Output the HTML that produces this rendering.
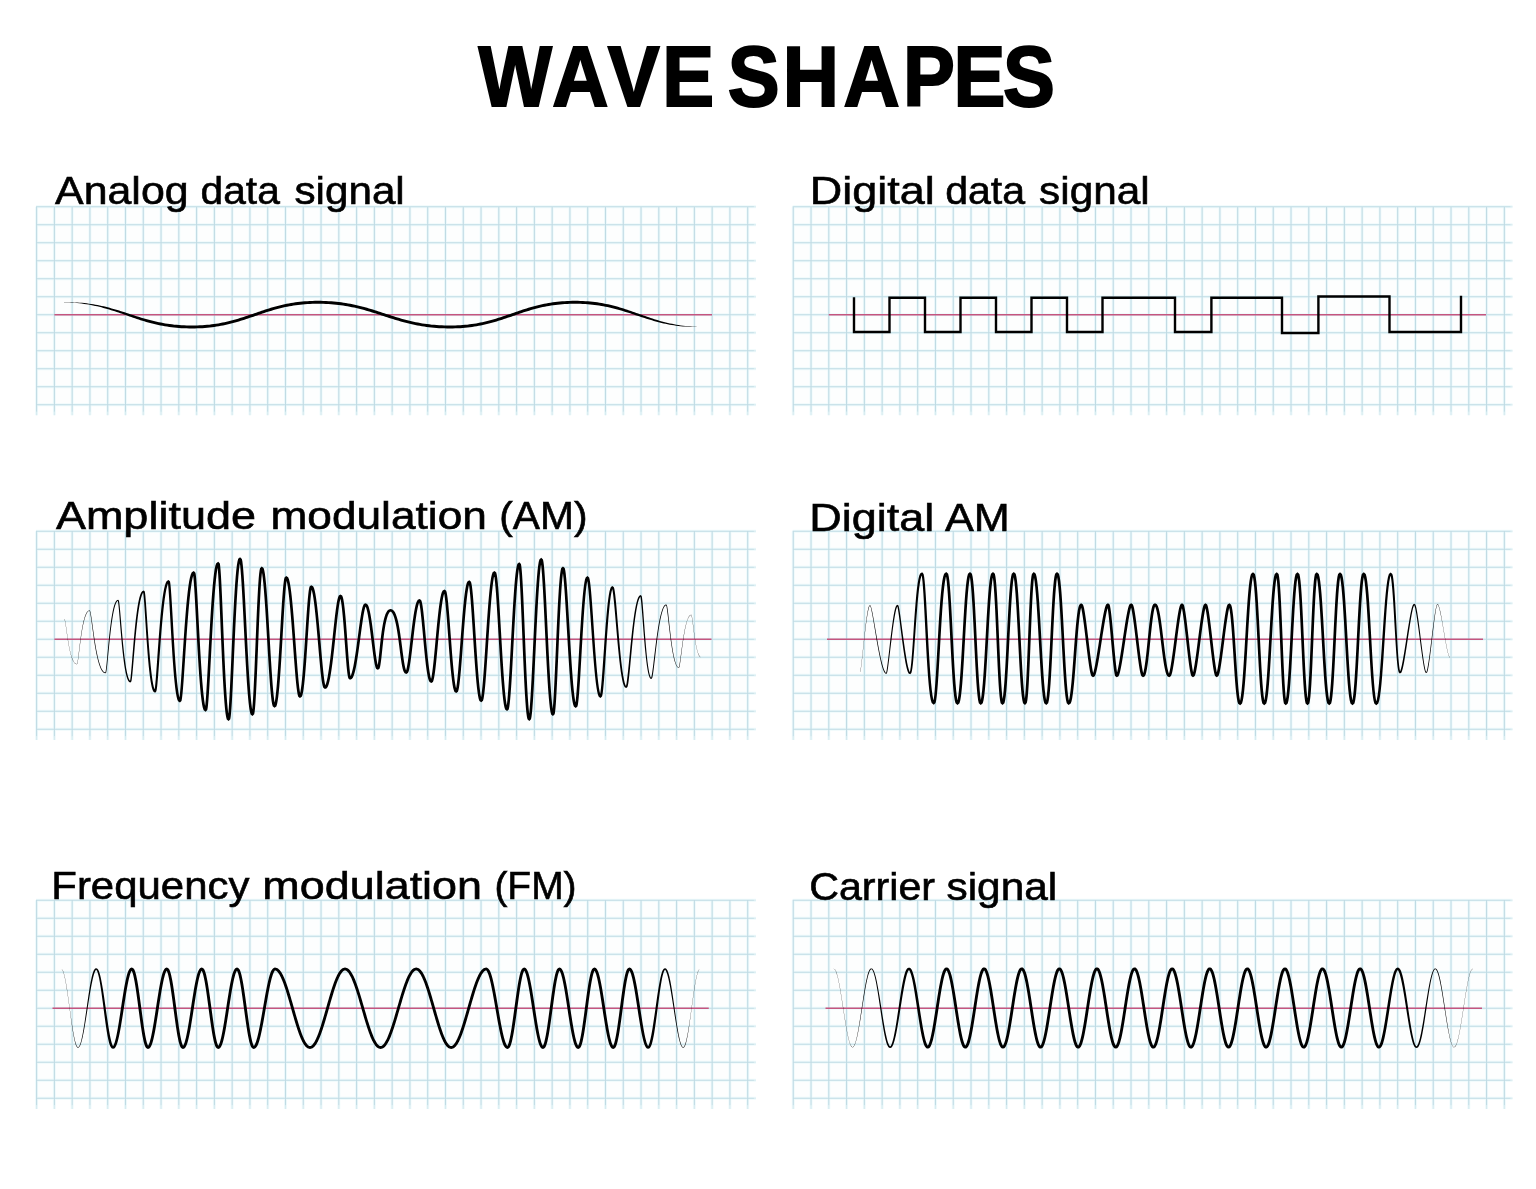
<!DOCTYPE html>
<html lang="en"><head><meta charset="utf-8"><title>Wave Shapes</title>
<style>html,body{margin:0;padding:0;background:#fff;overflow:hidden}svg{display:block}</style>
</head><body>
<svg width="1536" height="1189" viewBox="0 0 1536 1189" role="img" aria-label="Wave shapes">
<rect width="1536" height="1189" fill="#fff"/>
<text id="title" transform="scale(0.92,1)" x="520.0 600.3 660.5 719.8 755.4 790.9 850.8 916.9 981.6 1036.4 1090.2" y="106.5" font-family="'Liberation Sans', sans-serif" font-size="84.6" font-weight="bold" fill="#000" stroke="#000" stroke-width="2" stroke-linejoin="miter">WAVE SHAPES</text>
<g id="panel-analog">
<rect x="36.60" y="206.70" width="711.10" height="198.00" fill="#fdfefe"/>
<path d="M36.60,206.70V411.70M54.38,206.70V411.70M72.16,206.70V411.70M89.93,206.70V411.70M107.71,206.70V411.70M125.49,206.70V411.70M143.26,206.70V411.70M161.04,206.70V411.70M178.82,206.70V411.70M196.60,206.70V411.70M214.38,206.70V411.70M232.15,206.70V411.70M249.93,206.70V411.70M267.71,206.70V411.70M285.49,206.70V411.70M303.26,206.70V411.70M321.04,206.70V411.70M338.82,206.70V411.70M356.60,206.70V411.70M374.37,206.70V411.70M392.15,206.70V411.70M409.93,206.70V411.70M427.71,206.70V411.70M445.48,206.70V411.70M463.26,206.70V411.70M481.04,206.70V411.70M498.81,206.70V411.70M516.59,206.70V411.70M534.37,206.70V411.70M552.15,206.70V411.70M569.93,206.70V411.70M587.70,206.70V411.70M605.48,206.70V411.70M623.26,206.70V411.70M641.03,206.70V411.70M658.81,206.70V411.70M676.59,206.70V411.70M694.37,206.70V411.70M712.14,206.70V411.70M729.92,206.70V411.70M747.70,206.70V411.70M36.00,206.70H753.90M36.00,224.70H753.90M36.00,242.70H753.90M36.00,260.70H753.90M36.00,278.70H753.90M36.00,296.70H753.90M36.00,314.70H753.90M36.00,332.70H753.90M36.00,350.70H753.90M36.00,368.70H753.90M36.00,386.70H753.90M36.00,404.70H753.90M36.60,411.70v3.6M54.38,411.70v3.6M72.16,411.70v3.6M89.93,411.70v3.6M107.71,411.70v3.6M125.49,411.70v3.6M143.26,411.70v3.6M161.04,411.70v3.6M178.82,411.70v3.6M196.60,411.70v3.6M214.38,411.70v3.6M232.15,411.70v3.6M249.93,411.70v3.6M267.71,411.70v3.6M285.49,411.70v3.6M303.26,411.70v3.6M321.04,411.70v3.6M338.82,411.70v3.6M356.60,411.70v3.6M374.37,411.70v3.6M392.15,411.70v3.6M409.93,411.70v3.6M427.71,411.70v3.6M445.48,411.70v3.6M463.26,411.70v3.6M481.04,411.70v3.6M498.81,411.70v3.6M516.59,411.70v3.6M534.37,411.70v3.6M552.15,411.70v3.6M569.93,411.70v3.6M587.70,411.70v3.6M605.48,411.70v3.6M623.26,411.70v3.6M641.03,411.70v3.6M658.81,411.70v3.6M676.59,411.70v3.6M694.37,411.70v3.6M712.14,411.70v3.6M729.92,411.70v3.6M747.70,411.70v3.6M753.90,206.70h2M753.90,224.70h2M753.90,242.70h2M753.90,260.70h2M753.90,278.70h2M753.90,296.70h2M753.90,314.70h2M753.90,332.70h2M753.90,350.70h2M753.90,368.70h2M753.90,386.70h2M753.90,404.70h2" fill="none" stroke="#eefafc" stroke-width="3"/>
<path d="M36.60,206.70V411.70M54.38,206.70V411.70M72.16,206.70V411.70M89.93,206.70V411.70M107.71,206.70V411.70M125.49,206.70V411.70M143.26,206.70V411.70M161.04,206.70V411.70M178.82,206.70V411.70M196.60,206.70V411.70M214.38,206.70V411.70M232.15,206.70V411.70M249.93,206.70V411.70M267.71,206.70V411.70M285.49,206.70V411.70M303.26,206.70V411.70M321.04,206.70V411.70M338.82,206.70V411.70M356.60,206.70V411.70M374.37,206.70V411.70M392.15,206.70V411.70M409.93,206.70V411.70M427.71,206.70V411.70M445.48,206.70V411.70M463.26,206.70V411.70M481.04,206.70V411.70M498.81,206.70V411.70M516.59,206.70V411.70M534.37,206.70V411.70M552.15,206.70V411.70M569.93,206.70V411.70M587.70,206.70V411.70M605.48,206.70V411.70M623.26,206.70V411.70M641.03,206.70V411.70M658.81,206.70V411.70M676.59,206.70V411.70M694.37,206.70V411.70M712.14,206.70V411.70M729.92,206.70V411.70M747.70,206.70V411.70M36.00,206.70H753.90M36.00,224.70H753.90M36.00,242.70H753.90M36.00,260.70H753.90M36.00,278.70H753.90M36.00,296.70H753.90M36.00,314.70H753.90M36.00,332.70H753.90M36.00,350.70H753.90M36.00,368.70H753.90M36.00,386.70H753.90M36.00,404.70H753.90" fill="none" stroke="#c0dbe4" stroke-width="1.1"/>
<path d="M36.60,411.70v3.6M54.38,411.70v3.6M72.16,411.70v3.6M89.93,411.70v3.6M107.71,411.70v3.6M125.49,411.70v3.6M143.26,411.70v3.6M161.04,411.70v3.6M178.82,411.70v3.6M196.60,411.70v3.6M214.38,411.70v3.6M232.15,411.70v3.6M249.93,411.70v3.6M267.71,411.70v3.6M285.49,411.70v3.6M303.26,411.70v3.6M321.04,411.70v3.6M338.82,411.70v3.6M356.60,411.70v3.6M374.37,411.70v3.6M392.15,411.70v3.6M409.93,411.70v3.6M427.71,411.70v3.6M445.48,411.70v3.6M463.26,411.70v3.6M481.04,411.70v3.6M498.81,411.70v3.6M516.59,411.70v3.6M534.37,411.70v3.6M552.15,411.70v3.6M569.93,411.70v3.6M587.70,411.70v3.6M605.48,411.70v3.6M623.26,411.70v3.6M641.03,411.70v3.6M658.81,411.70v3.6M676.59,411.70v3.6M694.37,411.70v3.6M712.14,411.70v3.6M729.92,411.70v3.6M747.70,411.70v3.6M753.90,206.70h2M753.90,224.70h2M753.90,242.70h2M753.90,260.70h2M753.90,278.70h2M753.90,296.70h2M753.90,314.70h2M753.90,332.70h2M753.90,350.70h2M753.90,368.70h2M753.90,386.70h2M753.90,404.70h2" fill="none" stroke="#c0dbe4" stroke-width="1.1" opacity="0.5"/>
<path d="M54.4,314.7H712" stroke="#c5557f" stroke-width="1.6" fill="none"/>
<text y="204.2" font-family="'Liberation Sans', sans-serif" font-size="39" fill="#000" stroke="#000" stroke-width="0.6"><tspan x="55.1" textLength="133.48" lengthAdjust="spacingAndGlyphs">Analog</tspan> <tspan x="200.56" textLength="79.25" lengthAdjust="spacingAndGlyphs">data</tspan> <tspan x="294.42" textLength="110.35" lengthAdjust="spacingAndGlyphs">signal</tspan></text>
<path d="M64.00,302.40L66.72,302.42L69.38,302.49L71.98,302.64L74.52,302.83L77.01,303.05L79.44,303.31L81.83,303.59L84.16,303.91L86.45,304.25L88.69,304.62L90.90,305.02L93.06,305.44L95.18,305.89L97.27,306.36L99.33,306.85L101.35,307.35L103.34,307.88L105.31,308.42L107.25,308.98L109.18,309.55L111.08,310.13L112.96,310.73L114.82,311.34L116.68,311.95L118.52,312.57L120.35,313.20L122.18,313.83L123.99,314.47L125.81,315.11L127.63,315.75L129.45,316.39L131.27,317.03L133.09,317.66L134.93,318.29L136.77,318.92L138.63,319.53L140.50,320.14L142.38,320.74L144.29,321.33L146.21,321.90L148.16,322.46L150.13,323.00L152.13,323.53L154.15,324.03L156.21,324.52L158.30,324.99L160.42,325.43L162.58,325.85L164.77,326.24L167.01,326.60L169.29,326.94L171.61,327.24L173.98,327.51L176.39,327.75L178.86,327.96L181.38,328.13L183.95,328.27L186.57,328.37L189.26,328.43L192.00,328.45L194.69,328.43L197.33,328.37L199.91,328.27L202.44,328.13L204.91,327.96L207.33,327.75L209.70,327.51L212.03,327.24L214.31,326.94L216.55,326.60L218.75,326.24L220.91,325.86L223.03,325.45L225.11,325.01L227.17,324.55L229.19,324.08L231.18,323.58L233.15,323.07L235.09,322.53L237.00,321.99L238.90,321.43L240.78,320.86L242.63,320.28L244.48,319.68L246.31,319.09L248.12,318.48L249.93,317.87L251.73,317.26L253.53,316.64L255.32,316.02L257.11,315.40L258.90,314.79L260.70,314.18L262.50,313.57L264.30,312.97L266.12,312.37L267.94,311.79L269.78,311.21L271.63,310.65L273.50,310.10L275.39,309.56L277.30,309.04L279.24,308.53L281.20,308.04L283.18,307.57L285.20,307.12L287.24,306.70L289.33,306.29L291.44,305.92L293.60,305.56L295.79,305.24L298.03,304.94L300.31,304.67L302.64,304.44L305.02,304.23L307.44,304.06L309.92,303.93L312.46,303.83L315.05,303.77L317.70,303.75L320.49,303.77L323.22,303.83L325.89,303.93L328.50,304.06L331.06,304.23L333.56,304.44L336.02,304.67L338.42,304.94L340.78,305.24L343.09,305.56L345.36,305.92L347.59,306.30L349.78,306.70L351.94,307.13L354.06,307.58L356.16,308.05L358.22,308.53L360.26,309.04L362.27,309.56L364.26,310.10L366.23,310.65L368.18,311.22L370.11,311.79L372.03,312.38L373.95,312.97L375.85,313.58L377.74,314.18L379.63,314.80L381.51,315.41L383.40,316.03L385.29,316.65L387.18,317.26L389.07,317.88L390.97,318.49L392.89,319.09L394.81,319.69L396.75,320.28L398.71,320.86L400.68,321.44L402.67,321.99L404.69,322.54L406.73,323.07L408.80,323.58L410.89,324.08L413.02,324.56L415.18,325.01L417.37,325.45L419.60,325.86L421.87,326.24L424.18,326.60L426.54,326.94L428.94,327.24L431.38,327.51L433.88,327.75L436.43,327.96L439.03,328.13L441.68,328.27L444.39,328.37L447.17,328.43L450.00,328.45L452.68,328.43L455.30,328.37L457.87,328.27L460.38,328.13L462.84,327.96L465.25,327.75L467.61,327.51L469.92,327.24L472.19,326.94L474.41,326.60L476.60,326.24L478.75,325.86L480.86,325.45L482.93,325.01L484.97,324.55L486.99,324.08L488.97,323.58L490.92,323.06L492.85,322.53L494.76,321.99L496.64,321.43L498.51,320.86L500.36,320.28L502.19,319.68L504.01,319.08L505.82,318.48L507.62,317.87L509.41,317.25L511.19,316.64L512.97,316.02L514.76,315.40L516.54,314.79L518.32,314.18L520.11,313.57L521.91,312.97L523.71,312.37L525.52,311.79L527.35,311.21L529.19,310.65L531.05,310.10L532.93,309.56L534.83,309.04L536.75,308.53L538.70,308.04L540.68,307.57L542.68,307.12L544.72,306.70L546.79,306.29L548.89,305.92L551.04,305.56L553.22,305.24L555.44,304.94L557.71,304.67L560.03,304.44L562.39,304.23L564.80,304.06L567.27,303.93L569.79,303.83L572.36,303.77L575.00,303.75L577.65,303.77L580.23,303.83L582.76,303.93L585.24,304.06L587.66,304.23L590.04,304.44L592.36,304.67L594.64,304.94L596.87,305.23L599.06,305.56L601.22,305.90L603.33,306.28L605.41,306.67L607.46,307.09L609.47,307.53L611.46,307.99L613.42,308.47L615.35,308.96L617.26,309.47L619.15,309.99L621.03,310.53L622.88,311.08L624.72,311.64L626.55,312.21L628.37,312.78L630.18,313.37L631.99,313.95L633.78,314.54L635.58,315.14L637.38,315.73L639.17,316.33L640.97,316.92L642.78,317.51L644.59,318.10L646.41,318.67L648.25,319.25L650.09,319.81L651.96,320.36L653.83,320.90L655.73,321.43L657.65,321.94L659.59,322.44L661.55,322.92L663.54,323.38L665.56,323.81L667.61,324.23L669.69,324.63L671.80,325.00L673.95,325.34L676.14,325.66L678.36,325.94L680.63,326.20L682.94,326.42L685.30,326.62L687.70,326.77L690.16,326.90L692.66,326.98L695.22,327.03L697.83,327.08L700.50,327.10L700.50,326.90L697.83,326.88L695.23,326.81L692.68,326.66L690.18,326.47L687.75,326.25L685.36,326.00L683.02,325.72L680.73,325.40L678.49,325.06L676.29,324.69L674.13,324.29L672.01,323.87L669.93,323.42L667.88,322.95L665.87,322.47L663.88,321.96L661.93,321.43L660.00,320.89L658.09,320.34L656.21,319.76L654.35,319.18L652.50,318.59L650.67,317.98L648.86,317.37L647.05,316.74L645.26,316.12L643.47,315.48L641.69,314.85L639.90,314.21L638.12,313.57L636.34,312.93L634.56,312.29L632.77,311.65L630.97,311.02L629.16,310.40L627.34,309.78L625.51,309.17L623.66,308.58L621.79,307.99L619.90,307.41L617.99,306.85L616.06,306.31L614.10,305.78L612.12,305.28L610.10,304.79L608.05,304.32L605.97,303.88L603.86,303.46L601.70,303.07L599.51,302.70L597.28,302.37L595.00,302.06L592.67,301.79L590.31,301.55L587.89,301.34L585.42,301.17L582.90,301.03L580.32,300.93L577.69,300.87L575.00,300.85L572.32,300.87L569.70,300.93L567.13,301.03L564.62,301.17L562.16,301.34L559.75,301.55L557.39,301.79L555.08,302.06L552.81,302.36L550.59,302.70L548.40,303.06L546.25,303.44L544.14,303.85L542.07,304.29L540.03,304.75L538.01,305.22L536.03,305.72L534.08,306.24L532.15,306.77L530.24,307.31L528.36,307.87L526.49,308.44L524.64,309.02L522.81,309.62L520.99,310.22L519.18,310.82L517.38,311.43L515.59,312.05L513.81,312.66L512.03,313.28L510.24,313.90L508.46,314.51L506.68,315.12L504.89,315.73L503.09,316.33L501.29,316.93L499.48,317.51L497.65,318.09L495.81,318.65L493.95,319.20L492.07,319.74L490.17,320.26L488.25,320.77L486.30,321.26L484.32,321.73L482.32,322.18L480.28,322.60L478.21,323.01L476.11,323.38L473.96,323.74L471.78,324.06L469.56,324.36L467.29,324.63L464.97,324.86L462.61,325.07L460.20,325.24L457.73,325.37L455.21,325.47L452.64,325.53L450.00,325.55L447.21,325.53L444.48,325.47L441.81,325.37L439.20,325.24L436.64,325.07L434.14,324.86L431.68,324.63L429.28,324.36L426.92,324.06L424.61,323.74L422.34,323.38L420.11,323.00L417.92,322.60L415.76,322.17L413.64,321.72L411.54,321.25L409.48,320.77L407.44,320.26L405.43,319.74L403.44,319.20L401.47,318.65L399.52,318.08L397.59,317.51L395.67,316.92L393.75,316.33L391.85,315.72L389.96,315.12L388.07,314.50L386.19,313.89L384.30,313.27L382.41,312.65L380.52,312.04L378.63,311.42L376.73,310.81L374.81,310.21L372.89,309.61L370.95,309.02L368.99,308.44L367.02,307.86L365.03,307.31L363.01,306.76L360.97,306.23L358.90,305.72L356.81,305.22L354.68,304.74L352.52,304.29L350.33,303.85L348.10,303.44L345.83,303.06L343.52,302.70L341.16,302.36L338.76,302.06L336.32,301.79L333.82,301.55L331.27,301.34L328.67,301.17L326.02,301.03L323.31,300.93L320.53,300.87L317.70,300.85L315.01,300.87L312.37,300.93L309.79,301.03L307.26,301.17L304.79,301.34L302.37,301.55L300.00,301.79L297.67,302.06L295.39,302.36L293.15,302.70L290.95,303.06L288.79,303.44L286.67,303.85L284.59,304.29L282.53,304.75L280.51,305.22L278.52,305.72L276.55,306.23L274.61,306.77L272.70,307.31L270.80,307.87L268.92,308.44L267.07,309.02L265.22,309.62L263.39,310.21L261.58,310.82L259.77,311.43L257.97,312.04L256.17,312.66L254.38,313.28L252.59,313.90L250.80,314.51L249.00,315.12L247.20,315.73L245.40,316.33L243.58,316.93L241.76,317.51L239.92,318.09L238.07,318.65L236.20,319.20L234.31,319.74L232.40,320.26L230.46,320.77L228.50,321.26L226.52,321.73L224.50,322.18L222.46,322.60L220.37,323.01L218.26,323.38L216.10,323.74L213.91,324.06L211.67,324.36L209.39,324.63L207.06,324.86L204.68,325.07L202.26,325.24L199.78,325.37L197.24,325.47L194.65,325.53L192.00,325.55L189.30,325.53L186.66,325.47L184.08,325.37L181.55,325.24L179.08,325.07L176.66,324.86L174.29,324.63L171.96,324.36L169.69,324.06L167.45,323.74L165.25,323.39L163.10,323.02L160.97,322.62L158.89,322.20L156.83,321.76L154.80,321.30L152.81,320.82L150.83,320.33L148.88,319.82L146.95,319.29L145.04,318.76L143.15,318.21L141.27,317.65L139.41,317.08L137.55,316.50L135.71,315.92L133.87,315.33L132.04,314.74L130.20,314.14L128.37,313.55L126.54,312.96L124.70,312.36L122.86,311.77L121.01,311.19L119.16,310.61L117.29,310.04L115.40,309.48L113.51,308.92L111.59,308.38L109.66,307.86L107.70,307.35L105.72,306.85L103.72,306.37L101.69,305.91L99.63,305.47L97.55,305.06L95.42,304.66L93.27,304.29L91.08,303.95L88.85,303.63L86.58,303.35L84.26,303.09L81.90,302.87L79.50,302.68L77.05,302.52L74.55,302.40L71.99,302.32L69.39,302.27L66.72,302.22L64.00,302.20Z" fill="#000"/>
</g>
<g id="panel-digital">
<rect x="793.25" y="206.70" width="711.10" height="198.00" fill="#fdfefe"/>
<path d="M793.25,206.70V411.70M811.03,206.70V411.70M828.80,206.70V411.70M846.58,206.70V411.70M864.36,206.70V411.70M882.14,206.70V411.70M899.91,206.70V411.70M917.69,206.70V411.70M935.47,206.70V411.70M953.25,206.70V411.70M971.02,206.70V411.70M988.80,206.70V411.70M1006.58,206.70V411.70M1024.36,206.70V411.70M1042.13,206.70V411.70M1059.91,206.70V411.70M1077.69,206.70V411.70M1095.47,206.70V411.70M1113.24,206.70V411.70M1131.02,206.70V411.70M1148.80,206.70V411.70M1166.58,206.70V411.70M1184.36,206.70V411.70M1202.13,206.70V411.70M1219.91,206.70V411.70M1237.69,206.70V411.70M1255.46,206.70V411.70M1273.24,206.70V411.70M1291.02,206.70V411.70M1308.80,206.70V411.70M1326.58,206.70V411.70M1344.35,206.70V411.70M1362.13,206.70V411.70M1379.91,206.70V411.70M1397.68,206.70V411.70M1415.46,206.70V411.70M1433.24,206.70V411.70M1451.02,206.70V411.70M1468.80,206.70V411.70M1486.57,206.70V411.70M1504.35,206.70V411.70M792.65,206.70H1510.55M792.65,224.70H1510.55M792.65,242.70H1510.55M792.65,260.70H1510.55M792.65,278.70H1510.55M792.65,296.70H1510.55M792.65,314.70H1510.55M792.65,332.70H1510.55M792.65,350.70H1510.55M792.65,368.70H1510.55M792.65,386.70H1510.55M792.65,404.70H1510.55M793.25,411.70v3.6M811.03,411.70v3.6M828.80,411.70v3.6M846.58,411.70v3.6M864.36,411.70v3.6M882.14,411.70v3.6M899.91,411.70v3.6M917.69,411.70v3.6M935.47,411.70v3.6M953.25,411.70v3.6M971.02,411.70v3.6M988.80,411.70v3.6M1006.58,411.70v3.6M1024.36,411.70v3.6M1042.13,411.70v3.6M1059.91,411.70v3.6M1077.69,411.70v3.6M1095.47,411.70v3.6M1113.24,411.70v3.6M1131.02,411.70v3.6M1148.80,411.70v3.6M1166.58,411.70v3.6M1184.36,411.70v3.6M1202.13,411.70v3.6M1219.91,411.70v3.6M1237.69,411.70v3.6M1255.46,411.70v3.6M1273.24,411.70v3.6M1291.02,411.70v3.6M1308.80,411.70v3.6M1326.58,411.70v3.6M1344.35,411.70v3.6M1362.13,411.70v3.6M1379.91,411.70v3.6M1397.68,411.70v3.6M1415.46,411.70v3.6M1433.24,411.70v3.6M1451.02,411.70v3.6M1468.80,411.70v3.6M1486.57,411.70v3.6M1504.35,411.70v3.6M1510.55,206.70h2M1510.55,224.70h2M1510.55,242.70h2M1510.55,260.70h2M1510.55,278.70h2M1510.55,296.70h2M1510.55,314.70h2M1510.55,332.70h2M1510.55,350.70h2M1510.55,368.70h2M1510.55,386.70h2M1510.55,404.70h2" fill="none" stroke="#eefafc" stroke-width="3"/>
<path d="M793.25,206.70V411.70M811.03,206.70V411.70M828.80,206.70V411.70M846.58,206.70V411.70M864.36,206.70V411.70M882.14,206.70V411.70M899.91,206.70V411.70M917.69,206.70V411.70M935.47,206.70V411.70M953.25,206.70V411.70M971.02,206.70V411.70M988.80,206.70V411.70M1006.58,206.70V411.70M1024.36,206.70V411.70M1042.13,206.70V411.70M1059.91,206.70V411.70M1077.69,206.70V411.70M1095.47,206.70V411.70M1113.24,206.70V411.70M1131.02,206.70V411.70M1148.80,206.70V411.70M1166.58,206.70V411.70M1184.36,206.70V411.70M1202.13,206.70V411.70M1219.91,206.70V411.70M1237.69,206.70V411.70M1255.46,206.70V411.70M1273.24,206.70V411.70M1291.02,206.70V411.70M1308.80,206.70V411.70M1326.58,206.70V411.70M1344.35,206.70V411.70M1362.13,206.70V411.70M1379.91,206.70V411.70M1397.68,206.70V411.70M1415.46,206.70V411.70M1433.24,206.70V411.70M1451.02,206.70V411.70M1468.80,206.70V411.70M1486.57,206.70V411.70M1504.35,206.70V411.70M792.65,206.70H1510.55M792.65,224.70H1510.55M792.65,242.70H1510.55M792.65,260.70H1510.55M792.65,278.70H1510.55M792.65,296.70H1510.55M792.65,314.70H1510.55M792.65,332.70H1510.55M792.65,350.70H1510.55M792.65,368.70H1510.55M792.65,386.70H1510.55M792.65,404.70H1510.55" fill="none" stroke="#c0dbe4" stroke-width="1.1"/>
<path d="M793.25,411.70v3.6M811.03,411.70v3.6M828.80,411.70v3.6M846.58,411.70v3.6M864.36,411.70v3.6M882.14,411.70v3.6M899.91,411.70v3.6M917.69,411.70v3.6M935.47,411.70v3.6M953.25,411.70v3.6M971.02,411.70v3.6M988.80,411.70v3.6M1006.58,411.70v3.6M1024.36,411.70v3.6M1042.13,411.70v3.6M1059.91,411.70v3.6M1077.69,411.70v3.6M1095.47,411.70v3.6M1113.24,411.70v3.6M1131.02,411.70v3.6M1148.80,411.70v3.6M1166.58,411.70v3.6M1184.36,411.70v3.6M1202.13,411.70v3.6M1219.91,411.70v3.6M1237.69,411.70v3.6M1255.46,411.70v3.6M1273.24,411.70v3.6M1291.02,411.70v3.6M1308.80,411.70v3.6M1326.58,411.70v3.6M1344.35,411.70v3.6M1362.13,411.70v3.6M1379.91,411.70v3.6M1397.68,411.70v3.6M1415.46,411.70v3.6M1433.24,411.70v3.6M1451.02,411.70v3.6M1468.80,411.70v3.6M1486.57,411.70v3.6M1504.35,411.70v3.6M1510.55,206.70h2M1510.55,224.70h2M1510.55,242.70h2M1510.55,260.70h2M1510.55,278.70h2M1510.55,296.70h2M1510.55,314.70h2M1510.55,332.70h2M1510.55,350.70h2M1510.55,368.70h2M1510.55,386.70h2M1510.55,404.70h2" fill="none" stroke="#c0dbe4" stroke-width="1.1" opacity="0.5"/>
<path d="M828.75,314.7H1486" stroke="#c5557f" stroke-width="1.6" fill="none"/>
<text y="204.2" font-family="'Liberation Sans', sans-serif" font-size="39" fill="#000" stroke="#000" stroke-width="0.6"><tspan x="809.74" textLength="125.0" lengthAdjust="spacingAndGlyphs">Digital</tspan> <tspan x="945.15" textLength="79.95" lengthAdjust="spacingAndGlyphs">data</tspan> <tspan x="1039.12" textLength="110.55" lengthAdjust="spacingAndGlyphs">signal</tspan></text>
<path d="M854,297.2V332H889.5V297.75H925V332H960.5V297.75H996V332H1031.5V297.75H1067V332H1102.5V297.75H1175V332H1211.4V297.75H1282V333H1318.4V296.5H1389.5V332H1461V295.8" fill="none" stroke="#000" stroke-width="2.4" stroke-linejoin="miter"/>
</g>
<g id="panel-am">
<rect x="36.60" y="531.30" width="711.10" height="198.00" fill="#fdfefe"/>
<path d="M36.60,531.30V736.30M54.38,531.30V736.30M72.16,531.30V736.30M89.93,531.30V736.30M107.71,531.30V736.30M125.49,531.30V736.30M143.26,531.30V736.30M161.04,531.30V736.30M178.82,531.30V736.30M196.60,531.30V736.30M214.38,531.30V736.30M232.15,531.30V736.30M249.93,531.30V736.30M267.71,531.30V736.30M285.49,531.30V736.30M303.26,531.30V736.30M321.04,531.30V736.30M338.82,531.30V736.30M356.60,531.30V736.30M374.37,531.30V736.30M392.15,531.30V736.30M409.93,531.30V736.30M427.71,531.30V736.30M445.48,531.30V736.30M463.26,531.30V736.30M481.04,531.30V736.30M498.81,531.30V736.30M516.59,531.30V736.30M534.37,531.30V736.30M552.15,531.30V736.30M569.93,531.30V736.30M587.70,531.30V736.30M605.48,531.30V736.30M623.26,531.30V736.30M641.03,531.30V736.30M658.81,531.30V736.30M676.59,531.30V736.30M694.37,531.30V736.30M712.14,531.30V736.30M729.92,531.30V736.30M747.70,531.30V736.30M36.00,531.30H753.90M36.00,549.30H753.90M36.00,567.30H753.90M36.00,585.30H753.90M36.00,603.30H753.90M36.00,621.30H753.90M36.00,639.30H753.90M36.00,657.30H753.90M36.00,675.30H753.90M36.00,693.30H753.90M36.00,711.30H753.90M36.00,729.30H753.90M36.60,736.30v3.6M54.38,736.30v3.6M72.16,736.30v3.6M89.93,736.30v3.6M107.71,736.30v3.6M125.49,736.30v3.6M143.26,736.30v3.6M161.04,736.30v3.6M178.82,736.30v3.6M196.60,736.30v3.6M214.38,736.30v3.6M232.15,736.30v3.6M249.93,736.30v3.6M267.71,736.30v3.6M285.49,736.30v3.6M303.26,736.30v3.6M321.04,736.30v3.6M338.82,736.30v3.6M356.60,736.30v3.6M374.37,736.30v3.6M392.15,736.30v3.6M409.93,736.30v3.6M427.71,736.30v3.6M445.48,736.30v3.6M463.26,736.30v3.6M481.04,736.30v3.6M498.81,736.30v3.6M516.59,736.30v3.6M534.37,736.30v3.6M552.15,736.30v3.6M569.93,736.30v3.6M587.70,736.30v3.6M605.48,736.30v3.6M623.26,736.30v3.6M641.03,736.30v3.6M658.81,736.30v3.6M676.59,736.30v3.6M694.37,736.30v3.6M712.14,736.30v3.6M729.92,736.30v3.6M747.70,736.30v3.6M753.90,531.30h2M753.90,549.30h2M753.90,567.30h2M753.90,585.30h2M753.90,603.30h2M753.90,621.30h2M753.90,639.30h2M753.90,657.30h2M753.90,675.30h2M753.90,693.30h2M753.90,711.30h2M753.90,729.30h2" fill="none" stroke="#eefafc" stroke-width="3"/>
<path d="M36.60,531.30V736.30M54.38,531.30V736.30M72.16,531.30V736.30M89.93,531.30V736.30M107.71,531.30V736.30M125.49,531.30V736.30M143.26,531.30V736.30M161.04,531.30V736.30M178.82,531.30V736.30M196.60,531.30V736.30M214.38,531.30V736.30M232.15,531.30V736.30M249.93,531.30V736.30M267.71,531.30V736.30M285.49,531.30V736.30M303.26,531.30V736.30M321.04,531.30V736.30M338.82,531.30V736.30M356.60,531.30V736.30M374.37,531.30V736.30M392.15,531.30V736.30M409.93,531.30V736.30M427.71,531.30V736.30M445.48,531.30V736.30M463.26,531.30V736.30M481.04,531.30V736.30M498.81,531.30V736.30M516.59,531.30V736.30M534.37,531.30V736.30M552.15,531.30V736.30M569.93,531.30V736.30M587.70,531.30V736.30M605.48,531.30V736.30M623.26,531.30V736.30M641.03,531.30V736.30M658.81,531.30V736.30M676.59,531.30V736.30M694.37,531.30V736.30M712.14,531.30V736.30M729.92,531.30V736.30M747.70,531.30V736.30M36.00,531.30H753.90M36.00,549.30H753.90M36.00,567.30H753.90M36.00,585.30H753.90M36.00,603.30H753.90M36.00,621.30H753.90M36.00,639.30H753.90M36.00,657.30H753.90M36.00,675.30H753.90M36.00,693.30H753.90M36.00,711.30H753.90M36.00,729.30H753.90" fill="none" stroke="#c0dbe4" stroke-width="1.1"/>
<path d="M36.60,736.30v3.6M54.38,736.30v3.6M72.16,736.30v3.6M89.93,736.30v3.6M107.71,736.30v3.6M125.49,736.30v3.6M143.26,736.30v3.6M161.04,736.30v3.6M178.82,736.30v3.6M196.60,736.30v3.6M214.38,736.30v3.6M232.15,736.30v3.6M249.93,736.30v3.6M267.71,736.30v3.6M285.49,736.30v3.6M303.26,736.30v3.6M321.04,736.30v3.6M338.82,736.30v3.6M356.60,736.30v3.6M374.37,736.30v3.6M392.15,736.30v3.6M409.93,736.30v3.6M427.71,736.30v3.6M445.48,736.30v3.6M463.26,736.30v3.6M481.04,736.30v3.6M498.81,736.30v3.6M516.59,736.30v3.6M534.37,736.30v3.6M552.15,736.30v3.6M569.93,736.30v3.6M587.70,736.30v3.6M605.48,736.30v3.6M623.26,736.30v3.6M641.03,736.30v3.6M658.81,736.30v3.6M676.59,736.30v3.6M694.37,736.30v3.6M712.14,736.30v3.6M729.92,736.30v3.6M747.70,736.30v3.6M753.90,531.30h2M753.90,549.30h2M753.90,567.30h2M753.90,585.30h2M753.90,603.30h2M753.90,621.30h2M753.90,639.30h2M753.90,657.30h2M753.90,675.30h2M753.90,693.30h2M753.90,711.30h2M753.90,729.30h2" fill="none" stroke="#c0dbe4" stroke-width="1.1" opacity="0.5"/>
<path d="M54.4,639.2H711.5" stroke="#c5557f" stroke-width="1.6" fill="none"/>
<text y="529.2" font-family="'Liberation Sans', sans-serif" font-size="39" fill="#000" stroke="#000" stroke-width="0.6"><tspan x="55.9" textLength="200.06" lengthAdjust="spacingAndGlyphs">Amplitude</tspan> <tspan x="270.53" textLength="216.3" lengthAdjust="spacingAndGlyphs">modulation</tspan> <tspan x="499.21" textLength="88.29" lengthAdjust="spacingAndGlyphs">(AM)</tspan></text>
<path d="M64.23,619.07L64.45,619.28L64.69,619.92L64.94,620.96L65.21,622.37L65.49,624.08L65.79,626.08L66.11,628.31L66.45,630.73L66.81,633.32L67.20,636.02L67.62,638.80L68.07,641.62L68.56,644.44L69.08,647.22L69.64,649.92L70.24,652.51L70.88,654.94L71.57,657.17L72.31,659.17L73.11,660.90L73.95,662.32L74.86,663.39L75.84,664.07L76.90,664.31L77.24,663.97L77.50,663.17L77.76,661.92L78.04,660.25L78.33,658.21L78.65,655.84L78.98,653.20L79.33,650.32L79.71,647.26L80.12,644.06L80.55,640.76L81.01,637.42L81.51,634.08L82.04,630.79L82.61,627.59L83.22,624.54L83.87,621.67L84.56,619.03L85.29,616.68L86.07,614.66L86.89,613.02L87.74,611.81L88.62,611.08L89.49,610.84L89.60,611.02L89.90,611.89L90.22,613.33L90.57,615.26L90.94,617.62L91.34,620.37L91.75,623.44L92.20,626.79L92.68,630.35L93.19,634.08L93.73,637.91L94.31,641.80L94.93,645.69L95.60,649.52L96.31,653.25L97.07,656.82L97.88,660.18L98.74,663.27L99.66,666.04L100.64,668.44L101.70,670.42L102.84,671.93L104.10,672.92L105.51,673.28L106.10,672.66L106.38,671.54L106.65,669.83L106.94,667.57L107.25,664.80L107.58,661.60L107.93,658.01L108.31,654.12L108.71,649.97L109.13,645.63L109.59,641.17L110.07,636.65L110.58,632.13L111.12,627.67L111.70,623.34L112.31,619.20L112.95,615.31L113.64,611.75L114.36,608.57L115.12,605.83L115.91,603.62L116.72,602.01L117.49,601.09L118.08,600.84L117.82,600.87L118.05,601.99L118.31,603.87L118.59,606.39L118.89,609.49L119.20,613.08L119.53,617.10L119.89,621.48L120.27,626.14L120.67,631.01L121.10,636.02L121.56,641.11L122.04,646.20L122.56,651.21L123.11,656.09L123.69,660.76L124.31,665.15L124.96,669.18L125.65,672.81L126.39,675.94L127.17,678.53L128.03,680.53L129.03,681.91L130.43,682.51L131.34,681.54L131.63,680.14L131.94,678.00L132.26,675.17L132.60,671.72L132.96,667.72L133.35,663.26L133.76,658.40L134.20,653.23L134.67,647.82L135.16,642.26L135.68,636.62L136.23,630.99L136.81,625.43L137.43,620.03L138.07,614.87L138.75,610.03L139.47,605.58L140.22,601.62L141.00,598.22L141.81,595.47L142.62,593.48L143.36,592.39L143.66,592.18L143.08,592.02L143.32,593.39L143.57,595.70L143.85,598.80L144.14,602.61L144.45,607.03L144.77,611.98L145.12,617.36L145.48,623.10L145.87,629.09L146.27,635.26L146.70,641.52L147.16,647.78L147.64,653.95L148.15,659.95L148.68,665.70L149.25,671.09L149.84,676.06L150.47,680.51L151.13,684.37L151.83,687.55L152.59,690.00L153.49,691.73L155.15,692.64L156.40,691.33L156.75,689.59L157.10,686.97L157.46,683.52L157.83,679.31L158.23,674.43L158.64,668.98L159.08,663.06L159.54,656.75L160.02,650.15L160.53,643.37L161.06,636.49L161.61,629.61L162.20,622.83L162.81,616.24L163.45,609.94L164.13,604.03L164.83,598.61L165.56,593.77L166.32,589.61L167.11,586.25L167.90,583.82L168.60,582.51L168.55,582.38L167.73,582.08L167.99,583.71L168.28,586.47L168.58,590.18L168.90,594.73L169.23,600.02L169.57,605.94L169.93,612.38L170.31,619.24L170.70,626.41L171.11,633.79L171.54,641.27L172.00,648.76L172.47,656.15L172.97,663.32L173.49,670.19L174.03,676.65L174.61,682.58L175.21,687.90L175.83,692.51L176.50,696.30L177.21,699.22L178.06,701.27L179.95,702.49L181.50,700.91L181.92,698.86L182.31,695.81L182.72,691.77L183.13,686.85L183.56,681.15L184.01,674.79L184.48,667.87L184.96,660.50L185.46,652.80L185.98,644.88L186.53,636.84L187.09,628.81L187.68,620.89L188.30,613.20L188.94,605.84L189.61,598.94L190.30,592.60L191.02,586.94L191.77,582.08L192.54,578.14L193.33,575.27L194.02,573.72L193.75,573.64L192.83,573.32L193.14,575.19L193.48,578.36L193.83,582.63L194.19,587.87L194.57,593.96L194.95,600.77L195.35,608.18L195.76,616.07L196.19,624.32L196.63,632.81L197.09,641.42L197.57,650.04L198.07,658.53L198.58,666.79L199.12,674.69L199.68,682.12L200.26,688.94L200.86,695.06L201.49,700.35L202.15,704.70L202.86,708.03L203.67,710.33L205.66,711.75L207.28,710.00L207.70,707.68L208.09,704.20L208.49,699.59L208.89,693.96L209.31,687.45L209.73,680.17L210.17,672.26L210.61,663.83L211.08,655.03L211.55,645.96L212.04,636.77L212.55,627.59L213.08,618.53L213.62,609.73L214.19,601.31L214.77,593.41L215.38,586.15L216.01,579.67L216.66,574.09L217.33,569.56L218.01,566.24L218.64,564.36L218.14,564.35L217.21,564.08L217.52,566.23L217.85,569.84L218.19,574.69L218.53,580.64L218.88,587.55L219.24,595.28L219.60,603.68L219.98,612.64L220.36,622.00L220.76,631.63L221.17,641.41L221.59,651.18L222.02,660.82L222.46,670.19L222.93,679.15L223.40,687.57L223.90,695.31L224.41,702.24L224.94,708.23L225.49,713.14L226.07,716.87L226.73,719.40L228.63,721.05L230.29,719.20L230.70,716.70L231.09,712.89L231.48,707.85L231.88,701.71L232.28,694.58L232.68,686.63L233.09,677.97L233.52,668.76L233.94,659.12L234.38,649.21L234.83,639.16L235.30,629.11L235.77,619.20L236.26,609.58L236.77,600.37L237.29,591.73L237.82,583.79L238.37,576.69L238.94,570.58L239.53,565.61L240.13,561.94L240.69,559.83L240.13,559.85L239.26,559.68L239.68,561.78L240.13,565.36L240.58,570.18L241.03,576.11L241.49,582.99L241.95,590.69L242.41,599.07L242.88,607.99L243.35,617.32L243.83,626.93L244.32,636.67L244.81,646.41L245.32,656.02L245.84,665.35L246.37,674.29L246.91,682.68L247.47,690.40L248.04,697.31L248.63,703.28L249.24,708.18L249.88,711.91L250.60,714.44L252.44,716.05L254.19,714.31L254.61,711.99L255.00,708.51L255.37,703.92L255.75,698.31L256.11,691.82L256.48,684.56L256.84,676.68L257.21,668.28L257.57,659.50L257.94,650.46L258.30,641.30L258.67,632.14L259.04,623.11L259.42,614.34L259.80,605.95L260.18,598.07L260.57,590.83L260.97,584.36L261.38,578.79L261.79,574.25L262.20,570.90L262.60,568.94L261.80,569.15L261.12,569.04L261.63,570.82L262.19,573.96L262.75,578.23L263.30,583.48L263.84,589.58L264.38,596.40L264.91,603.84L265.43,611.76L265.94,620.04L266.45,628.56L266.96,637.20L267.47,645.85L267.97,654.38L268.47,662.66L268.98,670.59L269.48,678.04L269.99,684.89L270.50,691.03L271.02,696.33L271.55,700.68L272.09,703.99L272.70,706.25L274.44,707.80L276.34,706.38L277.04,704.23L277.65,701.12L278.23,697.05L278.79,692.11L279.33,686.39L279.85,680.00L280.37,673.06L280.87,665.67L281.36,657.95L281.84,650.01L282.31,641.95L282.77,633.90L283.23,625.96L283.68,618.24L284.12,610.87L284.56,603.94L284.99,597.58L285.43,591.89L285.86,587.00L286.29,583.01L286.71,580.08L287.09,578.39L286.31,578.65L285.83,578.61L286.40,580.05L287.06,582.71L287.71,586.36L288.36,590.86L288.98,596.11L289.60,601.98L290.20,608.38L290.78,615.19L291.35,622.32L291.92,629.66L292.47,637.10L293.01,644.54L293.54,651.89L294.07,659.02L294.59,665.85L295.10,672.27L295.61,678.17L296.12,683.45L296.63,688.02L297.14,691.78L297.66,694.65L298.25,696.63L299.94,698.05L301.78,696.79L302.48,694.89L303.07,692.21L303.62,688.73L304.16,684.50L304.68,679.62L305.18,674.17L305.67,668.25L306.16,661.95L306.62,655.36L307.08,648.58L307.53,641.71L307.98,634.84L308.41,628.07L308.84,621.49L309.27,615.20L309.69,609.29L310.10,603.87L310.52,599.02L310.93,594.86L311.34,591.47L311.74,588.98L312.09,587.59L311.30,587.90L310.89,587.85L311.42,589.00L312.07,591.22L312.72,594.29L313.36,598.10L313.99,602.53L314.60,607.50L315.20,612.92L315.78,618.69L316.36,624.72L316.92,630.94L317.47,637.24L318.01,643.55L318.54,649.77L319.07,655.81L319.59,661.60L320.10,667.04L320.61,672.04L321.12,676.52L321.63,680.40L322.15,683.60L322.68,686.06L323.29,687.80L324.95,689.05L326.83,688.14L327.85,686.45L328.69,684.15L329.46,681.20L330.21,677.65L330.93,673.56L331.62,669.00L332.30,664.05L332.97,658.79L333.61,653.29L334.25,647.63L334.87,641.89L335.48,636.16L336.08,630.51L336.67,625.02L337.25,619.78L337.83,614.86L338.41,610.34L338.98,606.31L339.54,602.85L340.10,600.05L340.63,598.03L341.06,596.99L340.56,597.15L339.85,596.92L340.20,597.82L340.65,599.63L341.10,602.13L341.54,605.24L341.97,608.86L342.40,612.92L342.81,617.35L343.22,622.06L343.61,626.99L344.00,632.07L344.38,637.22L344.75,642.38L345.12,647.46L345.48,652.40L345.84,657.13L346.20,661.57L346.55,665.66L346.90,669.32L347.26,672.49L347.61,675.11L347.98,677.12L348.41,678.57L349.95,679.80L351.72,679.08L352.80,677.66L353.66,675.75L354.45,673.35L355.20,670.48L355.92,667.17L356.62,663.50L357.30,659.51L357.96,655.27L358.61,650.84L359.24,646.29L359.86,641.68L360.47,637.07L361.07,632.53L361.67,628.11L362.25,623.90L362.83,619.95L363.40,616.32L363.97,613.09L364.53,610.32L365.08,608.09L365.60,606.51L365.98,605.76L365.56,605.90L365.21,605.84L365.59,606.43L366.13,607.74L366.70,609.63L367.26,612.00L367.82,614.78L368.36,617.91L368.90,621.32L369.42,624.95L369.93,628.76L370.43,632.68L370.93,636.66L371.41,640.65L371.89,644.58L372.36,648.40L372.82,652.06L373.28,655.50L373.74,658.67L374.20,661.52L374.66,663.99L375.13,666.04L375.62,667.67L376.25,668.92L377.75,669.80L379.31,668.89L379.82,667.71L380.20,666.23L380.54,664.36L380.87,662.11L381.20,659.52L381.53,656.64L381.86,653.52L382.21,650.19L382.57,646.72L382.96,643.15L383.36,639.53L383.80,635.92L384.28,632.36L384.79,628.91L385.34,625.62L385.94,622.53L386.58,619.72L387.28,617.22L388.02,615.11L388.80,613.46L389.55,612.33L390.18,611.78L390.59,611.65L391.08,611.79L391.77,612.41L392.59,613.64L393.42,615.43L394.22,617.70L394.98,620.39L395.69,623.41L396.36,626.73L396.98,630.27L397.57,633.97L398.12,637.80L398.65,641.68L399.16,645.56L399.65,649.40L400.13,653.13L400.61,656.71L401.09,660.07L401.58,663.17L402.08,665.96L402.61,668.40L403.17,670.43L403.80,672.07L404.66,673.34L406.31,674.05L407.85,673.10L408.51,671.73L409.04,669.91L409.54,667.60L410.03,664.80L410.53,661.58L411.02,657.99L411.52,654.10L412.02,649.95L412.53,645.62L413.04,641.17L413.57,636.66L414.10,632.15L414.64,627.70L415.19,623.38L415.75,619.26L416.32,615.39L416.91,611.85L417.51,608.69L418.12,605.99L418.74,603.84L419.33,602.32L419.77,601.61L419.45,601.65L418.76,601.36L419.08,602.27L419.49,604.06L419.91,606.54L420.34,609.60L420.78,613.17L421.21,617.18L421.65,621.54L422.10,626.18L422.55,631.04L423.00,636.05L423.46,641.12L423.94,646.20L424.41,651.21L424.90,656.08L425.41,660.75L425.92,665.13L426.45,669.17L426.99,672.79L427.55,675.93L428.14,678.54L428.77,680.58L429.56,682.11L431.31,683.05L432.93,681.89L433.54,680.28L434.06,678.06L434.56,675.18L435.06,671.68L435.55,667.65L436.05,663.15L436.55,658.27L437.05,653.07L437.56,647.63L438.07,642.04L438.59,636.37L439.12,630.71L439.66,625.13L440.21,619.70L440.77,614.52L441.35,609.65L441.94,605.19L442.54,601.21L443.15,597.80L443.77,595.05L444.38,593.08L444.87,592.08L444.44,592.15L443.71,591.86L444.07,593.09L444.49,595.35L444.92,598.44L445.35,602.25L445.79,606.69L446.23,611.66L446.67,617.07L447.11,622.83L447.56,628.85L448.02,635.06L448.48,641.35L448.95,647.64L449.43,653.85L449.92,659.89L450.42,665.66L450.93,671.09L451.46,676.08L452.00,680.56L452.55,684.44L453.13,687.64L453.74,690.11L454.48,691.89L456.31,693.05L457.97,691.70L458.55,689.84L459.05,687.18L459.54,683.71L460.03,679.49L460.52,674.62L461.00,669.17L461.49,663.25L461.99,656.95L462.49,650.37L462.99,643.59L463.50,636.73L464.02,629.86L464.55,623.09L465.09,616.52L465.64,610.23L466.21,604.33L466.78,598.91L467.37,594.08L467.97,589.92L468.59,586.56L469.20,584.12L469.72,582.82L469.19,582.90L468.45,582.64L468.84,584.16L469.27,586.87L469.72,590.54L470.16,595.06L470.61,600.31L471.06,606.20L471.51,612.60L471.97,619.42L472.43,626.55L472.89,633.89L473.37,641.34L473.85,648.78L474.34,656.13L474.83,663.27L475.34,670.10L475.86,676.52L476.40,682.42L476.95,687.71L477.51,692.29L478.09,696.06L478.71,698.95L479.43,700.97L481.31,702.30L483.01,700.80L483.58,698.69L484.09,695.61L484.59,691.57L485.09,686.65L485.59,680.96L486.09,674.60L486.59,667.69L487.10,660.34L487.61,652.65L488.12,644.73L488.64,636.71L489.17,628.69L489.71,620.79L490.26,613.11L490.82,605.76L491.39,598.87L491.98,592.53L492.58,586.88L493.19,582.02L493.81,578.07L494.44,575.18L495.00,573.59L494.45,573.65L493.71,573.44L494.13,575.24L494.59,578.37L495.05,582.61L495.52,587.82L495.99,593.87L496.46,600.64L496.93,608.01L497.41,615.85L497.89,624.06L498.37,632.51L498.87,641.08L499.37,649.65L499.88,658.10L500.39,666.31L500.92,674.17L501.46,681.56L502.02,688.35L502.59,694.43L503.17,699.69L503.77,704.01L504.41,707.31L505.13,709.58L507.05,711.05L508.75,709.38L509.27,707.05L509.74,703.58L510.21,699.00L510.67,693.42L511.13,686.96L511.60,679.74L512.06,671.89L512.53,663.53L513.00,654.80L513.48,645.81L513.96,636.70L514.45,627.59L514.95,618.60L515.45,609.87L515.97,601.53L516.50,593.69L517.04,586.49L517.59,580.06L518.16,574.53L518.73,570.03L519.32,566.72L519.85,564.83L519.18,564.90L518.33,564.67L518.68,566.79L519.05,570.38L519.43,575.21L519.81,581.14L520.18,588.02L520.56,595.72L520.94,604.09L521.32,613.01L521.71,622.34L522.10,631.94L522.49,641.68L522.89,651.42L523.30,661.02L523.71,670.35L524.13,679.28L524.56,687.67L525.01,695.38L525.46,702.29L525.92,708.25L526.40,713.14L526.90,716.85L527.45,719.33L529.28,721.05L531.01,719.27L531.51,716.74L531.97,712.94L532.43,707.91L532.89,701.78L533.34,694.68L533.80,686.75L534.25,678.12L534.71,668.94L535.17,659.33L535.64,649.46L536.11,639.44L536.59,629.42L537.08,619.55L537.58,609.95L538.08,600.78L538.60,592.16L539.13,584.25L539.67,577.17L540.22,571.09L540.78,566.13L541.35,562.47L541.89,560.35L541.28,560.40L540.40,560.22L540.81,562.31L541.24,565.88L541.68,570.69L542.12,576.59L542.56,583.45L543.00,591.12L543.45,599.47L543.89,608.37L544.34,617.66L544.80,627.23L545.26,636.94L545.73,646.65L546.21,656.22L546.70,665.52L547.20,674.42L547.71,682.79L548.23,690.48L548.76,697.36L549.31,703.31L549.88,708.19L550.47,711.90L551.13,714.41L552.94,716.05L554.68,714.29L555.08,711.99L555.46,708.51L555.83,703.92L556.20,698.31L556.57,691.82L556.94,684.57L557.32,676.68L557.69,668.28L558.08,659.50L558.47,650.47L558.86,641.31L559.26,632.15L559.67,623.12L560.08,614.35L560.51,605.96L560.94,598.08L561.39,590.84L561.85,584.37L562.32,578.81L562.80,574.28L563.28,570.93L563.74,569.00L563.05,569.15L562.19,568.94L562.60,570.77L563.05,573.93L563.51,578.22L563.97,583.48L564.43,589.60L564.90,596.44L565.37,603.89L565.85,611.83L566.34,620.13L566.83,628.67L567.33,637.33L567.84,645.99L568.36,654.54L568.90,662.84L569.44,670.79L570.01,678.25L570.58,685.12L571.18,691.27L571.79,696.58L572.42,700.96L573.09,704.29L573.86,706.59L575.69,708.04L577.44,706.46L577.91,704.38L578.33,701.30L578.75,697.24L579.17,692.30L579.59,686.58L580.02,680.18L580.45,673.23L580.88,665.83L581.33,658.10L581.77,650.14L582.23,642.08L582.70,634.01L583.18,626.06L583.67,618.33L584.17,610.94L584.69,604.01L585.22,597.64L585.76,591.94L586.32,587.05L586.90,583.08L587.48,580.16L588.01,578.53L587.56,578.59L586.75,578.36L587.13,579.90L587.57,582.61L588.02,586.28L588.48,590.81L588.94,596.06L589.41,601.94L589.89,608.35L590.38,615.17L590.87,622.30L591.38,629.64L591.89,637.09L592.42,644.53L592.96,651.88L593.52,659.02L594.09,665.85L594.68,672.27L595.29,678.17L595.91,683.46L596.56,688.04L597.23,691.81L597.94,694.70L598.77,696.71L600.45,697.88L602.00,696.55L602.44,694.76L602.84,692.14L603.24,688.70L603.64,684.51L604.04,679.66L604.46,674.24L604.88,668.35L605.31,662.08L605.74,655.53L606.19,648.79L606.65,641.95L607.13,635.12L607.62,628.38L608.12,621.83L608.64,615.57L609.18,609.70L609.73,604.30L610.31,599.48L610.90,595.34L611.51,591.98L612.13,589.52L612.68,588.16L612.55,588.09L611.95,587.95L612.30,589.24L612.71,591.51L613.14,594.60L613.58,598.39L614.03,602.80L614.50,607.73L614.98,613.10L615.47,618.82L615.98,624.80L616.51,630.96L617.06,637.21L617.62,643.46L618.21,649.62L618.82,655.61L619.44,661.34L620.10,666.73L620.77,671.68L621.48,676.12L622.21,679.97L622.98,683.13L623.79,685.57L624.74,687.25L626.22,688.07L627.43,687.08L627.86,685.59L628.27,683.41L628.68,680.54L629.10,677.05L629.54,673.01L629.99,668.49L630.46,663.58L630.95,658.36L631.46,652.90L631.99,647.28L632.54,641.58L633.12,635.88L633.72,630.27L634.35,624.81L635.01,619.60L635.69,614.70L636.41,610.21L637.16,606.19L637.93,602.75L638.74,599.96L639.55,597.92L640.31,596.77L640.78,596.50L640.33,596.43L640.56,597.54L640.83,599.44L641.11,601.99L641.41,605.13L641.72,608.77L642.05,612.84L642.40,617.28L642.76,622.00L643.14,626.94L643.54,632.02L643.95,637.18L644.39,642.33L644.85,647.42L645.33,652.36L645.83,657.09L646.36,661.53L646.90,665.62L647.48,669.28L648.08,672.44L648.71,675.05L649.38,677.03L650.14,678.38L651.23,678.98L652.06,678.30L652.42,677.13L652.78,675.38L653.16,673.07L653.55,670.26L653.96,667.01L654.40,663.37L654.86,659.41L655.35,655.20L655.86,650.80L656.40,646.27L656.97,641.68L657.57,637.09L658.20,632.57L658.87,628.17L659.57,623.97L660.31,620.02L661.08,616.40L661.89,613.16L662.74,610.38L663.63,608.12L664.54,606.46L665.43,605.48L666.27,605.17L666.15,605.26L666.39,606.12L666.67,607.56L666.97,609.51L667.28,611.90L667.63,614.67L667.99,617.77L668.38,621.14L668.79,624.74L669.22,628.50L669.69,632.36L670.18,636.29L670.70,640.21L671.25,644.08L671.82,647.84L672.43,651.44L673.07,654.82L673.75,657.93L674.46,660.71L675.20,663.12L675.99,665.10L676.82,666.59L677.73,667.57L678.74,667.93L679.19,667.53L679.46,666.72L679.74,665.47L680.02,663.82L680.33,661.80L680.65,659.46L680.99,656.85L681.36,654.01L681.74,650.99L682.16,647.83L682.60,644.57L683.06,641.27L683.56,637.98L684.09,634.72L684.64,631.56L685.24,628.54L685.86,625.71L686.52,623.10L687.22,620.77L687.96,618.76L688.74,617.13L689.55,615.91L690.39,615.16L691.25,614.90L691.35,615.06L691.55,615.67L691.76,616.65L691.99,617.98L692.23,619.60L692.48,621.49L692.76,623.59L693.05,625.88L693.36,628.32L693.69,630.87L694.04,633.50L694.41,636.16L694.81,638.83L695.24,641.45L695.69,644.01L696.17,646.45L696.68,648.74L697.21,650.85L697.79,652.74L698.39,654.38L699.03,655.71L699.72,656.72L700.45,657.37L701.22,657.60L701.28,657.40L700.55,657.20L699.87,656.59L699.21,655.62L698.58,654.30L697.98,652.68L697.41,650.80L696.87,648.70L696.36,646.41L695.88,643.97L695.43,641.42L695.01,638.80L694.61,636.14L694.24,633.47L693.89,630.85L693.56,628.30L693.25,625.86L692.95,623.57L692.68,621.46L692.43,619.57L692.18,617.95L691.96,616.62L691.74,615.62L691.53,614.97L691.25,614.70L690.29,614.98L689.39,615.77L688.55,617.02L687.75,618.67L687.00,620.69L686.29,623.03L685.61,625.65L684.97,628.49L684.36,631.51L683.79,634.67L683.25,637.93L682.73,641.23L682.25,644.52L681.80,647.78L681.37,650.94L680.97,653.96L680.59,656.80L680.24,659.41L679.90,661.74L679.59,663.75L679.30,665.38L679.03,666.60L678.79,667.33L678.76,667.47L677.99,667.20L677.20,666.33L676.42,664.90L675.66,662.96L674.93,660.58L674.24,657.81L673.58,654.72L672.96,651.35L672.37,647.75L671.81,644.00L671.28,640.13L670.77,636.21L670.30,632.29L669.86,628.42L669.44,624.67L669.04,621.07L668.67,617.69L668.32,614.59L667.99,611.81L667.68,609.41L667.39,607.44L667.11,605.96L666.83,604.98L666.23,604.43L665.00,604.87L663.92,606.04L662.94,607.81L662.01,610.13L661.14,612.95L660.30,616.22L659.51,619.86L658.75,623.82L658.03,628.04L657.34,632.44L656.69,636.97L656.07,641.57L655.48,646.16L654.92,650.69L654.39,655.09L653.88,659.30L653.41,663.25L652.96,666.88L652.53,670.12L652.13,672.92L651.75,675.19L651.39,676.87L651.09,677.86L651.27,677.92L650.96,677.69L650.37,676.62L649.75,674.75L649.15,672.21L648.57,669.09L648.02,665.46L647.49,661.39L646.98,656.96L646.50,652.24L646.04,647.31L645.61,642.23L645.19,637.07L644.79,631.92L644.42,626.84L644.06,621.90L643.71,617.18L643.39,612.74L643.07,608.66L642.77,605.01L642.49,601.85L642.21,599.27L641.94,597.31L641.67,596.01L640.72,595.10L639.32,595.76L638.29,597.28L637.39,599.50L636.54,602.39L635.74,605.90L634.97,609.96L634.23,614.48L633.52,619.40L632.84,624.63L632.19,630.09L631.57,635.72L630.97,641.42L630.39,647.12L629.84,652.74L629.31,658.20L628.81,663.42L628.32,668.33L627.85,672.83L627.40,676.85L626.97,680.32L626.56,683.13L626.16,685.21L625.82,686.40L626.28,686.33L626.08,686.13L625.42,684.89L624.68,682.66L623.95,679.60L623.24,675.82L622.56,671.42L621.91,666.50L621.27,661.13L620.67,655.42L620.08,649.44L619.51,643.28L618.97,637.04L618.44,630.80L617.93,624.64L617.44,618.65L616.96,612.93L616.50,607.55L616.05,602.60L615.61,598.17L615.17,594.34L614.75,591.20L614.32,588.80L613.86,587.16L612.45,586.01L610.93,587.05L610.14,588.89L609.47,591.54L608.83,595.00L608.21,599.21L607.62,604.06L607.05,609.49L606.49,615.38L605.95,621.66L605.43,628.21L604.92,634.96L604.43,641.80L603.95,648.64L603.49,655.38L603.03,661.93L602.59,668.19L602.16,674.07L601.73,679.47L601.32,684.30L600.91,688.45L600.51,691.83L600.12,694.32L599.78,695.74L600.55,695.52L600.78,695.48L600.20,694.01L599.55,691.33L598.91,687.67L598.28,683.16L597.67,677.91L597.08,672.04L596.51,665.64L595.95,658.82L595.41,651.70L594.88,644.36L594.37,636.91L593.86,629.47L593.37,622.13L592.89,614.99L592.41,608.16L591.94,601.75L591.48,595.85L591.02,590.57L590.57,586.00L590.12,582.25L589.66,579.40L589.15,577.45L587.44,576.01L585.70,577.38L584.98,579.53L584.35,582.64L583.76,586.72L583.18,591.67L582.63,597.40L582.09,603.80L581.56,610.75L581.05,618.16L580.55,625.89L580.06,633.85L579.59,641.92L579.12,649.99L578.67,657.95L578.22,665.68L577.78,673.07L577.35,680.01L576.92,686.39L576.50,692.09L576.08,696.99L575.66,700.98L575.26,703.93L574.89,705.63L575.81,705.36L576.27,705.40L575.70,703.64L575.08,700.51L574.46,696.24L573.86,690.99L573.27,684.88L572.70,678.04L572.14,670.59L571.59,662.66L571.06,654.37L570.54,645.83L570.03,637.17L569.52,628.51L569.03,619.97L568.55,611.67L568.07,603.73L567.59,596.27L567.12,589.41L566.66,583.26L566.19,577.96L565.73,573.60L565.26,570.30L564.74,568.07L562.95,566.45L561.20,568.09L560.63,570.45L560.12,573.95L559.63,578.56L559.16,584.17L558.70,590.66L558.25,597.92L557.81,605.81L557.39,614.21L556.97,623.00L556.56,632.03L556.16,641.19L555.77,650.35L555.38,659.38L555.00,668.16L554.62,676.55L554.25,684.43L553.87,691.67L553.50,698.15L553.14,703.72L552.77,708.26L552.41,711.63L552.07,713.62L553.06,713.35L553.64,713.42L553.12,711.37L552.55,707.83L552.00,703.03L551.45,697.13L550.92,690.28L550.40,682.61L549.89,674.27L549.40,665.38L548.91,656.08L548.43,646.51L547.96,636.81L547.50,627.11L547.04,617.53L546.59,608.23L546.14,599.33L545.70,590.97L545.26,583.29L544.81,576.41L544.37,570.47L543.93,565.60L543.48,561.91L542.99,559.46L541.22,557.70L539.37,559.38L538.70,561.95L538.11,565.78L537.53,570.81L536.98,576.95L536.43,584.06L535.90,591.99L535.39,600.62L534.88,609.81L534.38,619.41L533.90,629.29L533.42,639.31L532.94,649.33L532.48,659.21L532.01,668.80L531.56,677.98L531.10,686.60L530.65,694.52L530.19,701.59L529.74,707.69L529.29,712.66L528.84,716.34L528.42,718.51L529.22,718.35L530.01,718.48L529.56,716.40L529.08,712.84L528.61,708.02L528.15,702.10L527.70,695.22L527.26,687.52L526.83,679.15L526.41,670.23L525.99,660.90L525.59,651.31L525.19,641.57L524.79,631.83L524.40,622.23L524.02,612.90L523.64,603.97L523.26,595.59L522.88,587.88L522.50,580.98L522.12,575.02L521.74,570.14L521.36,566.45L520.95,564.01L519.32,562.20L517.38,563.75L516.68,566.14L516.06,569.63L515.47,574.22L514.90,579.81L514.35,586.28L513.81,593.50L513.28,601.35L512.76,609.71L512.25,618.45L511.75,627.44L511.26,636.55L510.78,645.67L510.30,654.65L509.83,663.38L509.37,671.73L508.90,679.57L508.44,686.77L507.98,693.21L507.52,698.75L507.06,703.26L506.61,706.60L506.19,708.54L506.95,708.35L507.57,708.43L507.03,706.68L506.44,703.58L505.85,699.36L505.27,694.16L504.71,688.11L504.16,681.35L503.62,673.98L503.09,666.14L502.57,657.93L502.06,649.49L501.56,640.92L501.07,632.35L500.58,623.91L500.10,615.69L499.63,607.84L499.15,600.46L498.68,593.67L498.21,587.59L497.74,582.34L497.27,578.04L496.78,574.76L496.25,572.55L494.55,570.95L492.62,572.31L491.84,574.48L491.16,577.58L490.52,581.64L489.90,586.57L489.29,592.27L488.70,598.63L488.13,605.55L487.57,612.91L487.02,620.60L486.48,628.51L485.95,636.54L485.43,644.56L484.91,652.47L484.40,660.15L483.90,667.50L483.40,674.40L482.90,680.74L482.41,686.40L481.91,691.27L481.42,695.23L480.93,698.15L480.50,699.80L481.19,699.60L481.82,699.72L481.32,698.25L480.75,695.58L480.18,691.92L479.63,687.41L479.09,682.16L478.55,676.29L478.04,669.89L477.53,663.07L477.03,655.95L476.54,648.61L476.06,641.16L475.59,633.72L475.12,626.38L474.66,619.24L474.21,612.41L473.75,606.00L473.30,600.10L472.85,594.81L472.40,590.25L471.95,586.50L471.48,583.64L470.97,581.67L469.31,580.20L467.42,581.40L466.62,583.31L465.94,586.00L465.31,589.49L464.69,593.72L464.10,598.61L463.52,604.06L462.95,609.98L462.40,616.29L461.86,622.88L461.33,629.65L460.81,636.52L460.30,643.39L459.80,650.17L459.30,656.74L458.80,663.03L458.31,668.94L457.83,674.36L457.34,679.21L456.86,683.37L456.38,686.75L455.92,689.23L455.51,690.59L456.19,690.35L456.78,690.48L456.32,689.32L455.77,687.09L455.22,684.01L454.67,680.21L454.14,675.78L453.62,670.82L453.11,665.42L452.61,659.66L452.12,653.64L451.65,647.44L451.18,641.15L450.71,634.86L450.26,628.65L449.81,622.62L449.36,616.85L448.92,611.43L448.48,606.44L448.04,601.97L447.60,598.11L447.15,594.92L446.70,592.48L446.18,590.76L444.56,589.45L442.73,590.44L441.87,592.10L441.16,594.36L440.50,597.27L439.87,600.77L439.26,604.81L438.67,609.32L438.09,614.21L437.53,619.42L436.98,624.86L436.43,630.45L435.90,636.13L435.38,641.79L434.87,647.38L434.36,652.81L433.86,658.00L433.36,662.87L432.87,667.34L432.38,671.33L431.89,674.76L431.41,677.53L430.95,679.54L430.57,680.58L431.19,680.35L431.70,680.47L431.29,679.61L430.75,677.86L430.20,675.41L429.65,672.36L429.12,668.79L428.60,664.80L428.09,660.45L427.59,655.80L427.10,650.95L426.62,645.95L426.15,640.88L425.69,635.80L425.23,630.80L424.78,625.93L424.34,621.27L423.90,616.89L423.46,612.86L423.02,609.25L422.58,606.12L422.14,603.54L421.68,601.53L421.12,600.06L419.55,598.95L417.83,599.73L416.90,601.13L416.17,602.99L415.51,605.33L414.87,608.14L414.25,611.38L413.66,614.98L413.08,618.88L412.51,623.03L411.96,627.37L411.41,631.83L410.88,636.34L410.36,640.86L409.85,645.31L409.34,649.63L408.84,653.76L408.35,657.64L407.86,661.19L407.37,664.36L406.89,667.08L406.41,669.26L405.96,670.82L405.63,671.57L406.19,671.35L406.57,671.43L406.23,670.88L405.74,669.60L405.23,667.76L404.73,665.44L404.24,662.73L403.76,659.67L403.29,656.34L402.81,652.78L402.33,649.06L401.84,645.22L401.33,641.32L400.80,637.42L400.24,633.57L399.64,629.82L399.01,626.23L398.33,622.84L397.60,619.71L396.80,616.89L395.92,614.42L394.95,612.33L393.82,610.65L392.40,609.44L390.61,608.95L388.87,609.41L387.51,610.56L386.44,612.14L385.52,614.10L384.70,616.42L383.97,619.05L383.30,621.98L382.68,625.14L382.12,628.49L381.60,631.99L381.12,635.58L380.68,639.22L380.27,642.85L379.89,646.43L379.52,649.91L379.18,653.23L378.85,656.35L378.52,659.20L378.20,661.75L377.88,663.92L377.56,665.67L377.25,666.90L377.04,667.43L377.85,667.10L378.44,667.33L378.15,666.72L377.74,665.36L377.31,663.45L376.86,661.06L376.41,658.26L375.96,655.13L375.50,651.71L375.04,648.06L374.57,644.25L374.09,640.32L373.60,636.34L373.11,632.35L372.61,628.41L372.09,624.58L371.57,620.92L371.03,617.47L370.47,614.29L369.90,611.43L369.30,608.94L368.68,606.85L367.99,605.19L367.10,603.91L365.44,603.20L363.86,604.09L363.10,605.49L362.48,607.36L361.89,609.73L361.31,612.59L360.74,615.88L360.16,619.54L359.58,623.52L358.99,627.75L358.40,632.17L357.80,636.71L357.19,641.32L356.57,645.92L355.94,650.46L355.29,654.87L354.63,659.07L353.96,663.02L353.27,666.63L352.57,669.85L351.85,672.60L351.14,674.79L350.45,676.33L349.92,677.07L350.05,677.10L350.89,677.50L350.61,676.53L350.28,674.69L349.94,672.16L349.59,669.04L349.24,665.41L348.89,661.35L348.53,656.92L348.18,652.20L347.81,647.26L347.45,642.18L347.07,637.03L346.69,631.87L346.30,626.78L345.91,621.84L345.50,617.11L345.08,612.66L344.66,608.56L344.22,604.89L343.76,601.71L343.29,599.08L342.78,597.03L342.16,595.51L340.44,594.45L338.78,595.54L338.07,597.19L337.46,599.45L336.88,602.37L336.31,605.90L335.73,609.98L335.15,614.53L334.57,619.47L333.99,624.73L333.39,630.23L332.79,635.88L332.18,641.61L331.56,647.33L330.93,652.98L330.29,658.46L329.63,663.70L328.95,668.61L328.26,673.12L327.56,677.14L326.84,680.59L326.11,683.36L325.39,685.34L324.82,686.33L325.05,686.35L325.69,686.57L325.29,685.36L324.80,683.11L324.31,680.01L323.80,676.20L323.30,671.75L322.79,666.77L322.28,661.35L321.76,655.58L321.23,649.54L320.70,643.32L320.16,637.01L319.61,630.70L319.04,624.47L318.47,618.42L317.88,612.63L317.28,607.19L316.66,602.18L316.03,597.69L315.37,593.79L314.69,590.57L313.96,588.08L313.07,586.27L311.20,585.20L309.57,586.62L309.09,588.45L308.66,591.10L308.25,594.56L307.83,598.78L307.41,603.65L307.00,609.10L306.57,615.01L306.15,621.31L305.72,627.90L305.28,634.67L304.84,641.54L304.39,648.40L303.93,655.17L303.46,661.75L302.98,668.04L302.49,673.94L301.99,679.36L301.48,684.19L300.95,688.35L300.41,691.72L299.88,694.18L299.41,695.50L300.06,695.35L300.73,695.56L300.30,694.06L299.81,691.36L299.31,687.69L298.81,683.17L298.30,677.92L297.79,672.04L297.28,665.64L296.76,658.82L296.23,651.69L295.70,644.35L295.16,636.90L294.61,629.45L294.05,622.11L293.47,614.97L292.89,608.14L292.28,601.71L291.67,595.81L291.03,590.51L290.38,585.93L289.70,582.15L288.98,579.25L288.13,577.20L286.19,575.95L284.54,577.52L284.05,579.61L283.61,582.68L283.17,586.74L282.74,591.67L282.30,597.38L281.87,603.76L281.43,610.70L280.98,618.08L280.53,625.80L280.08,633.74L279.61,641.80L279.14,649.85L278.66,657.79L278.18,665.50L277.67,672.87L277.16,679.79L276.64,686.15L276.10,691.83L275.55,696.71L274.99,700.68L274.42,703.59L273.91,705.21L274.56,705.10L275.21,705.25L274.74,703.45L274.22,700.31L273.71,696.03L273.19,690.78L272.68,684.68L272.18,677.85L271.67,670.42L271.17,662.50L270.66,654.22L270.16,645.69L269.66,637.05L269.15,628.40L268.64,619.87L268.12,611.58L267.60,603.65L267.07,596.20L266.53,589.35L265.99,583.22L265.43,577.91L264.86,573.56L264.26,570.24L263.59,567.96L261.70,566.45L260.01,568.15L259.54,570.48L259.10,573.97L258.69,578.57L258.28,584.18L257.88,590.68L257.49,597.93L257.10,605.82L256.72,614.22L256.34,623.00L255.97,632.04L255.60,641.20L255.24,650.36L254.87,659.39L254.51,668.16L254.15,676.55L253.78,684.43L253.42,691.67L253.05,698.15L252.68,703.72L252.31,708.26L251.94,711.63L251.59,713.61L252.56,713.35L253.08,713.38L252.52,711.35L251.91,707.80L251.31,702.98L250.73,697.06L250.16,690.19L249.61,682.50L249.06,674.12L248.53,665.20L248.02,655.87L247.51,646.27L247.01,636.53L246.53,626.79L246.05,617.19L245.57,607.85L245.11,598.92L244.64,590.54L244.18,582.82L243.73,575.92L243.27,569.96L242.81,565.07L242.35,561.37L241.85,558.91L240.07,557.15L238.19,558.81L237.49,561.40L236.86,565.24L236.26,570.30L235.68,576.46L235.13,583.59L234.59,591.55L234.07,600.22L233.57,609.43L233.08,619.07L232.60,628.98L232.14,639.04L231.69,649.09L231.25,659.00L230.82,668.63L230.40,677.84L229.99,686.49L229.58,694.44L229.18,701.55L228.79,707.66L228.40,712.65L228.02,716.36L227.67,718.57L228.57,718.35L229.25,718.42L228.73,716.36L228.17,712.79L227.63,707.96L227.10,702.02L226.59,695.12L226.10,687.40L225.62,679.00L225.16,670.05L224.71,660.69L224.28,651.06L223.86,641.29L223.46,631.52L223.06,621.89L222.68,612.52L222.30,603.57L221.94,595.15L221.58,587.42L221.23,580.50L220.88,574.52L220.54,569.63L220.20,565.93L219.85,563.51L218.26,561.65L216.24,563.13L215.40,565.56L214.67,569.10L213.98,573.74L213.32,579.38L212.69,585.91L212.08,593.20L211.49,601.12L210.93,609.55L210.38,618.36L209.86,627.43L209.35,636.63L208.86,645.82L208.38,654.88L207.92,663.69L207.47,672.11L207.04,680.02L206.61,687.29L206.20,693.78L205.80,699.38L205.40,703.94L205.02,707.32L204.67,709.31L205.54,709.05L206.06,709.07L205.47,707.34L204.81,704.23L204.17,699.99L203.55,694.77L202.95,688.70L202.37,681.90L201.81,674.50L201.28,666.62L200.76,658.37L200.27,649.88L199.79,641.28L199.33,632.67L198.89,624.18L198.46,615.93L198.05,608.03L197.65,600.62L197.26,593.80L196.88,587.70L196.51,582.43L196.16,578.11L195.80,574.84L195.44,572.68L193.85,570.96L191.80,572.19L190.78,574.40L189.92,577.54L189.12,581.62L188.36,586.57L187.64,592.28L186.94,598.66L186.28,605.60L185.64,612.97L185.03,620.68L184.44,628.62L183.88,636.66L183.35,644.70L182.83,652.63L182.34,660.33L181.86,667.70L181.41,674.61L180.97,680.97L180.54,686.64L180.13,691.53L179.74,695.52L179.36,698.46L179.03,700.19L179.85,699.91L180.25,699.92L179.67,698.46L179.02,695.79L178.37,692.12L177.75,687.59L177.14,682.32L176.57,676.41L176.01,669.99L175.48,663.14L174.97,655.98L174.49,648.60L174.02,641.13L173.58,633.65L173.15,626.27L172.75,619.10L172.36,612.24L171.98,605.80L171.63,599.88L171.28,594.58L170.96,590.00L170.64,586.25L170.34,583.41L170.03,581.53L168.65,580.02L166.77,581.01L165.72,582.93L164.84,585.63L164.03,589.14L163.26,593.39L162.53,598.29L161.83,603.76L161.17,609.70L160.54,616.02L159.94,622.63L159.38,629.42L158.83,636.31L158.32,643.20L157.83,649.99L157.37,656.59L156.93,662.90L156.51,668.82L156.11,674.27L155.73,679.13L155.36,683.32L155.02,686.74L154.69,689.27L154.41,690.75L155.05,690.56L155.12,690.45L154.52,689.25L153.82,687.03L153.14,683.97L152.48,680.20L151.85,675.80L151.25,670.87L150.67,665.50L150.12,659.78L149.59,653.79L149.10,647.63L148.62,641.38L148.17,635.13L147.74,628.97L147.34,622.97L146.96,617.24L146.59,611.86L146.25,606.91L145.93,602.48L145.62,598.66L145.33,595.52L145.06,593.15L144.79,591.60L143.74,590.42L142.15,591.13L141.07,592.68L140.16,594.91L139.32,597.79L138.54,601.27L137.79,605.30L137.09,609.78L136.42,614.65L135.79,619.84L135.19,625.26L134.63,630.83L134.10,636.48L133.60,642.12L133.12,647.69L132.68,653.10L132.26,658.27L131.87,663.13L131.50,667.60L131.15,671.59L130.82,675.02L130.52,677.82L130.23,679.90L129.98,681.14L130.37,681.09L129.98,680.87L129.27,679.86L128.49,678.06L127.73,675.58L127.00,672.52L126.30,668.95L125.64,664.94L125.01,660.58L124.41,655.93L123.84,651.07L123.31,646.07L122.80,640.99L122.33,635.91L121.88,630.90L121.45,626.04L121.06,621.38L120.68,617.01L120.33,612.99L120.00,609.39L119.69,606.28L119.40,603.73L119.13,601.81L118.86,600.55L118.12,599.76L116.83,600.24L115.81,601.44L114.93,603.21L114.11,605.52L113.35,608.31L112.63,611.54L111.96,615.14L111.32,619.05L110.73,623.20L110.17,627.55L109.64,632.02L109.15,636.55L108.69,641.08L108.26,645.55L107.85,649.89L107.47,654.04L107.11,657.94L106.77,661.52L106.46,664.72L106.16,667.48L105.88,669.73L105.62,671.40L105.38,672.41L105.49,672.52L104.44,672.25L103.38,671.41L102.33,670.03L101.31,668.13L100.34,665.79L99.42,663.06L98.55,660.00L97.73,656.67L96.96,653.12L96.23,649.41L95.55,645.58L94.92,641.70L94.32,637.82L93.76,633.99L93.23,630.27L92.74,626.72L92.28,623.37L91.85,620.30L91.44,617.55L91.06,615.17L90.70,613.23L90.36,611.76L90.02,610.81L89.51,610.36L88.40,610.67L87.40,611.50L86.49,612.79L85.66,614.48L84.88,616.54L84.15,618.92L83.46,621.57L82.83,624.46L82.23,627.52L81.68,630.73L81.16,634.03L80.68,637.38L80.23,640.72L79.81,644.02L79.42,647.22L79.05,650.29L78.71,653.16L78.39,655.81L78.09,658.17L77.80,660.21L77.54,661.88L77.28,663.12L77.04,663.88L76.90,664.09L75.93,663.87L75.00,663.23L74.12,662.20L73.28,660.81L72.50,659.09L71.76,657.11L71.08,654.88L70.43,652.46L69.83,649.88L69.28,647.18L68.76,644.40L68.27,641.58L67.82,638.77L67.40,635.99L67.01,633.29L66.65,630.70L66.31,628.28L65.99,626.05L65.69,624.05L65.41,622.33L65.14,620.92L64.88,619.86L64.63,619.18L64.37,618.93Z" fill="#000"/>
</g>
<g id="panel-digital-am">
<rect x="793.25" y="531.30" width="711.10" height="198.00" fill="#fdfefe"/>
<path d="M793.25,531.30V736.30M811.03,531.30V736.30M828.80,531.30V736.30M846.58,531.30V736.30M864.36,531.30V736.30M882.14,531.30V736.30M899.91,531.30V736.30M917.69,531.30V736.30M935.47,531.30V736.30M953.25,531.30V736.30M971.02,531.30V736.30M988.80,531.30V736.30M1006.58,531.30V736.30M1024.36,531.30V736.30M1042.13,531.30V736.30M1059.91,531.30V736.30M1077.69,531.30V736.30M1095.47,531.30V736.30M1113.24,531.30V736.30M1131.02,531.30V736.30M1148.80,531.30V736.30M1166.58,531.30V736.30M1184.36,531.30V736.30M1202.13,531.30V736.30M1219.91,531.30V736.30M1237.69,531.30V736.30M1255.46,531.30V736.30M1273.24,531.30V736.30M1291.02,531.30V736.30M1308.80,531.30V736.30M1326.58,531.30V736.30M1344.35,531.30V736.30M1362.13,531.30V736.30M1379.91,531.30V736.30M1397.68,531.30V736.30M1415.46,531.30V736.30M1433.24,531.30V736.30M1451.02,531.30V736.30M1468.80,531.30V736.30M1486.57,531.30V736.30M1504.35,531.30V736.30M792.65,531.30H1510.55M792.65,549.30H1510.55M792.65,567.30H1510.55M792.65,585.30H1510.55M792.65,603.30H1510.55M792.65,621.30H1510.55M792.65,639.30H1510.55M792.65,657.30H1510.55M792.65,675.30H1510.55M792.65,693.30H1510.55M792.65,711.30H1510.55M792.65,729.30H1510.55M793.25,736.30v3.6M811.03,736.30v3.6M828.80,736.30v3.6M846.58,736.30v3.6M864.36,736.30v3.6M882.14,736.30v3.6M899.91,736.30v3.6M917.69,736.30v3.6M935.47,736.30v3.6M953.25,736.30v3.6M971.02,736.30v3.6M988.80,736.30v3.6M1006.58,736.30v3.6M1024.36,736.30v3.6M1042.13,736.30v3.6M1059.91,736.30v3.6M1077.69,736.30v3.6M1095.47,736.30v3.6M1113.24,736.30v3.6M1131.02,736.30v3.6M1148.80,736.30v3.6M1166.58,736.30v3.6M1184.36,736.30v3.6M1202.13,736.30v3.6M1219.91,736.30v3.6M1237.69,736.30v3.6M1255.46,736.30v3.6M1273.24,736.30v3.6M1291.02,736.30v3.6M1308.80,736.30v3.6M1326.58,736.30v3.6M1344.35,736.30v3.6M1362.13,736.30v3.6M1379.91,736.30v3.6M1397.68,736.30v3.6M1415.46,736.30v3.6M1433.24,736.30v3.6M1451.02,736.30v3.6M1468.80,736.30v3.6M1486.57,736.30v3.6M1504.35,736.30v3.6M1510.55,531.30h2M1510.55,549.30h2M1510.55,567.30h2M1510.55,585.30h2M1510.55,603.30h2M1510.55,621.30h2M1510.55,639.30h2M1510.55,657.30h2M1510.55,675.30h2M1510.55,693.30h2M1510.55,711.30h2M1510.55,729.30h2" fill="none" stroke="#eefafc" stroke-width="3"/>
<path d="M793.25,531.30V736.30M811.03,531.30V736.30M828.80,531.30V736.30M846.58,531.30V736.30M864.36,531.30V736.30M882.14,531.30V736.30M899.91,531.30V736.30M917.69,531.30V736.30M935.47,531.30V736.30M953.25,531.30V736.30M971.02,531.30V736.30M988.80,531.30V736.30M1006.58,531.30V736.30M1024.36,531.30V736.30M1042.13,531.30V736.30M1059.91,531.30V736.30M1077.69,531.30V736.30M1095.47,531.30V736.30M1113.24,531.30V736.30M1131.02,531.30V736.30M1148.80,531.30V736.30M1166.58,531.30V736.30M1184.36,531.30V736.30M1202.13,531.30V736.30M1219.91,531.30V736.30M1237.69,531.30V736.30M1255.46,531.30V736.30M1273.24,531.30V736.30M1291.02,531.30V736.30M1308.80,531.30V736.30M1326.58,531.30V736.30M1344.35,531.30V736.30M1362.13,531.30V736.30M1379.91,531.30V736.30M1397.68,531.30V736.30M1415.46,531.30V736.30M1433.24,531.30V736.30M1451.02,531.30V736.30M1468.80,531.30V736.30M1486.57,531.30V736.30M1504.35,531.30V736.30M792.65,531.30H1510.55M792.65,549.30H1510.55M792.65,567.30H1510.55M792.65,585.30H1510.55M792.65,603.30H1510.55M792.65,621.30H1510.55M792.65,639.30H1510.55M792.65,657.30H1510.55M792.65,675.30H1510.55M792.65,693.30H1510.55M792.65,711.30H1510.55M792.65,729.30H1510.55" fill="none" stroke="#c0dbe4" stroke-width="1.1"/>
<path d="M793.25,736.30v3.6M811.03,736.30v3.6M828.80,736.30v3.6M846.58,736.30v3.6M864.36,736.30v3.6M882.14,736.30v3.6M899.91,736.30v3.6M917.69,736.30v3.6M935.47,736.30v3.6M953.25,736.30v3.6M971.02,736.30v3.6M988.80,736.30v3.6M1006.58,736.30v3.6M1024.36,736.30v3.6M1042.13,736.30v3.6M1059.91,736.30v3.6M1077.69,736.30v3.6M1095.47,736.30v3.6M1113.24,736.30v3.6M1131.02,736.30v3.6M1148.80,736.30v3.6M1166.58,736.30v3.6M1184.36,736.30v3.6M1202.13,736.30v3.6M1219.91,736.30v3.6M1237.69,736.30v3.6M1255.46,736.30v3.6M1273.24,736.30v3.6M1291.02,736.30v3.6M1308.80,736.30v3.6M1326.58,736.30v3.6M1344.35,736.30v3.6M1362.13,736.30v3.6M1379.91,736.30v3.6M1397.68,736.30v3.6M1415.46,736.30v3.6M1433.24,736.30v3.6M1451.02,736.30v3.6M1468.80,736.30v3.6M1486.57,736.30v3.6M1504.35,736.30v3.6M1510.55,531.30h2M1510.55,549.30h2M1510.55,567.30h2M1510.55,585.30h2M1510.55,603.30h2M1510.55,621.30h2M1510.55,639.30h2M1510.55,657.30h2M1510.55,675.30h2M1510.55,693.30h2M1510.55,711.30h2M1510.55,729.30h2" fill="none" stroke="#c0dbe4" stroke-width="1.1" opacity="0.5"/>
<path d="M827,639.2H1483" stroke="#c5557f" stroke-width="1.6" fill="none"/>
<text y="530.5" font-family="'Liberation Sans', sans-serif" font-size="39" fill="#000" stroke="#000" stroke-width="0.6"><tspan x="809.34" textLength="125.0" lengthAdjust="spacingAndGlyphs">Digital</tspan> <tspan x="944.9" textLength="64.77" lengthAdjust="spacingAndGlyphs">AM</tspan></text>
<path d="M860.09,672.05L860.36,671.55L860.67,670.15L861.02,667.96L861.40,665.08L861.82,661.59L862.27,657.60L862.74,653.22L863.24,648.53L863.76,643.65L864.31,638.66L864.88,633.68L865.47,628.80L866.06,624.11L866.66,619.73L867.27,615.75L867.87,612.27L868.47,609.40L869.06,607.24L869.62,605.90L870.00,605.53L870.23,605.90L870.71,607.27L871.26,609.49L871.87,612.44L872.54,616.00L873.25,620.07L874.00,624.55L874.80,629.34L875.63,634.34L876.49,639.43L877.37,644.53L878.28,649.53L879.21,654.33L880.15,658.82L881.09,662.90L882.05,666.48L883.01,669.46L883.98,671.75L885.00,673.27L886.25,673.91L886.99,673.10L887.35,671.63L887.75,669.38L888.20,666.43L888.68,662.86L889.19,658.79L889.74,654.31L890.31,649.52L890.91,644.53L891.54,639.44L892.18,634.35L892.83,629.37L893.49,624.59L894.17,620.12L894.84,616.06L895.51,612.52L896.18,609.60L896.83,607.43L897.41,606.17L897.50,605.97L897.20,606.03L897.56,607.36L897.98,609.56L898.45,612.49L898.96,616.05L899.50,620.12L900.08,624.60L900.69,629.38L901.33,634.38L901.99,639.48L902.67,644.58L903.37,649.58L904.08,654.37L904.80,658.87L905.53,662.96L906.27,666.55L907.01,669.54L907.77,671.86L908.60,673.47L910.16,674.30L911.36,673.03L911.93,670.81L912.46,667.48L912.97,663.13L913.47,657.88L913.97,651.89L914.47,645.30L914.98,638.26L915.49,630.93L916.03,623.44L916.57,615.96L917.15,608.63L917.75,601.61L918.38,595.04L919.04,589.08L919.75,583.88L920.49,579.60L921.27,576.43L922.01,574.61L921.84,574.38L921.48,574.55L921.96,577.10L922.45,581.32L922.92,586.92L923.39,593.71L923.84,601.48L924.30,610.03L924.77,619.17L925.24,628.71L925.73,638.44L926.23,648.17L926.77,657.71L927.33,666.86L927.92,675.43L928.56,683.23L929.24,690.06L929.97,695.74L930.76,700.10L931.69,703.06L933.75,704.74L935.59,702.91L936.22,700.02L936.80,695.69L937.35,690.03L937.89,683.21L938.41,675.42L938.94,666.86L939.46,657.71L940.00,648.18L940.54,638.45L941.09,628.72L941.67,619.20L942.27,610.06L942.90,601.52L943.56,593.76L944.27,586.99L945.01,581.42L945.79,577.26L946.55,574.83L946.25,574.65L945.60,574.68L946.15,577.17L946.71,581.37L947.25,586.98L947.77,593.77L948.28,601.55L948.77,610.12L949.26,619.27L949.75,628.82L950.23,638.57L950.73,648.32L951.23,657.87L951.75,667.04L952.29,675.62L952.85,683.43L953.44,690.27L954.06,695.95L954.73,700.31L955.50,703.25L957.50,705.05L959.51,703.26L960.31,700.31L961.00,695.96L961.66,690.27L962.28,683.44L962.87,675.63L963.44,667.05L964.00,657.88L964.55,648.32L965.10,638.58L965.64,628.83L966.19,619.28L966.75,610.13L967.32,601.56L967.92,593.79L968.53,587.00L969.17,581.40L969.84,577.22L970.49,574.75L970.00,574.65L969.38,574.69L969.95,577.18L970.52,581.38L971.07,586.98L971.60,593.77L972.11,601.55L972.61,610.11L973.09,619.27L973.56,628.82L974.03,638.56L974.49,648.31L974.97,657.87L975.45,667.03L975.94,675.62L976.45,683.42L976.99,690.26L977.55,695.93L978.14,700.28L978.82,703.20L980.75,705.05L982.75,703.25L983.53,700.31L984.21,695.95L984.85,690.27L985.46,683.43L986.04,675.63L986.60,667.04L987.15,657.88L987.69,648.32L988.22,638.57L988.76,628.83L989.29,619.28L989.84,610.12L990.40,601.56L990.98,593.78L991.59,587.00L992.22,581.40L992.87,577.21L993.51,574.74L993.00,574.65L992.29,574.64L992.79,577.15L993.30,581.36L993.79,586.97L994.26,593.76L994.71,601.54L995.15,610.11L995.57,619.26L995.99,628.81L996.40,638.56L996.82,648.31L997.23,657.86L997.66,667.03L998.09,675.61L998.55,683.41L999.02,690.24L999.51,695.91L1000.04,700.25L1000.63,703.15L1002.50,705.05L1004.46,703.22L1005.16,700.29L1005.79,695.94L1006.38,690.26L1006.93,683.43L1007.47,675.62L1007.98,667.04L1008.49,657.87L1008.98,648.32L1009.47,638.57L1009.96,628.82L1010.46,619.27L1010.96,610.12L1011.48,601.55L1012.01,593.78L1012.56,586.98L1013.14,581.38L1013.74,577.19L1014.33,574.71L1013.75,574.65L1013.17,574.71L1013.76,577.19L1014.36,581.38L1014.94,586.98L1015.49,593.78L1016.02,601.55L1016.54,610.12L1017.04,619.27L1017.54,628.82L1018.03,638.57L1018.52,648.32L1019.01,657.87L1019.52,667.04L1020.03,675.62L1020.57,683.43L1021.12,690.26L1021.71,695.94L1022.34,700.29L1023.04,703.22L1025.00,705.05L1026.83,703.12L1027.38,700.24L1027.86,695.90L1028.32,690.23L1028.75,683.40L1029.16,675.60L1029.57,667.02L1029.96,657.86L1030.34,648.30L1030.72,638.55L1031.11,628.81L1031.49,619.26L1031.88,610.10L1032.28,601.53L1032.70,593.75L1033.13,586.96L1033.58,581.35L1034.05,577.14L1034.51,574.61L1033.75,574.65L1033.26,574.75L1033.91,577.22L1034.58,581.40L1035.22,587.00L1035.83,593.79L1036.43,601.56L1037.00,610.13L1037.56,619.28L1038.11,628.83L1038.65,638.58L1039.20,648.32L1039.75,657.88L1040.31,667.05L1040.88,675.63L1041.47,683.44L1042.09,690.27L1042.75,695.96L1043.44,700.31L1044.24,703.26L1046.25,705.05L1048.18,703.20L1048.86,700.28L1049.45,695.93L1050.01,690.26L1050.55,683.42L1051.06,675.62L1051.55,667.03L1052.03,657.87L1052.51,648.31L1052.97,638.56L1053.44,628.82L1053.91,619.27L1054.39,610.11L1054.89,601.55L1055.40,593.77L1055.93,586.98L1056.48,581.38L1057.05,577.18L1057.62,574.69L1057.00,574.65L1056.46,574.73L1057.07,577.20L1057.70,581.39L1058.30,586.99L1058.88,593.78L1059.43,601.56L1059.97,610.12L1060.50,619.28L1061.02,628.82L1061.53,638.57L1062.04,648.32L1062.56,657.87L1063.08,667.04L1063.62,675.62L1064.18,683.43L1064.76,690.27L1065.38,695.95L1066.03,700.30L1066.77,703.24L1068.55,705.03L1070.70,703.62L1071.54,701.27L1072.24,697.91L1072.90,693.57L1073.52,688.35L1074.12,682.41L1074.69,675.88L1075.25,668.90L1075.80,661.64L1076.35,654.22L1076.89,646.81L1077.44,639.56L1078.00,632.60L1078.57,626.09L1079.16,620.19L1079.78,615.04L1080.41,610.81L1081.07,607.67L1081.68,605.91L1081.46,605.88L1080.54,605.68L1080.96,606.91L1081.49,609.16L1082.05,612.20L1082.64,615.91L1083.25,620.16L1083.87,624.84L1084.50,629.85L1085.14,635.08L1085.78,640.41L1086.43,645.75L1087.07,650.98L1087.70,656.01L1088.33,660.71L1088.94,664.99L1089.53,668.75L1090.11,671.89L1090.69,674.32L1091.30,676.04L1093.00,677.30L1094.76,676.17L1095.57,674.41L1096.30,671.96L1097.05,668.81L1097.81,665.05L1098.59,660.76L1099.39,656.05L1100.20,651.03L1101.01,645.79L1101.83,640.46L1102.65,635.12L1103.47,629.89L1104.28,624.89L1105.07,620.21L1105.84,615.96L1106.59,612.26L1107.31,609.23L1107.98,607.00L1108.50,605.80L1108.00,605.90L1107.10,605.54L1107.43,606.83L1107.83,609.09L1108.25,612.15L1108.69,615.86L1109.14,620.11L1109.61,624.80L1110.08,629.81L1110.55,635.03L1111.03,640.37L1111.51,645.71L1111.99,650.94L1112.46,655.96L1112.92,660.67L1113.38,664.94L1113.82,668.69L1114.25,671.82L1114.67,674.23L1115.12,675.91L1116.75,677.30L1118.50,676.15L1119.28,674.39L1119.99,671.95L1120.71,668.80L1121.44,665.04L1122.20,660.75L1122.97,656.05L1123.75,651.02L1124.54,645.79L1125.34,640.45L1126.13,635.11L1126.92,629.89L1127.70,624.88L1128.46,620.20L1129.21,615.95L1129.94,612.25L1130.63,609.22L1131.27,606.99L1131.79,605.78L1131.25,605.90L1130.54,605.68L1130.96,606.91L1131.49,609.16L1132.05,612.20L1132.64,615.91L1133.25,620.16L1133.87,624.84L1134.50,629.85L1135.14,635.08L1135.78,640.41L1136.43,645.75L1137.07,650.98L1137.70,656.01L1138.33,660.71L1138.94,664.99L1139.53,668.75L1140.11,671.89L1140.69,674.32L1141.30,676.04L1143.00,677.30L1144.82,676.20L1145.65,674.39L1146.33,671.92L1146.96,668.76L1147.56,664.99L1148.14,660.70L1148.71,655.99L1149.26,650.96L1149.80,645.73L1150.34,640.39L1150.88,635.05L1151.43,629.83L1151.98,624.82L1152.54,620.14L1153.11,615.90L1153.70,612.21L1154.30,609.19L1154.90,606.99L1155.41,605.83L1155.00,605.90L1154.79,605.92L1155.38,607.06L1156.09,609.25L1156.80,612.25L1157.50,615.94L1158.18,620.17L1158.84,624.85L1159.50,629.85L1160.14,635.08L1160.78,640.41L1161.43,645.75L1162.07,650.99L1162.73,656.02L1163.40,660.73L1164.09,665.03L1164.81,668.80L1165.56,671.97L1166.37,674.46L1167.37,676.29L1169.25,677.30L1170.97,676.08L1171.64,674.34L1172.26,671.91L1172.89,668.77L1173.54,665.01L1174.21,660.73L1174.88,656.02L1175.57,651.00L1176.27,645.76L1176.96,640.42L1177.66,635.09L1178.35,629.86L1179.04,624.85L1179.71,620.17L1180.37,615.92L1181.01,612.22L1181.62,609.18L1182.19,606.94L1182.65,605.72L1182.00,605.90L1181.24,605.65L1181.64,606.89L1182.14,609.14L1182.67,612.19L1183.22,615.89L1183.79,620.14L1184.37,624.83L1184.96,629.84L1185.56,635.07L1186.16,640.40L1186.76,645.74L1187.36,650.97L1187.95,656.00L1188.54,660.70L1189.11,664.98L1189.67,668.74L1190.21,671.87L1190.74,674.29L1191.32,676.01L1193.00,677.30L1194.71,676.07L1195.37,674.34L1195.98,671.90L1196.60,668.77L1197.24,665.01L1197.89,660.72L1198.55,656.02L1199.22,650.99L1199.91,645.76L1200.59,640.42L1201.27,635.09L1201.95,629.86L1202.62,624.85L1203.29,620.17L1203.93,615.92L1204.56,612.22L1205.16,609.18L1205.71,606.94L1206.16,605.71L1205.50,605.90L1204.76,605.66L1205.17,606.90L1205.67,609.15L1206.21,612.19L1206.78,615.90L1207.36,620.15L1207.95,624.83L1208.56,629.84L1209.17,635.07L1209.78,640.40L1210.40,645.74L1211.01,650.98L1211.62,656.00L1212.22,660.70L1212.80,664.99L1213.37,668.74L1213.93,671.87L1214.48,674.30L1215.06,676.02L1216.75,677.30L1218.46,676.07L1219.12,674.34L1219.73,671.90L1220.35,668.77L1220.99,665.01L1221.64,660.72L1222.30,656.02L1222.97,650.99L1223.66,645.76L1224.34,640.42L1225.02,635.09L1225.70,629.86L1226.37,624.85L1227.04,620.17L1227.68,615.92L1228.31,612.22L1228.91,609.18L1229.46,606.94L1229.91,605.71L1229.02,605.88L1228.68,605.83L1229.21,607.63L1229.78,610.79L1230.33,615.04L1230.86,620.21L1231.36,626.13L1231.86,632.65L1232.34,639.63L1232.81,646.91L1233.28,654.33L1233.75,661.77L1234.22,669.05L1234.70,676.04L1235.19,682.59L1235.71,688.54L1236.24,693.77L1236.80,698.11L1237.41,701.47L1238.12,703.79L1240.21,705.28L1242.04,703.53L1242.86,700.57L1243.59,696.21L1244.27,690.53L1244.91,683.69L1245.53,675.88L1246.13,667.30L1246.71,658.13L1247.28,648.58L1247.85,638.83L1248.41,629.08L1248.99,619.53L1249.57,610.38L1250.16,601.82L1250.78,594.04L1251.42,587.25L1252.09,581.66L1252.78,577.48L1253.45,575.02L1253.00,574.90L1252.42,574.96L1253.01,577.44L1253.61,581.63L1254.19,587.23L1254.74,594.03L1255.27,601.80L1255.79,610.37L1256.29,619.52L1256.79,629.07L1257.28,638.82L1257.77,648.57L1258.26,658.12L1258.77,667.29L1259.28,675.87L1259.82,683.68L1260.37,690.51L1260.96,696.19L1261.59,700.54L1262.29,703.47L1264.25,705.30L1266.26,703.51L1267.06,700.56L1267.75,696.21L1268.41,690.52L1269.03,683.69L1269.62,675.88L1270.19,667.30L1270.75,658.13L1271.30,648.57L1271.85,638.83L1272.39,629.08L1272.94,619.53L1273.50,610.38L1274.07,601.81L1274.67,594.04L1275.28,587.25L1275.92,581.65L1276.59,577.47L1277.24,575.00L1276.75,574.90L1276.00,574.87L1276.48,577.39L1276.97,581.60L1277.43,587.21L1277.87,594.01L1278.30,601.79L1278.71,610.35L1279.11,619.51L1279.51,629.06L1279.90,638.80L1280.29,648.55L1280.69,658.11L1281.09,667.27L1281.51,675.85L1281.93,683.66L1282.38,690.49L1282.85,696.16L1283.35,700.49L1283.90,703.38L1285.75,705.30L1287.73,703.49L1288.47,700.55L1289.12,696.20L1289.74,690.52L1290.32,683.68L1290.88,675.87L1291.42,667.29L1291.94,658.12L1292.46,648.57L1292.97,638.82L1293.48,629.07L1294.00,619.53L1294.53,610.37L1295.07,601.81L1295.62,594.03L1296.20,587.24L1296.80,581.64L1297.43,577.45L1298.04,574.98L1297.50,574.90L1296.83,574.91L1297.35,577.42L1297.89,581.62L1298.40,587.22L1298.90,594.01L1299.37,601.79L1299.83,610.36L1300.28,619.51L1300.72,629.06L1301.15,638.81L1301.59,648.56L1302.03,658.11L1302.47,667.28L1302.93,675.86L1303.41,683.66L1303.90,690.50L1304.43,696.17L1304.98,700.51L1305.61,703.42L1307.50,705.30L1309.36,703.39L1309.93,700.50L1310.45,696.16L1310.93,690.49L1311.39,683.66L1311.83,675.85L1312.25,667.27L1312.66,658.11L1313.07,648.55L1313.47,638.81L1313.88,629.06L1314.28,619.51L1314.70,610.35L1315.12,601.79L1315.56,594.01L1316.02,587.21L1316.49,581.61L1316.99,577.40L1317.48,574.88L1316.75,574.90L1316.26,575.00L1316.91,577.47L1317.58,581.65L1318.22,587.25L1318.83,594.04L1319.43,601.81L1320.00,610.38L1320.56,619.53L1321.11,629.08L1321.65,638.83L1322.20,648.57L1322.75,658.13L1323.31,667.30L1323.88,675.88L1324.47,683.69L1325.09,690.52L1325.75,696.21L1326.44,700.56L1327.24,703.51L1329.25,705.30L1331.18,703.45L1331.86,700.53L1332.45,696.18L1333.01,690.51L1333.55,683.67L1334.06,675.87L1334.55,667.28L1335.03,658.12L1335.51,648.56L1335.97,638.81L1336.44,629.07L1336.91,619.52L1337.39,610.36L1337.89,601.80L1338.40,594.02L1338.93,587.23L1339.48,581.63L1340.05,577.43L1340.62,574.94L1340.00,574.90L1339.51,575.00L1340.16,577.47L1340.83,581.65L1341.47,587.25L1342.08,594.04L1342.68,601.81L1343.25,610.38L1343.81,619.53L1344.36,629.08L1344.90,638.83L1345.45,648.57L1346.00,658.13L1346.56,667.30L1347.13,675.88L1347.72,683.69L1348.34,690.52L1349.00,696.21L1349.69,700.56L1350.49,703.51L1352.50,705.30L1354.46,703.47L1355.16,700.54L1355.79,696.19L1356.38,690.51L1356.93,683.68L1357.47,675.87L1357.98,667.29L1358.49,658.12L1358.98,648.57L1359.47,638.82L1359.96,629.07L1360.46,619.52L1360.96,610.37L1361.48,601.80L1362.01,594.03L1362.56,587.23L1363.14,581.63L1363.74,577.44L1364.33,574.96L1363.75,574.90L1363.26,575.00L1363.91,577.47L1364.58,581.65L1365.22,587.25L1365.84,594.04L1366.43,601.81L1367.01,610.38L1367.57,619.53L1368.12,629.08L1368.67,638.82L1369.22,648.57L1369.78,658.13L1370.34,667.29L1370.92,675.88L1371.53,683.68L1372.15,690.52L1372.81,696.20L1373.51,700.55L1374.30,703.49L1376.25,705.23L1378.29,703.55L1379.21,700.59L1380.01,696.22L1380.76,690.54L1381.48,683.69L1382.16,675.89L1382.81,667.30L1383.45,658.13L1384.07,648.58L1384.69,638.83L1385.30,629.08L1385.92,619.53L1386.55,610.37L1387.20,601.81L1387.88,594.03L1388.58,587.24L1389.31,581.64L1390.08,577.45L1390.83,574.95L1390.91,574.60L1390.32,574.66L1390.81,576.53L1391.31,579.71L1391.79,583.96L1392.26,589.13L1392.71,595.04L1393.15,601.55L1393.58,608.51L1394.00,615.77L1394.42,623.18L1394.84,630.59L1395.27,637.85L1395.70,644.82L1396.14,651.35L1396.59,657.28L1397.07,662.47L1397.56,666.79L1398.08,670.08L1398.66,672.29L1399.84,673.52L1401.29,672.65L1402.01,671.06L1402.69,668.75L1403.38,665.76L1404.09,662.16L1404.82,658.06L1405.57,653.55L1406.32,648.74L1407.08,643.73L1407.85,638.61L1408.61,633.50L1409.38,628.49L1410.13,623.68L1410.87,619.19L1411.59,615.11L1412.30,611.55L1412.98,608.62L1413.62,606.43L1414.19,605.14L1414.25,604.93L1414.20,605.10L1414.69,606.39L1415.24,608.59L1415.83,611.52L1416.45,615.08L1417.08,619.16L1417.73,623.65L1418.39,628.45L1419.06,633.46L1419.73,638.57L1420.40,643.68L1421.07,648.69L1421.73,653.49L1422.38,657.99L1423.02,662.08L1423.64,665.66L1424.23,668.64L1424.81,670.91L1425.38,672.40L1426.25,673.11L1427.09,672.39L1427.61,670.89L1428.14,668.63L1428.68,665.65L1429.24,662.07L1429.81,657.98L1430.39,653.47L1430.98,648.66L1431.58,643.65L1432.17,638.54L1432.77,633.42L1433.37,628.41L1433.96,623.60L1434.54,619.11L1435.11,615.02L1435.66,611.45L1436.20,608.50L1436.71,606.27L1437.20,604.88L1437.52,604.48L1437.88,604.79L1438.41,605.86L1439.00,607.58L1439.61,609.87L1440.25,612.65L1440.91,615.82L1441.58,619.31L1442.27,623.05L1442.96,626.94L1443.65,630.92L1444.34,634.89L1445.02,638.79L1445.69,642.53L1446.35,646.03L1447.00,649.21L1447.63,651.99L1448.24,654.30L1448.83,656.05L1449.40,657.17L1449.94,657.58L1450.06,657.42L1449.56,657.06L1449.01,655.97L1448.43,654.24L1447.83,651.94L1447.20,649.17L1446.55,645.99L1445.89,642.49L1445.21,638.76L1444.53,634.86L1443.85,630.88L1443.17,626.91L1442.50,623.01L1441.84,619.27L1441.19,615.76L1440.55,612.58L1439.93,609.79L1439.33,607.48L1438.75,605.72L1438.17,604.58L1437.48,604.12L1436.86,604.71L1436.34,606.16L1435.81,608.41L1435.25,611.38L1434.67,614.95L1434.07,619.04L1433.46,623.54L1432.84,628.34L1432.21,633.35L1431.58,638.46L1430.94,643.57L1430.32,648.58L1429.69,653.38L1429.08,657.88L1428.49,661.96L1427.91,665.52L1427.36,668.46L1426.83,670.67L1426.35,672.02L1426.25,672.29L1426.11,672.01L1425.62,670.66L1425.07,668.45L1424.50,665.51L1423.91,661.94L1423.30,657.86L1422.68,653.36L1422.05,648.56L1421.41,643.55L1420.77,638.43L1420.13,633.32L1419.49,628.30L1418.86,623.49L1418.24,618.99L1417.63,614.89L1417.03,611.30L1416.45,608.32L1415.88,606.04L1415.31,604.50L1414.25,603.67L1413.12,604.45L1412.42,606.00L1411.73,608.29L1411.02,611.28L1410.29,614.86L1409.54,618.96L1408.77,623.46L1407.98,628.27L1407.19,633.28L1406.40,638.39L1405.61,643.50L1404.82,648.50L1404.04,653.30L1403.27,657.79L1402.52,661.86L1401.80,665.42L1401.10,668.34L1400.45,670.51L1399.90,671.76L1400.16,671.88L1400.21,671.67L1399.72,669.76L1399.24,666.57L1398.77,662.30L1398.33,657.14L1397.91,651.22L1397.50,644.71L1397.10,637.75L1396.72,630.48L1396.33,623.07L1395.94,615.66L1395.55,608.39L1395.16,601.42L1394.75,594.90L1394.32,588.96L1393.87,583.76L1393.40,579.44L1392.89,576.12L1392.31,573.88L1390.59,572.50L1388.90,574.04L1387.98,576.96L1387.17,581.31L1386.40,586.98L1385.67,593.82L1384.96,601.62L1384.28,610.21L1383.62,619.37L1382.96,628.93L1382.31,638.67L1381.67,648.42L1381.02,657.97L1380.35,667.12L1379.68,675.68L1378.98,683.46L1378.26,690.24L1377.51,695.83L1376.73,700.01L1375.98,702.46L1376.25,702.67L1376.67,702.52L1376.02,700.05L1375.36,695.86L1374.72,690.26L1374.11,683.47L1373.53,675.69L1372.96,667.13L1372.41,657.97L1371.87,648.42L1371.33,638.68L1370.79,628.93L1370.24,619.37L1369.69,610.20L1369.12,601.62L1368.52,593.81L1367.90,586.98L1367.25,581.29L1366.56,576.94L1365.76,573.99L1363.75,572.20L1361.79,574.03L1361.09,576.96L1360.46,581.31L1359.87,586.99L1359.32,593.82L1358.78,601.63L1358.27,610.21L1357.76,619.38L1357.27,628.93L1356.78,638.68L1356.29,648.43L1355.79,657.98L1355.29,667.13L1354.77,675.70L1354.24,683.47L1353.69,690.27L1353.11,695.87L1352.51,700.06L1351.92,702.54L1352.50,702.60L1352.99,702.50L1352.34,700.03L1351.67,695.85L1351.03,690.25L1350.42,683.46L1349.82,675.69L1349.25,667.12L1348.69,657.97L1348.14,648.42L1347.60,638.67L1347.05,628.93L1346.50,619.37L1345.94,610.20L1345.37,601.62L1344.78,593.81L1344.16,586.98L1343.50,581.29L1342.81,576.94L1342.01,573.99L1340.00,572.20L1338.07,574.05L1337.39,576.97L1336.80,581.32L1336.24,586.99L1335.70,593.83L1335.19,601.63L1334.70,610.22L1334.22,619.38L1333.74,628.94L1333.28,638.69L1332.81,648.43L1332.34,657.98L1331.86,667.14L1331.36,675.70L1330.85,683.48L1330.32,690.27L1329.77,695.87L1329.20,700.07L1328.63,702.56L1329.25,702.60L1329.74,702.50L1329.09,700.03L1328.42,695.85L1327.78,690.25L1327.17,683.46L1326.57,675.69L1326.00,667.12L1325.44,657.97L1324.89,648.42L1324.35,638.67L1323.80,628.93L1323.25,619.37L1322.69,610.20L1322.12,601.62L1321.53,593.81L1320.91,586.98L1320.25,581.29L1319.56,576.94L1318.76,573.99L1316.75,572.20L1314.89,574.11L1314.32,577.00L1313.80,581.34L1313.32,587.01L1312.86,593.84L1312.42,601.65L1312.00,610.23L1311.59,619.39L1311.18,628.95L1310.78,638.69L1310.37,648.44L1309.97,657.99L1309.55,667.15L1309.13,675.71L1308.69,683.49L1308.23,690.29L1307.76,695.89L1307.26,700.10L1306.77,702.62L1307.50,702.60L1308.17,702.59L1307.65,700.08L1307.11,695.88L1306.60,690.28L1306.10,683.49L1305.63,675.71L1305.17,667.14L1304.72,657.99L1304.28,648.44L1303.85,638.69L1303.41,628.94L1302.97,619.39L1302.53,610.22L1302.07,601.64L1301.59,593.84L1301.10,587.00L1300.57,581.33L1300.02,576.99L1299.39,574.08L1297.50,572.20L1295.52,574.01L1294.78,576.95L1294.13,581.30L1293.51,586.98L1292.93,593.82L1292.37,601.63L1291.83,610.21L1291.31,619.38L1290.79,628.93L1290.28,638.68L1289.77,648.43L1289.25,657.97L1288.72,667.13L1288.18,675.69L1287.63,683.47L1287.05,690.26L1286.45,695.86L1285.82,700.05L1285.21,702.52L1285.75,702.60L1286.50,702.63L1286.02,700.11L1285.53,695.90L1285.07,690.29L1284.63,683.49L1284.20,675.71L1283.79,667.15L1283.39,657.99L1282.99,648.44L1282.60,638.70L1282.21,628.95L1281.81,619.39L1281.41,610.23L1280.99,601.65L1280.57,593.84L1280.12,587.01L1279.65,581.34L1279.15,577.01L1278.60,574.12L1276.75,572.20L1274.74,573.99L1273.94,576.94L1273.25,581.29L1272.59,586.98L1271.97,593.81L1271.38,601.62L1270.81,610.20L1270.25,619.37L1269.70,628.93L1269.15,638.67L1268.61,648.42L1268.06,657.97L1267.50,667.12L1266.93,675.69L1266.33,683.46L1265.72,690.25L1265.08,695.85L1264.41,700.03L1263.76,702.50L1264.25,702.60L1264.83,702.54L1264.24,700.06L1263.64,695.87L1263.06,690.27L1262.51,683.47L1261.98,675.70L1261.46,667.13L1260.96,657.98L1260.46,648.43L1259.97,638.68L1259.48,628.93L1258.99,619.38L1258.48,610.21L1257.97,601.63L1257.43,593.82L1256.88,586.99L1256.29,581.31L1255.66,576.96L1254.96,574.03L1253.00,572.20L1250.96,573.97L1250.14,576.93L1249.41,581.29L1248.73,586.97L1248.09,593.81L1247.47,601.62L1246.87,610.20L1246.29,619.37L1245.72,628.92L1245.15,638.67L1244.59,648.42L1244.01,657.97L1243.43,667.12L1242.84,675.68L1242.22,683.46L1241.58,690.25L1240.91,695.84L1240.22,700.02L1239.55,702.48L1239.79,702.62L1240.57,702.67L1240.04,700.87L1239.47,697.71L1238.92,693.46L1238.39,688.29L1237.89,682.37L1237.39,675.85L1236.91,668.87L1236.44,661.59L1235.97,654.17L1235.50,646.73L1235.03,639.45L1234.55,632.46L1234.06,625.91L1233.54,619.96L1233.01,614.73L1232.45,610.39L1231.84,607.03L1231.13,604.71L1229.48,603.22L1227.54,604.43L1226.88,606.16L1226.27,608.60L1225.65,611.73L1225.01,615.49L1224.36,619.78L1223.70,624.48L1223.03,629.51L1222.34,634.74L1221.66,640.08L1220.98,645.41L1220.30,650.64L1219.63,655.65L1218.96,660.33L1218.32,664.58L1217.69,668.28L1217.09,671.32L1216.54,673.56L1216.09,674.79L1216.75,674.60L1217.49,674.84L1217.08,673.60L1216.58,671.35L1216.04,668.31L1215.47,664.60L1214.89,660.35L1214.30,655.67L1213.69,650.66L1213.08,645.43L1212.47,640.10L1211.85,634.76L1211.24,629.52L1210.63,624.50L1210.03,619.80L1209.45,615.51L1208.88,611.76L1208.32,608.63L1207.77,606.20L1207.19,604.48L1205.50,603.20L1203.79,604.43L1203.13,606.16L1202.52,608.60L1201.90,611.73L1201.26,615.49L1200.61,619.78L1199.95,624.48L1199.28,629.51L1198.59,634.74L1197.91,640.08L1197.23,645.41L1196.55,650.64L1195.88,655.65L1195.21,660.33L1194.57,664.58L1193.94,668.28L1193.34,671.32L1192.79,673.56L1192.34,674.79L1193.00,674.60L1193.76,674.85L1193.36,673.61L1192.86,671.36L1192.33,668.31L1191.78,664.61L1191.21,660.36L1190.63,655.67L1190.04,650.66L1189.44,645.43L1188.84,640.10L1188.24,634.76L1187.64,629.53L1187.05,624.50L1186.46,619.80L1185.89,615.52L1185.33,611.76L1184.79,608.63L1184.26,606.21L1183.68,604.49L1182.00,603.20L1180.28,604.42L1179.61,606.16L1178.99,608.59L1178.36,611.73L1177.71,615.49L1177.04,619.77L1176.37,624.48L1175.68,629.50L1174.98,634.74L1174.29,640.08L1173.59,645.41L1172.90,650.64L1172.21,655.65L1171.54,660.33L1170.88,664.58L1170.24,668.28L1169.63,671.32L1169.06,673.56L1168.60,674.78L1169.25,674.60L1169.46,674.58L1168.87,673.44L1168.16,671.25L1167.45,668.25L1166.75,664.56L1166.07,660.33L1165.41,655.65L1164.75,650.65L1164.11,645.42L1163.47,640.09L1162.82,634.75L1162.18,629.51L1161.52,624.48L1160.85,619.77L1160.16,615.47L1159.44,611.70L1158.69,608.53L1157.88,606.04L1156.88,604.21L1155.00,603.20L1153.18,604.30L1152.35,606.11L1151.67,608.58L1151.04,611.74L1150.44,615.51L1149.86,619.80L1149.29,624.51L1148.74,629.54L1148.20,634.77L1147.66,640.11L1147.12,645.45L1146.57,650.67L1146.02,655.68L1145.46,660.36L1144.89,664.60L1144.30,668.29L1143.70,671.31L1143.10,673.51L1142.59,674.67L1143.00,674.60L1143.71,674.82L1143.29,673.59L1142.76,671.34L1142.20,668.30L1141.61,664.59L1141.00,660.34L1140.38,655.66L1139.75,650.65L1139.11,645.42L1138.47,640.09L1137.82,634.75L1137.18,629.52L1136.55,624.49L1135.92,619.79L1135.31,615.51L1134.72,611.75L1134.14,608.61L1133.56,606.18L1132.95,604.46L1131.25,603.20L1129.50,604.35L1128.72,606.11L1128.01,608.55L1127.29,611.70L1126.56,615.46L1125.80,619.75L1125.03,624.45L1124.25,629.48L1123.46,634.71L1122.66,640.05L1121.87,645.39L1121.08,650.61L1120.30,655.62L1119.54,660.30L1118.79,664.55L1118.06,668.25L1117.37,671.28L1116.73,673.51L1116.21,674.72L1116.75,674.60L1117.65,674.96L1117.32,673.67L1116.92,671.41L1116.50,668.35L1116.06,664.64L1115.61,660.39L1115.14,655.70L1114.67,650.69L1114.20,645.47L1113.72,640.13L1113.24,634.79L1112.76,629.56L1112.29,624.54L1111.83,619.83L1111.37,615.56L1110.93,611.81L1110.50,608.68L1110.08,606.27L1109.63,604.59L1108.00,603.20L1106.24,604.33L1105.43,606.09L1104.70,608.54L1103.95,611.69L1103.19,615.45L1102.41,619.74L1101.61,624.45L1100.80,629.47L1099.99,634.71L1099.17,640.04L1098.35,645.38L1097.53,650.61L1096.72,655.61L1095.93,660.29L1095.16,664.54L1094.41,668.24L1093.69,671.27L1093.02,673.50L1092.50,674.70L1093.00,674.60L1093.71,674.82L1093.29,673.59L1092.76,671.34L1092.20,668.30L1091.61,664.59L1091.00,660.34L1090.38,655.66L1089.75,650.65L1089.11,645.42L1088.47,640.09L1087.82,634.75L1087.18,629.52L1086.55,624.49L1085.92,619.79L1085.31,615.51L1084.72,611.75L1084.14,608.61L1083.56,606.18L1082.95,604.46L1081.04,603.22L1079.30,604.63L1078.46,606.98L1077.76,610.34L1077.10,614.68L1076.48,619.90L1075.88,625.84L1075.31,632.37L1074.75,639.35L1074.20,646.61L1073.65,654.03L1073.11,661.44L1072.56,668.69L1072.00,675.65L1071.43,682.16L1070.84,688.06L1070.22,693.21L1069.59,697.44L1068.93,700.58L1068.32,702.34L1068.95,702.37L1069.29,702.27L1068.68,699.80L1068.05,695.61L1067.45,690.01L1066.87,683.22L1066.32,675.44L1065.78,666.88L1065.25,657.72L1064.73,648.18L1064.22,638.43L1063.71,628.68L1063.19,619.13L1062.67,609.96L1062.13,601.38L1061.57,593.57L1060.99,586.73L1060.37,581.05L1059.72,576.70L1058.98,573.76L1057.00,571.95L1055.07,573.80L1054.39,576.72L1053.80,581.07L1053.24,586.74L1052.70,593.58L1052.19,601.38L1051.70,609.97L1051.22,619.13L1050.74,628.69L1050.28,638.44L1049.81,648.18L1049.34,657.73L1048.86,666.89L1048.36,675.45L1047.85,683.23L1047.32,690.02L1046.77,695.62L1046.20,699.82L1045.63,702.31L1046.25,702.35L1046.74,702.25L1046.09,699.78L1045.42,695.60L1044.78,690.00L1044.17,683.21L1043.57,675.44L1043.00,666.87L1042.44,657.72L1041.89,648.17L1041.35,638.42L1040.80,628.68L1040.25,619.12L1039.69,609.95L1039.12,601.37L1038.53,593.56L1037.91,586.73L1037.25,581.04L1036.56,576.69L1035.76,573.74L1033.75,571.95L1031.92,573.88L1031.37,576.76L1030.89,581.10L1030.43,586.77L1030.00,593.60L1029.59,601.40L1029.18,609.98L1028.79,619.14L1028.41,628.70L1028.03,638.45L1027.64,648.19L1027.26,657.74L1026.87,666.90L1026.47,675.47L1026.05,683.25L1025.62,690.04L1025.17,695.65L1024.70,699.86L1024.24,702.39L1025.00,702.35L1025.58,702.29L1024.99,699.81L1024.39,695.62L1023.81,690.02L1023.26,683.22L1022.73,675.45L1022.21,666.88L1021.71,657.73L1021.21,648.18L1020.72,638.43L1020.23,628.68L1019.74,619.13L1019.23,609.96L1018.72,601.38L1018.18,593.57L1017.63,586.74L1017.04,581.06L1016.41,576.71L1015.71,573.78L1013.75,571.95L1011.79,573.78L1011.09,576.71L1010.46,581.06L1009.87,586.74L1009.32,593.57L1008.78,601.38L1008.27,609.96L1007.76,619.13L1007.27,628.68L1006.78,638.43L1006.29,648.18L1005.79,657.73L1005.29,666.88L1004.77,675.45L1004.24,683.22L1003.69,690.02L1003.11,695.62L1002.51,699.81L1001.92,702.29L1002.50,702.35L1003.21,702.36L1002.71,699.85L1002.20,695.64L1001.71,690.03L1001.24,683.24L1000.79,675.46L1000.35,666.89L999.93,657.74L999.51,648.19L999.10,638.44L998.68,628.69L998.27,619.14L997.84,609.97L997.41,601.39L996.95,593.59L996.48,586.76L995.99,581.09L995.46,576.75L994.87,573.85L993.00,571.95L991.00,573.75L990.22,576.69L989.54,581.05L988.90,586.73L988.29,593.57L987.71,601.37L987.15,609.96L986.60,619.12L986.06,628.68L985.53,638.43L984.99,648.17L984.46,657.72L983.91,666.88L983.35,675.44L982.77,683.22L982.16,690.00L981.53,695.60L980.88,699.79L980.24,702.26L980.75,702.35L981.37,702.31L980.80,699.82L980.23,695.62L979.68,690.02L979.15,683.23L978.64,675.45L978.14,666.89L977.66,657.73L977.19,648.18L976.72,638.44L976.26,628.69L975.78,619.13L975.30,609.97L974.81,601.38L974.30,593.58L973.76,586.74L973.20,581.07L972.61,576.72L971.93,573.80L970.00,571.95L967.99,573.74L967.19,576.69L966.50,581.04L965.84,586.73L965.22,593.56L964.63,601.37L964.06,609.95L963.50,619.12L962.95,628.68L962.40,638.42L961.86,648.17L961.31,657.72L960.75,666.87L960.18,675.44L959.58,683.21L958.97,690.00L958.33,695.60L957.66,699.78L957.01,702.25L957.50,702.35L958.01,702.26L957.38,699.79L956.74,695.61L956.13,690.01L955.54,683.22L954.98,675.44L954.44,666.88L953.93,657.73L953.42,648.18L952.93,638.43L952.44,628.68L951.96,619.13L951.47,609.97L950.97,601.38L950.46,593.58L949.94,586.75L949.39,581.07L948.81,576.73L948.16,573.81L946.25,571.95L944.12,573.65L943.16,576.63L942.34,581.00L941.59,586.68L940.88,593.51L940.21,601.31L939.58,609.88L938.98,619.03L938.41,628.57L937.86,638.30L937.33,648.03L936.81,657.56L936.30,666.70L935.79,675.25L935.27,683.02L934.75,689.80L934.22,695.40L933.67,699.60L933.13,702.10L933.75,702.16L934.02,701.95L933.27,699.51L932.50,695.35L931.77,689.77L931.09,683.00L930.44,675.24L929.82,666.70L929.24,657.56L928.68,648.04L928.14,638.31L927.63,628.58L927.12,619.05L926.63,609.91L926.14,601.35L925.65,593.56L925.16,586.75L924.66,581.10L924.15,576.78L923.59,573.94L922.16,572.22L920.16,573.44L919.19,575.78L918.37,579.17L917.62,583.56L916.93,588.82L916.29,594.83L915.68,601.43L915.11,608.47L914.57,615.82L914.05,623.31L913.56,630.80L913.08,638.13L912.61,645.17L912.14,651.75L911.67,657.72L911.20,662.94L910.72,667.25L910.22,670.48L909.74,672.41L909.84,672.60L909.97,672.44L909.36,671.22L908.65,669.08L907.91,666.18L907.17,662.64L906.42,658.59L905.68,654.12L904.94,649.35L904.22,644.36L903.51,639.27L902.82,634.18L902.16,629.19L901.52,624.41L900.92,619.93L900.35,615.85L899.82,612.28L899.33,609.32L898.88,607.06L898.46,605.56L897.50,604.63L896.30,605.42L895.58,606.98L894.91,609.28L894.24,612.26L893.59,615.84L892.93,619.92L892.28,624.42L891.65,629.21L891.02,634.21L890.41,639.31L889.82,644.40L889.25,649.40L888.71,654.19L888.19,658.67L887.70,662.74L887.24,666.30L886.82,669.24L886.44,671.45L886.11,672.81L886.25,672.99L885.65,672.64L884.78,671.33L883.84,669.16L882.88,666.24L881.91,662.70L880.94,658.64L879.97,654.17L879.02,649.39L878.08,644.41L877.16,639.32L876.27,634.23L875.41,629.24L874.58,624.45L873.80,619.97L873.06,615.90L872.37,612.34L871.74,609.39L871.16,607.14L870.64,605.69L870.00,605.07L869.24,605.67L868.64,607.10L868.05,609.30L867.47,612.20L866.89,615.69L866.31,619.68L865.74,624.07L865.18,628.76L864.63,633.65L864.09,638.64L863.56,643.63L863.04,648.51L862.54,653.20L862.07,657.58L861.62,661.57L861.21,665.05L860.82,667.93L860.48,670.11L860.17,671.49L859.91,671.95Z" fill="#000"/>
</g>
<g id="panel-fm">
<rect x="36.60" y="900.30" width="711.10" height="198.00" fill="#fdfefe"/>
<path d="M36.60,900.30V1105.30M54.38,900.30V1105.30M72.16,900.30V1105.30M89.93,900.30V1105.30M107.71,900.30V1105.30M125.49,900.30V1105.30M143.26,900.30V1105.30M161.04,900.30V1105.30M178.82,900.30V1105.30M196.60,900.30V1105.30M214.38,900.30V1105.30M232.15,900.30V1105.30M249.93,900.30V1105.30M267.71,900.30V1105.30M285.49,900.30V1105.30M303.26,900.30V1105.30M321.04,900.30V1105.30M338.82,900.30V1105.30M356.60,900.30V1105.30M374.37,900.30V1105.30M392.15,900.30V1105.30M409.93,900.30V1105.30M427.71,900.30V1105.30M445.48,900.30V1105.30M463.26,900.30V1105.30M481.04,900.30V1105.30M498.81,900.30V1105.30M516.59,900.30V1105.30M534.37,900.30V1105.30M552.15,900.30V1105.30M569.93,900.30V1105.30M587.70,900.30V1105.30M605.48,900.30V1105.30M623.26,900.30V1105.30M641.03,900.30V1105.30M658.81,900.30V1105.30M676.59,900.30V1105.30M694.37,900.30V1105.30M712.14,900.30V1105.30M729.92,900.30V1105.30M747.70,900.30V1105.30M36.00,900.30H753.90M36.00,918.30H753.90M36.00,936.30H753.90M36.00,954.30H753.90M36.00,972.30H753.90M36.00,990.30H753.90M36.00,1008.30H753.90M36.00,1026.30H753.90M36.00,1044.30H753.90M36.00,1062.30H753.90M36.00,1080.30H753.90M36.00,1098.30H753.90M36.60,1105.30v3.6M54.38,1105.30v3.6M72.16,1105.30v3.6M89.93,1105.30v3.6M107.71,1105.30v3.6M125.49,1105.30v3.6M143.26,1105.30v3.6M161.04,1105.30v3.6M178.82,1105.30v3.6M196.60,1105.30v3.6M214.38,1105.30v3.6M232.15,1105.30v3.6M249.93,1105.30v3.6M267.71,1105.30v3.6M285.49,1105.30v3.6M303.26,1105.30v3.6M321.04,1105.30v3.6M338.82,1105.30v3.6M356.60,1105.30v3.6M374.37,1105.30v3.6M392.15,1105.30v3.6M409.93,1105.30v3.6M427.71,1105.30v3.6M445.48,1105.30v3.6M463.26,1105.30v3.6M481.04,1105.30v3.6M498.81,1105.30v3.6M516.59,1105.30v3.6M534.37,1105.30v3.6M552.15,1105.30v3.6M569.93,1105.30v3.6M587.70,1105.30v3.6M605.48,1105.30v3.6M623.26,1105.30v3.6M641.03,1105.30v3.6M658.81,1105.30v3.6M676.59,1105.30v3.6M694.37,1105.30v3.6M712.14,1105.30v3.6M729.92,1105.30v3.6M747.70,1105.30v3.6M753.90,900.30h2M753.90,918.30h2M753.90,936.30h2M753.90,954.30h2M753.90,972.30h2M753.90,990.30h2M753.90,1008.30h2M753.90,1026.30h2M753.90,1044.30h2M753.90,1062.30h2M753.90,1080.30h2M753.90,1098.30h2" fill="none" stroke="#eefafc" stroke-width="3"/>
<path d="M36.60,900.30V1105.30M54.38,900.30V1105.30M72.16,900.30V1105.30M89.93,900.30V1105.30M107.71,900.30V1105.30M125.49,900.30V1105.30M143.26,900.30V1105.30M161.04,900.30V1105.30M178.82,900.30V1105.30M196.60,900.30V1105.30M214.38,900.30V1105.30M232.15,900.30V1105.30M249.93,900.30V1105.30M267.71,900.30V1105.30M285.49,900.30V1105.30M303.26,900.30V1105.30M321.04,900.30V1105.30M338.82,900.30V1105.30M356.60,900.30V1105.30M374.37,900.30V1105.30M392.15,900.30V1105.30M409.93,900.30V1105.30M427.71,900.30V1105.30M445.48,900.30V1105.30M463.26,900.30V1105.30M481.04,900.30V1105.30M498.81,900.30V1105.30M516.59,900.30V1105.30M534.37,900.30V1105.30M552.15,900.30V1105.30M569.93,900.30V1105.30M587.70,900.30V1105.30M605.48,900.30V1105.30M623.26,900.30V1105.30M641.03,900.30V1105.30M658.81,900.30V1105.30M676.59,900.30V1105.30M694.37,900.30V1105.30M712.14,900.30V1105.30M729.92,900.30V1105.30M747.70,900.30V1105.30M36.00,900.30H753.90M36.00,918.30H753.90M36.00,936.30H753.90M36.00,954.30H753.90M36.00,972.30H753.90M36.00,990.30H753.90M36.00,1008.30H753.90M36.00,1026.30H753.90M36.00,1044.30H753.90M36.00,1062.30H753.90M36.00,1080.30H753.90M36.00,1098.30H753.90" fill="none" stroke="#c0dbe4" stroke-width="1.1"/>
<path d="M36.60,1105.30v3.6M54.38,1105.30v3.6M72.16,1105.30v3.6M89.93,1105.30v3.6M107.71,1105.30v3.6M125.49,1105.30v3.6M143.26,1105.30v3.6M161.04,1105.30v3.6M178.82,1105.30v3.6M196.60,1105.30v3.6M214.38,1105.30v3.6M232.15,1105.30v3.6M249.93,1105.30v3.6M267.71,1105.30v3.6M285.49,1105.30v3.6M303.26,1105.30v3.6M321.04,1105.30v3.6M338.82,1105.30v3.6M356.60,1105.30v3.6M374.37,1105.30v3.6M392.15,1105.30v3.6M409.93,1105.30v3.6M427.71,1105.30v3.6M445.48,1105.30v3.6M463.26,1105.30v3.6M481.04,1105.30v3.6M498.81,1105.30v3.6M516.59,1105.30v3.6M534.37,1105.30v3.6M552.15,1105.30v3.6M569.93,1105.30v3.6M587.70,1105.30v3.6M605.48,1105.30v3.6M623.26,1105.30v3.6M641.03,1105.30v3.6M658.81,1105.30v3.6M676.59,1105.30v3.6M694.37,1105.30v3.6M712.14,1105.30v3.6M729.92,1105.30v3.6M747.70,1105.30v3.6M753.90,900.30h2M753.90,918.30h2M753.90,936.30h2M753.90,954.30h2M753.90,972.30h2M753.90,990.30h2M753.90,1008.30h2M753.90,1026.30h2M753.90,1044.30h2M753.90,1062.30h2M753.90,1080.30h2M753.90,1098.30h2" fill="none" stroke="#c0dbe4" stroke-width="1.1" opacity="0.5"/>
<path d="M52.5,1008.3H708.75" stroke="#c5557f" stroke-width="1.6" fill="none"/>
<text y="899.2" font-family="'Liberation Sans', sans-serif" font-size="39" fill="#000" stroke="#000" stroke-width="0.6"><tspan x="51.27" textLength="198.21" lengthAdjust="spacingAndGlyphs">Frequency</tspan> <tspan x="262.3" textLength="219.77" lengthAdjust="spacingAndGlyphs">modulation</tspan> <tspan x="494.4" textLength="82.19" lengthAdjust="spacingAndGlyphs">(FM)</tspan></text>
<path d="M61.21,969.09L61.81,969.34L62.40,970.11L63.02,971.40L63.64,973.20L64.25,975.48L64.87,978.20L65.49,981.33L66.11,984.83L66.73,988.64L67.35,992.72L67.98,997.01L68.60,1001.45L69.22,1005.98L69.84,1010.55L70.46,1015.08L71.06,1019.52L71.66,1023.82L72.27,1027.90L72.87,1031.72L73.47,1035.22L74.08,1038.36L74.69,1041.10L75.30,1043.39L75.91,1045.22L76.54,1046.57L77.21,1047.43L77.99,1047.76L78.76,1047.50L79.43,1046.80L80.07,1045.70L80.70,1044.20L81.33,1042.33L81.95,1040.08L82.58,1037.49L83.20,1034.58L83.83,1031.39L84.46,1027.94L85.10,1024.28L85.73,1020.45L86.37,1016.48L87.00,1012.43L87.64,1008.33L88.28,1004.23L88.91,1000.18L89.55,996.21L90.18,992.39L90.82,988.74L91.45,985.30L92.08,982.13L92.70,979.24L93.33,976.68L93.94,974.48L94.55,972.66L95.14,971.26L95.68,970.32L96.11,969.87L96.22,969.81L96.34,969.89L96.78,970.48L97.34,971.67L97.92,973.42L98.52,975.66L99.11,978.37L99.70,981.48L100.30,984.97L100.89,988.77L101.48,992.85L102.07,997.14L102.66,1001.58L103.26,1006.11L103.85,1010.68L104.44,1015.22L105.04,1019.67L105.63,1023.97L106.23,1028.06L106.83,1031.89L107.44,1035.41L108.05,1038.58L108.67,1041.35L109.30,1043.70L109.94,1045.61L110.65,1047.10L111.54,1048.22L112.93,1048.80L114.33,1048.38L115.25,1047.48L115.98,1046.29L116.65,1044.79L117.29,1042.96L117.92,1040.81L118.54,1038.34L119.16,1035.57L119.78,1032.53L120.40,1029.25L121.02,1025.77L121.63,1022.10L122.25,1018.31L122.86,1014.41L123.47,1010.45L124.08,1006.48L124.69,1002.52L125.29,998.63L125.90,994.85L126.50,991.20L127.10,987.74L127.71,984.49L128.31,981.50L128.90,978.79L129.50,976.40L130.09,974.36L130.66,972.69L131.21,971.45L131.68,970.66L131.93,970.39L131.67,970.42L131.41,970.34L131.72,970.77L132.23,971.88L132.79,973.58L133.37,975.79L133.97,978.47L134.56,981.57L135.16,985.04L135.76,988.84L136.36,992.91L136.96,997.19L137.56,1001.62L138.16,1006.15L138.76,1010.72L139.37,1015.26L139.97,1019.70L140.57,1024.00L141.17,1028.09L141.78,1031.92L142.38,1035.44L142.99,1038.60L143.61,1041.38L144.23,1043.73L144.87,1045.65L145.56,1047.15L146.46,1048.30L147.92,1048.92L149.39,1048.49L150.35,1047.56L151.08,1046.35L151.75,1044.83L152.38,1042.99L153.01,1040.83L153.62,1038.36L154.23,1035.59L154.84,1032.54L155.45,1029.26L156.06,1025.77L156.66,1022.11L157.27,1018.31L157.88,1014.41L158.48,1010.45L159.09,1006.48L159.69,1002.52L160.29,998.63L160.90,994.85L161.50,991.20L162.10,987.74L162.71,984.49L163.31,981.50L163.90,978.79L164.50,976.40L165.09,974.36L165.66,972.69L166.21,971.45L166.68,970.66L166.93,970.39L166.67,970.42L166.41,970.34L166.72,970.77L167.23,971.88L167.79,973.58L168.37,975.79L168.97,978.47L169.56,981.57L170.16,985.04L170.76,988.84L171.36,992.91L171.96,997.19L172.56,1001.62L173.16,1006.15L173.76,1010.72L174.37,1015.26L174.97,1019.70L175.57,1024.00L176.17,1028.09L176.78,1031.92L177.38,1035.44L177.99,1038.60L178.61,1041.38L179.23,1043.73L179.87,1045.65L180.56,1047.15L181.46,1048.30L182.92,1048.92L184.39,1048.49L185.35,1047.56L186.08,1046.35L186.75,1044.83L187.38,1042.99L188.01,1040.83L188.62,1038.36L189.23,1035.59L189.84,1032.54L190.45,1029.26L191.06,1025.77L191.66,1022.11L192.27,1018.31L192.88,1014.41L193.48,1010.45L194.09,1006.48L194.69,1002.52L195.29,998.63L195.90,994.85L196.50,991.20L197.10,987.74L197.71,984.49L198.31,981.50L198.90,978.79L199.50,976.40L200.09,974.36L200.66,972.69L201.21,971.45L201.68,970.66L201.93,970.39L201.68,970.42L201.43,970.34L201.74,970.77L202.26,971.89L202.83,973.58L203.42,975.79L204.02,978.47L204.63,981.57L205.23,985.05L205.84,988.84L206.45,992.91L207.06,997.19L207.67,1001.63L208.28,1006.16L208.89,1010.72L209.50,1015.26L210.12,1019.70L210.73,1024.00L211.34,1028.09L211.96,1031.92L212.57,1035.44L213.19,1038.61L213.81,1041.38L214.44,1043.73L215.09,1045.65L215.80,1047.16L216.71,1048.31L218.18,1048.92L219.64,1048.49L220.60,1047.56L221.33,1046.35L222.00,1044.83L222.63,1042.99L223.26,1040.83L223.87,1038.36L224.48,1035.59L225.09,1032.54L225.70,1029.26L226.31,1025.77L226.91,1022.11L227.52,1018.31L228.13,1014.41L228.73,1010.45L229.34,1006.48L229.94,1002.52L230.54,998.63L231.15,994.85L231.75,991.20L232.35,987.74L232.96,984.49L233.56,981.50L234.15,978.79L234.75,976.40L235.34,974.36L235.91,972.69L236.46,971.45L236.93,970.66L237.18,970.39L236.93,970.42L236.70,970.35L237.01,970.78L237.54,971.89L238.12,973.59L238.72,975.80L239.33,978.48L239.94,981.58L240.56,985.05L241.18,988.85L241.79,992.91L242.41,997.19L243.03,1001.63L243.65,1006.16L244.27,1010.72L244.89,1015.26L245.52,1019.71L246.14,1024.01L246.76,1028.10L247.38,1031.93L248.01,1035.45L248.63,1038.61L249.26,1041.39L249.90,1043.74L250.56,1045.66L251.28,1047.17L252.21,1048.32L253.63,1048.92L255.01,1048.61L255.99,1047.86L256.77,1046.86L257.46,1045.63L258.11,1044.14L258.74,1042.40L259.37,1040.41L259.99,1038.17L260.60,1035.71L261.21,1033.03L261.82,1030.16L262.43,1027.12L263.04,1023.94L263.65,1020.63L264.26,1017.23L264.87,1013.76L265.48,1010.25L266.08,1006.73L266.69,1003.23L267.30,999.76L267.90,996.38L268.51,993.09L269.11,989.92L269.72,986.92L270.32,984.09L270.92,981.46L271.52,979.05L272.12,976.90L272.71,975.01L273.29,973.41L273.85,972.13L274.37,971.19L274.81,970.62L275.05,970.42L275.12,970.42L275.34,970.46L275.70,970.56L276.10,970.76L276.55,971.05L277.04,971.47L277.56,972.00L278.09,972.66L278.65,973.43L279.21,974.31L279.79,975.31L280.37,976.41L280.95,977.61L281.54,978.91L282.13,980.30L282.72,981.78L283.32,983.34L283.92,984.98L284.51,986.69L285.11,988.46L285.71,990.30L286.31,992.19L286.91,994.14L287.51,996.13L288.12,998.15L288.72,1000.21L289.32,1002.29L289.92,1004.40L290.53,1006.51L291.13,1008.64L291.73,1010.76L292.34,1012.89L292.94,1014.99L293.55,1017.09L294.15,1019.15L294.76,1021.19L295.36,1023.19L295.97,1025.16L296.57,1027.07L297.18,1028.93L297.79,1030.74L298.40,1032.48L299.01,1034.16L299.62,1035.76L300.23,1037.29L300.85,1038.74L301.47,1040.10L302.09,1041.38L302.72,1042.57L303.35,1043.67L303.99,1044.67L304.65,1045.58L305.31,1046.39L306.01,1047.11L306.73,1047.72L307.48,1048.22L308.29,1048.60L309.13,1048.84L310.00,1048.92L310.87,1048.84L311.71,1048.60L312.52,1048.22L313.27,1047.72L313.99,1047.11L314.69,1046.39L315.35,1045.58L316.01,1044.67L316.65,1043.67L317.28,1042.57L317.91,1041.38L318.53,1040.10L319.15,1038.74L319.77,1037.29L320.38,1035.76L320.99,1034.16L321.60,1032.48L322.21,1030.74L322.82,1028.93L323.43,1027.07L324.03,1025.16L324.64,1023.19L325.24,1021.19L325.85,1019.15L326.45,1017.09L327.06,1014.99L327.66,1012.89L328.27,1010.76L328.87,1008.64L329.47,1006.51L330.08,1004.40L330.68,1002.29L331.28,1000.21L331.88,998.15L332.49,996.13L333.09,994.14L333.69,992.19L334.29,990.30L334.89,988.46L335.49,986.69L336.08,984.98L336.68,983.34L337.28,981.78L337.87,980.30L338.46,978.91L339.05,977.61L339.63,976.41L340.21,975.31L340.79,974.31L341.35,973.43L341.91,972.66L342.44,972.00L342.96,971.47L343.45,971.05L343.90,970.76L344.30,970.56L344.66,970.46L345.00,970.42L345.35,970.46L345.71,970.56L346.12,970.75L346.57,971.04L347.06,971.44L347.57,971.95L348.11,972.58L348.66,973.32L349.22,974.18L349.80,975.14L350.37,976.20L350.96,977.36L351.55,978.62L352.14,979.97L352.73,981.40L353.32,982.91L353.92,984.50L354.52,986.16L355.12,987.89L355.71,989.68L356.31,991.52L356.91,993.41L357.52,995.35L358.12,997.33L358.72,999.34L359.32,1001.38L359.92,1003.44L360.53,1005.52L361.13,1007.60L361.73,1009.69L362.34,1011.78L362.94,1013.86L363.54,1015.92L364.15,1017.97L364.75,1019.99L365.36,1021.98L365.97,1023.94L366.57,1025.85L367.18,1027.72L367.79,1029.53L368.40,1031.28L369.00,1032.98L369.62,1034.61L370.23,1036.16L370.84,1037.65L371.46,1039.05L372.08,1040.38L372.70,1041.62L373.33,1042.77L373.96,1043.84L374.60,1044.81L375.26,1045.69L375.93,1046.48L376.62,1047.17L377.34,1047.76L378.10,1048.25L378.90,1048.61L379.74,1048.85L380.60,1048.92L381.46,1048.85L382.30,1048.61L383.10,1048.25L383.86,1047.76L384.58,1047.17L385.27,1046.48L385.94,1045.69L386.60,1044.81L387.24,1043.84L387.87,1042.77L388.50,1041.62L389.12,1040.38L389.74,1039.05L390.36,1037.65L390.97,1036.16L391.58,1034.61L392.20,1032.98L392.80,1031.28L393.41,1029.53L394.02,1027.72L394.63,1025.85L395.23,1023.94L395.84,1021.98L396.45,1019.99L397.05,1017.97L397.66,1015.92L398.26,1013.86L398.86,1011.78L399.47,1009.69L400.07,1007.60L400.67,1005.52L401.28,1003.44L401.88,1001.38L402.48,999.34L403.08,997.33L403.68,995.35L404.29,993.41L404.89,991.52L405.49,989.68L406.08,987.89L406.68,986.16L407.28,984.50L407.88,982.91L408.47,981.40L409.06,979.97L409.65,978.62L410.24,977.36L410.83,976.20L411.40,975.14L411.98,974.18L412.54,973.32L413.09,972.58L413.63,971.95L414.14,971.44L414.63,971.04L415.08,970.75L415.49,970.56L415.85,970.46L416.20,970.42L416.54,970.46L416.90,970.56L417.30,970.76L417.75,971.05L418.24,971.47L418.76,972.00L419.29,972.66L419.85,973.43L420.41,974.31L420.99,975.31L421.57,976.41L422.15,977.61L422.74,978.91L423.33,980.30L423.92,981.78L424.52,983.34L425.12,984.98L425.71,986.69L426.31,988.46L426.91,990.30L427.51,992.19L428.11,994.14L428.71,996.13L429.32,998.15L429.92,1000.21L430.52,1002.29L431.12,1004.40L431.73,1006.51L432.33,1008.64L432.93,1010.76L433.54,1012.89L434.14,1014.99L434.75,1017.09L435.35,1019.15L435.96,1021.19L436.56,1023.19L437.17,1025.16L437.77,1027.07L438.38,1028.93L438.99,1030.74L439.60,1032.48L440.21,1034.16L440.82,1035.76L441.43,1037.29L442.05,1038.74L442.67,1040.10L443.29,1041.38L443.92,1042.57L444.55,1043.67L445.19,1044.67L445.85,1045.58L446.51,1046.39L447.21,1047.11L447.93,1047.72L448.68,1048.22L449.49,1048.60L450.33,1048.84L451.20,1048.92L452.07,1048.84L452.91,1048.60L453.72,1048.22L454.47,1047.72L455.19,1047.11L455.89,1046.39L456.55,1045.58L457.21,1044.67L457.85,1043.67L458.48,1042.57L459.11,1041.38L459.73,1040.10L460.35,1038.74L460.97,1037.29L461.58,1035.76L462.19,1034.16L462.80,1032.48L463.41,1030.74L464.02,1028.93L464.63,1027.07L465.23,1025.16L465.84,1023.19L466.44,1021.19L467.05,1019.15L467.65,1017.09L468.26,1014.99L468.86,1012.89L469.47,1010.76L470.07,1008.64L470.67,1006.51L471.28,1004.40L471.88,1002.29L472.48,1000.21L473.08,998.15L473.69,996.13L474.29,994.14L474.89,992.19L475.49,990.30L476.09,988.46L476.69,986.69L477.28,984.98L477.88,983.34L478.48,981.78L479.07,980.30L479.66,978.91L480.25,977.61L480.83,976.41L481.41,975.31L481.99,974.31L482.55,973.43L483.11,972.66L483.64,972.00L484.16,971.47L484.65,971.05L485.10,970.76L485.50,970.56L485.86,970.46L486.08,970.42L486.15,970.42L486.39,970.62L486.83,971.19L487.35,972.13L487.91,973.41L488.49,975.01L489.08,976.90L489.68,979.05L490.28,981.46L490.88,984.09L491.48,986.92L492.09,989.92L492.69,993.09L493.30,996.38L493.90,999.76L494.51,1003.23L495.12,1006.73L495.72,1010.25L496.33,1013.76L496.94,1017.23L497.55,1020.63L498.16,1023.94L498.77,1027.12L499.38,1030.16L499.99,1033.03L500.60,1035.71L501.21,1038.17L501.83,1040.41L502.46,1042.40L503.09,1044.14L503.74,1045.63L504.43,1046.86L505.21,1047.86L506.19,1048.61L507.57,1048.92L508.99,1048.32L509.92,1047.17L510.64,1045.66L511.30,1043.74L511.94,1041.39L512.57,1038.61L513.19,1035.45L513.82,1031.93L514.44,1028.10L515.06,1024.01L515.68,1019.71L516.31,1015.26L516.93,1010.72L517.55,1006.16L518.17,1001.63L518.79,997.19L519.41,992.91L520.02,988.85L520.64,985.05L521.26,981.58L521.87,978.48L522.48,975.80L523.08,973.59L523.66,971.89L524.19,970.78L524.50,970.35L524.27,970.42L524.02,970.39L524.27,970.66L524.74,971.45L525.29,972.69L525.86,974.36L526.45,976.40L527.05,978.79L527.64,981.50L528.24,984.49L528.85,987.74L529.45,991.20L530.05,994.85L530.66,998.63L531.26,1002.52L531.86,1006.48L532.47,1010.45L533.07,1014.41L533.68,1018.31L534.29,1022.11L534.89,1025.77L535.50,1029.26L536.11,1032.54L536.72,1035.59L537.33,1038.36L537.94,1040.83L538.57,1042.99L539.20,1044.83L539.87,1046.35L540.60,1047.56L541.56,1048.49L543.02,1048.92L544.49,1048.31L545.40,1047.16L546.11,1045.65L546.76,1043.73L547.39,1041.38L548.01,1038.61L548.63,1035.44L549.24,1031.92L549.86,1028.09L550.47,1024.00L551.08,1019.70L551.70,1015.26L552.31,1010.72L552.92,1006.16L553.53,1001.63L554.14,997.19L554.75,992.91L555.36,988.84L555.97,985.05L556.57,981.57L557.18,978.47L557.78,975.79L558.37,973.58L558.94,971.89L559.46,970.77L559.77,970.34L559.52,970.42L559.27,970.39L559.52,970.66L559.99,971.45L560.54,972.69L561.11,974.36L561.70,976.40L562.30,978.79L562.89,981.50L563.49,984.49L564.10,987.74L564.70,991.20L565.30,994.85L565.91,998.63L566.51,1002.52L567.11,1006.48L567.72,1010.45L568.32,1014.41L568.93,1018.31L569.54,1022.11L570.14,1025.77L570.75,1029.26L571.36,1032.54L571.97,1035.59L572.58,1038.36L573.19,1040.83L573.82,1042.99L574.45,1044.83L575.12,1046.35L575.85,1047.56L576.81,1048.49L578.28,1048.92L579.74,1048.30L580.64,1047.15L581.33,1045.65L581.97,1043.73L582.59,1041.38L583.21,1038.60L583.82,1035.44L584.42,1031.92L585.03,1028.09L585.63,1024.00L586.23,1019.70L586.83,1015.26L587.44,1010.72L588.04,1006.15L588.64,1001.62L589.24,997.19L589.84,992.91L590.44,988.84L591.04,985.04L591.64,981.57L592.23,978.47L592.83,975.79L593.41,973.58L593.97,971.88L594.48,970.77L594.79,970.34L594.53,970.42L594.27,970.39L594.52,970.66L594.99,971.45L595.54,972.69L596.11,974.36L596.70,976.40L597.30,978.79L597.89,981.50L598.49,984.49L599.10,987.74L599.70,991.20L600.30,994.85L600.91,998.63L601.51,1002.52L602.11,1006.48L602.72,1010.45L603.32,1014.41L603.93,1018.31L604.54,1022.11L605.14,1025.77L605.75,1029.26L606.36,1032.54L606.97,1035.59L607.58,1038.36L608.19,1040.83L608.82,1042.99L609.45,1044.83L610.12,1046.35L610.85,1047.56L611.81,1048.49L613.28,1048.92L614.74,1048.30L615.64,1047.15L616.33,1045.65L616.97,1043.73L617.59,1041.38L618.21,1038.60L618.82,1035.44L619.42,1031.92L620.03,1028.09L620.63,1024.00L621.23,1019.70L621.83,1015.26L622.44,1010.72L623.04,1006.15L623.64,1001.62L624.24,997.19L624.84,992.91L625.44,988.84L626.04,985.04L626.64,981.57L627.23,978.47L627.83,975.79L628.41,973.58L628.97,971.88L629.48,970.77L629.79,970.34L629.53,970.42L629.27,970.39L629.52,970.66L629.99,971.45L630.54,972.69L631.11,974.36L631.70,976.40L632.30,978.79L632.89,981.50L633.49,984.49L634.10,987.74L634.70,991.20L635.30,994.85L635.91,998.63L636.51,1002.52L637.12,1006.48L637.73,1010.45L638.34,1014.41L638.95,1018.31L639.57,1022.10L640.18,1025.77L640.80,1029.25L641.42,1032.53L642.04,1035.57L642.66,1038.34L643.28,1040.81L643.91,1042.96L644.55,1044.79L645.22,1046.29L645.95,1047.48L646.87,1048.38L648.27,1048.80L649.66,1048.22L650.55,1047.10L651.26,1045.61L651.90,1043.70L652.53,1041.35L653.15,1038.58L653.76,1035.41L654.37,1031.89L654.97,1028.06L655.57,1023.97L656.16,1019.67L656.76,1015.22L657.35,1010.68L657.94,1006.11L658.54,1001.58L659.13,997.14L659.72,992.85L660.31,988.77L660.90,984.97L661.50,981.48L662.09,978.37L662.68,975.66L663.28,973.42L663.86,971.67L664.42,970.48L664.86,969.89L664.98,969.81L665.09,969.87L665.52,970.32L666.06,971.26L666.65,972.66L667.26,974.48L667.87,976.68L668.50,979.24L669.12,982.13L669.75,985.30L670.38,988.74L671.02,992.39L671.65,996.21L672.29,1000.18L672.92,1004.23L673.56,1008.33L674.20,1012.43L674.83,1016.48L675.47,1020.45L676.10,1024.28L676.74,1027.94L677.37,1031.39L678.00,1034.58L678.62,1037.49L679.25,1040.08L679.87,1042.33L680.50,1044.20L681.13,1045.70L681.77,1046.80L682.44,1047.50L683.21,1047.76L683.99,1047.43L684.66,1046.57L685.29,1045.22L685.90,1043.39L686.51,1041.10L687.12,1038.36L687.73,1035.22L688.33,1031.72L688.93,1027.90L689.54,1023.82L690.14,1019.52L690.74,1015.08L691.36,1010.55L691.98,1005.98L692.60,1001.45L693.22,997.01L693.85,992.72L694.47,988.64L695.09,984.83L695.71,981.33L696.33,978.20L696.95,975.48L697.56,973.20L698.18,971.40L698.80,970.11L699.39,969.34L699.99,969.09L699.91,968.91L699.26,969.19L698.62,970.01L698.00,971.33L697.37,973.15L696.75,975.43L696.13,978.16L695.51,981.30L694.89,984.79L694.27,988.61L693.65,992.69L693.03,996.98L692.41,1001.42L691.79,1005.95L691.17,1010.52L690.55,1015.05L689.91,1019.49L689.27,1023.78L688.63,1027.85L688.00,1031.66L687.36,1035.15L686.72,1038.28L686.09,1040.99L685.46,1043.26L684.84,1045.04L684.23,1046.32L683.65,1047.04L683.19,1047.24L682.74,1047.07L682.20,1046.49L681.62,1045.46L681.03,1044.01L680.44,1042.16L679.85,1039.93L679.26,1037.35L678.67,1034.45L678.08,1031.25L677.50,1027.81L676.91,1024.15L676.33,1020.31L675.75,1016.34L675.17,1012.28L674.59,1008.17L674.01,1004.07L673.43,1000.00L672.85,996.03L672.27,992.18L671.68,988.51L671.10,985.06L670.51,981.85L669.92,978.92L669.33,976.31L668.72,974.04L668.12,972.13L667.49,970.58L666.82,969.39L666.02,968.56L664.92,968.19L663.80,968.65L663.00,969.64L662.32,971.06L661.66,972.93L661.01,975.25L660.37,978.00L659.72,981.15L659.07,984.66L658.42,988.48L657.77,992.56L657.12,996.85L656.48,1001.29L655.83,1005.82L655.18,1010.38L654.53,1014.91L653.88,1019.34L653.24,1023.62L652.60,1027.69L651.96,1031.48L651.33,1034.96L650.70,1038.06L650.07,1040.74L649.46,1042.95L648.87,1044.66L648.33,1045.78L647.98,1046.25L648.13,1046.20L648.32,1046.21L648.03,1045.91L647.55,1045.11L647.01,1043.84L646.44,1042.17L645.86,1040.12L645.27,1037.73L644.68,1035.01L644.09,1032.02L643.50,1028.77L642.91,1025.30L642.32,1021.66L641.72,1017.87L641.12,1013.98L640.53,1010.02L639.93,1006.05L639.32,1002.09L638.72,998.19L638.11,994.39L637.51,990.73L636.90,987.24L636.29,983.96L635.68,980.91L635.07,978.14L634.46,975.67L633.83,973.51L633.20,971.67L632.53,970.15L631.80,968.94L630.84,968.01L629.37,967.58L627.91,968.20L627.01,969.35L626.32,970.85L625.68,972.77L625.06,975.12L624.44,977.90L623.83,981.06L623.23,984.58L622.62,988.41L622.02,992.50L621.42,996.80L620.82,1001.24L620.21,1005.78L619.61,1010.35L619.01,1014.88L618.41,1019.31L617.81,1023.59L617.21,1027.66L616.61,1031.46L616.01,1034.93L615.42,1038.03L614.82,1040.71L614.24,1042.92L613.68,1044.62L613.17,1045.73L612.86,1046.16L613.12,1046.08L613.38,1046.11L613.13,1045.84L612.66,1045.05L612.11,1043.81L611.54,1042.14L610.95,1040.10L610.35,1037.71L609.76,1035.00L609.16,1032.01L608.55,1028.76L607.95,1025.30L607.35,1021.65L606.74,1017.87L606.14,1013.98L605.54,1010.02L604.93,1006.05L604.33,1002.09L603.72,998.19L603.11,994.39L602.51,990.73L601.90,987.24L601.29,983.96L600.68,980.91L600.07,978.14L599.46,975.67L598.83,973.51L598.20,971.67L597.53,970.15L596.80,968.94L595.84,968.01L594.37,967.58L592.91,968.20L592.01,969.35L591.32,970.85L590.68,972.77L590.06,975.12L589.44,977.90L588.83,981.06L588.23,984.58L587.62,988.41L587.02,992.50L586.42,996.80L585.82,1001.24L585.21,1005.78L584.61,1010.35L584.01,1014.88L583.41,1019.31L582.81,1023.59L582.21,1027.66L581.61,1031.46L581.01,1034.93L580.42,1038.03L579.82,1040.71L579.24,1042.92L578.68,1044.62L578.17,1045.73L577.86,1046.16L578.12,1046.08L578.38,1046.11L578.13,1045.84L577.66,1045.05L577.11,1043.81L576.54,1042.14L575.95,1040.10L575.35,1037.71L574.76,1035.00L574.16,1032.01L573.55,1028.76L572.95,1025.30L572.35,1021.65L571.74,1017.87L571.14,1013.98L570.54,1010.02L569.93,1006.05L569.33,1002.09L568.72,998.19L568.11,994.39L567.51,990.73L566.90,987.24L566.29,983.96L565.68,980.91L565.07,978.14L564.46,975.67L563.83,973.51L563.20,971.67L562.53,970.15L561.80,968.94L560.84,968.01L559.38,967.58L557.91,968.19L557.00,969.34L556.29,970.85L555.64,972.77L555.01,975.12L554.39,977.89L553.77,981.06L553.16,984.58L552.54,988.41L551.93,992.50L551.32,996.80L550.70,1001.24L550.09,1005.78L549.48,1010.34L548.87,1014.87L548.26,1019.31L547.65,1023.59L547.04,1027.66L546.43,1031.45L545.83,1034.93L545.22,1038.03L544.62,1040.71L544.03,1042.92L543.46,1044.61L542.94,1045.73L542.63,1046.16L542.88,1046.08L543.13,1046.11L542.88,1045.84L542.41,1045.05L541.86,1043.81L541.29,1042.14L540.70,1040.10L540.10,1037.71L539.51,1035.00L538.91,1032.01L538.30,1028.76L537.70,1025.30L537.10,1021.65L536.49,1017.87L535.89,1013.98L535.29,1010.02L534.68,1006.05L534.08,1002.09L533.47,998.19L532.86,994.39L532.26,990.73L531.65,987.24L531.04,983.96L530.43,980.91L529.82,978.14L529.21,975.67L528.58,973.51L527.95,971.67L527.28,970.15L526.55,968.94L525.59,968.01L524.13,967.58L522.66,968.18L521.73,969.33L521.01,970.84L520.35,972.76L519.71,975.11L519.08,977.89L518.46,981.05L517.83,984.57L517.21,988.40L516.59,992.49L515.97,996.79L515.34,1001.24L514.72,1005.78L514.10,1010.34L513.48,1014.87L512.86,1019.31L512.24,1023.59L511.63,1027.65L511.01,1031.45L510.39,1034.92L509.78,1038.02L509.17,1040.70L508.57,1042.91L507.99,1044.61L507.46,1045.72L507.15,1046.15L507.33,1046.08L507.50,1046.08L507.26,1045.88L506.82,1045.31L506.30,1044.37L505.74,1043.09L505.16,1041.49L504.57,1039.60L503.97,1037.45L503.37,1035.04L502.77,1032.41L502.17,1029.58L501.56,1026.58L500.96,1023.41L500.35,1020.12L499.75,1016.74L499.14,1013.27L498.53,1009.77L497.93,1006.25L497.32,1002.74L496.71,999.27L496.10,995.87L495.49,992.56L494.88,989.38L494.27,986.34L493.66,983.47L493.05,980.79L492.44,978.33L491.82,976.09L491.19,974.10L490.56,972.36L489.91,970.87L489.22,969.64L488.44,968.64L487.46,967.89L486.32,967.58L485.33,967.66L484.49,967.90L483.68,968.28L482.93,968.78L482.21,969.39L481.51,970.11L480.85,970.92L480.19,971.83L479.55,972.83L478.92,973.93L478.29,975.12L477.67,976.40L477.05,977.76L476.43,979.21L475.82,980.74L475.21,982.34L474.60,984.02L473.99,985.76L473.38,987.57L472.77,989.43L472.17,991.34L471.56,993.31L470.96,995.31L470.35,997.35L469.75,999.41L469.14,1001.51L468.54,1003.61L467.93,1005.74L467.33,1007.86L466.73,1009.99L466.12,1012.10L465.52,1014.21L464.92,1016.29L464.32,1018.35L463.71,1020.37L463.11,1022.36L462.51,1024.31L461.91,1026.20L461.31,1028.04L460.71,1029.81L460.12,1031.52L459.52,1033.16L458.92,1034.72L458.33,1036.20L457.74,1037.59L457.15,1038.89L456.57,1040.09L455.99,1041.19L455.41,1042.19L454.85,1043.07L454.29,1043.84L453.76,1044.50L453.24,1045.03L452.75,1045.45L452.30,1045.74L451.90,1045.94L451.54,1046.04L451.20,1046.08L450.86,1046.04L450.50,1045.94L450.10,1045.74L449.65,1045.45L449.16,1045.03L448.64,1044.50L448.11,1043.84L447.55,1043.07L446.99,1042.19L446.41,1041.19L445.83,1040.09L445.25,1038.89L444.66,1037.59L444.07,1036.20L443.48,1034.72L442.88,1033.16L442.28,1031.52L441.69,1029.81L441.09,1028.04L440.49,1026.20L439.89,1024.31L439.29,1022.36L438.69,1020.37L438.08,1018.35L437.48,1016.29L436.88,1014.21L436.28,1012.10L435.67,1009.99L435.07,1007.86L434.47,1005.74L433.86,1003.61L433.26,1001.51L432.65,999.41L432.05,997.35L431.44,995.31L430.84,993.31L430.23,991.34L429.63,989.43L429.02,987.57L428.41,985.76L427.80,984.02L427.19,982.34L426.58,980.74L425.97,979.21L425.35,977.76L424.73,976.40L424.11,975.12L423.48,973.93L422.85,972.83L422.21,971.83L421.55,970.92L420.89,970.11L420.19,969.39L419.47,968.78L418.72,968.28L417.91,967.90L417.07,967.66L416.20,967.58L415.34,967.65L414.50,967.89L413.70,968.25L412.94,968.74L412.22,969.33L411.53,970.02L410.86,970.81L410.20,971.69L409.56,972.66L408.93,973.73L408.30,974.88L407.68,976.12L407.06,977.45L406.44,978.85L405.83,980.34L405.22,981.89L404.60,983.52L404.00,985.22L403.39,986.97L402.78,988.78L402.17,990.65L401.57,992.56L400.96,994.52L400.35,996.51L399.75,998.53L399.14,1000.58L398.54,1002.64L397.94,1004.72L397.33,1006.81L396.73,1008.90L396.13,1010.98L395.52,1013.06L394.92,1015.12L394.32,1017.16L393.72,1019.17L393.12,1021.15L392.51,1023.09L391.91,1024.98L391.31,1026.82L390.72,1028.61L390.12,1030.34L389.52,1032.00L388.92,1033.59L388.33,1035.10L387.74,1036.53L387.15,1037.88L386.56,1039.14L385.97,1040.30L385.40,1041.36L384.82,1042.32L384.26,1043.18L383.71,1043.92L383.17,1044.55L382.66,1045.06L382.17,1045.46L381.72,1045.75L381.31,1045.94L380.95,1046.04L380.60,1046.08L380.25,1046.04L379.89,1045.94L379.48,1045.75L379.03,1045.46L378.54,1045.06L378.03,1044.55L377.49,1043.92L376.94,1043.18L376.38,1042.32L375.80,1041.36L375.23,1040.30L374.64,1039.14L374.05,1037.88L373.46,1036.53L372.87,1035.10L372.28,1033.59L371.68,1032.00L371.08,1030.34L370.48,1028.61L369.89,1026.82L369.29,1024.98L368.69,1023.09L368.08,1021.15L367.48,1019.17L366.88,1017.16L366.28,1015.12L365.68,1013.06L365.07,1010.98L364.47,1008.90L363.87,1006.81L363.26,1004.72L362.66,1002.64L362.06,1000.58L361.45,998.53L360.85,996.51L360.24,994.52L359.63,992.56L359.03,990.65L358.42,988.78L357.81,986.97L357.20,985.22L356.60,983.52L355.98,981.89L355.37,980.34L354.76,978.85L354.14,977.45L353.52,976.12L352.90,974.88L352.27,973.73L351.64,972.66L351.00,971.69L350.34,970.81L349.67,970.02L348.98,969.33L348.26,968.74L347.50,968.25L346.70,967.89L345.86,967.65L345.00,967.58L344.13,967.66L343.29,967.90L342.48,968.28L341.73,968.78L341.01,969.39L340.31,970.11L339.65,970.92L338.99,971.83L338.35,972.83L337.72,973.93L337.09,975.12L336.47,976.40L335.85,977.76L335.23,979.21L334.62,980.74L334.01,982.34L333.40,984.02L332.79,985.76L332.18,987.57L331.57,989.43L330.97,991.34L330.36,993.31L329.76,995.31L329.15,997.35L328.55,999.41L327.94,1001.51L327.34,1003.61L326.73,1005.74L326.13,1007.86L325.53,1009.99L324.92,1012.10L324.32,1014.21L323.72,1016.29L323.12,1018.35L322.51,1020.37L321.91,1022.36L321.31,1024.31L320.71,1026.20L320.11,1028.04L319.51,1029.81L318.92,1031.52L318.32,1033.16L317.72,1034.72L317.13,1036.20L316.54,1037.59L315.95,1038.89L315.37,1040.09L314.79,1041.19L314.21,1042.19L313.65,1043.07L313.09,1043.84L312.56,1044.50L312.04,1045.03L311.55,1045.45L311.10,1045.74L310.70,1045.94L310.34,1046.04L310.00,1046.08L309.66,1046.04L309.30,1045.94L308.90,1045.74L308.45,1045.45L307.96,1045.03L307.44,1044.50L306.91,1043.84L306.35,1043.07L305.79,1042.19L305.21,1041.19L304.63,1040.09L304.05,1038.89L303.46,1037.59L302.87,1036.20L302.28,1034.72L301.68,1033.16L301.08,1031.52L300.49,1029.81L299.89,1028.04L299.29,1026.20L298.69,1024.31L298.09,1022.36L297.49,1020.37L296.88,1018.35L296.28,1016.29L295.68,1014.21L295.08,1012.10L294.47,1009.99L293.87,1007.86L293.27,1005.74L292.66,1003.61L292.06,1001.51L291.45,999.41L290.85,997.35L290.24,995.31L289.64,993.31L289.03,991.34L288.43,989.43L287.82,987.57L287.21,985.76L286.60,984.02L285.99,982.34L285.38,980.74L284.77,979.21L284.15,977.76L283.53,976.40L282.91,975.12L282.28,973.93L281.65,972.83L281.01,971.83L280.35,970.92L279.69,970.11L278.99,969.39L278.27,968.78L277.52,968.28L276.71,967.90L275.87,967.66L274.88,967.58L273.74,967.89L272.76,968.64L271.98,969.64L271.29,970.87L270.64,972.36L270.01,974.10L269.38,976.09L268.76,978.33L268.15,980.79L267.54,983.47L266.93,986.34L266.32,989.38L265.71,992.56L265.10,995.87L264.49,999.27L263.88,1002.74L263.27,1006.25L262.67,1009.77L262.06,1013.27L261.45,1016.74L260.85,1020.12L260.24,1023.41L259.64,1026.58L259.03,1029.58L258.43,1032.41L257.83,1035.04L257.23,1037.45L256.63,1039.60L256.04,1041.49L255.46,1043.09L254.90,1044.37L254.38,1045.31L253.94,1045.88L253.70,1046.08L253.87,1046.08L254.05,1046.15L253.74,1045.72L253.21,1044.61L252.63,1042.91L252.03,1040.70L251.42,1038.02L250.81,1034.92L250.19,1031.45L249.57,1027.65L248.96,1023.59L248.34,1019.31L247.72,1014.87L247.10,1010.34L246.48,1005.78L245.86,1001.24L245.23,996.79L244.61,992.49L243.99,988.40L243.37,984.57L242.74,981.05L242.12,977.89L241.49,975.11L240.85,972.76L240.19,970.84L239.47,969.33L238.54,968.18L237.07,967.58L235.61,968.01L234.65,968.94L233.92,970.15L233.25,971.67L232.62,973.51L231.99,975.67L231.38,978.14L230.77,980.91L230.16,983.96L229.55,987.24L228.94,990.73L228.34,994.39L227.73,998.19L227.12,1002.09L226.52,1006.05L225.91,1010.02L225.31,1013.98L224.71,1017.87L224.10,1021.65L223.50,1025.30L222.90,1028.76L222.29,1032.01L221.69,1035.00L221.10,1037.71L220.50,1040.10L219.91,1042.14L219.34,1043.81L218.79,1045.05L218.32,1045.84L218.07,1046.11L218.32,1046.08L218.57,1046.16L218.26,1045.73L217.74,1044.61L217.17,1042.92L216.58,1040.71L215.98,1038.03L215.37,1034.93L214.77,1031.45L214.16,1027.66L213.55,1023.59L212.94,1019.31L212.33,1014.87L211.72,1010.34L211.11,1005.78L210.50,1001.24L209.88,996.80L209.27,992.50L208.66,988.41L208.04,984.58L207.43,981.06L206.81,977.89L206.19,975.12L205.56,972.77L204.91,970.85L204.20,969.34L203.29,968.19L201.82,967.58L200.36,968.01L199.40,968.94L198.67,970.15L198.00,971.67L197.37,973.51L196.74,975.67L196.13,978.14L195.52,980.91L194.91,983.96L194.30,987.24L193.69,990.73L193.09,994.39L192.48,998.19L191.87,1002.09L191.27,1006.05L190.66,1010.02L190.06,1013.98L189.46,1017.87L188.85,1021.65L188.25,1025.30L187.65,1028.76L187.04,1032.01L186.44,1035.00L185.85,1037.71L185.25,1040.10L184.66,1042.14L184.09,1043.81L183.54,1045.05L183.07,1045.84L182.82,1046.11L183.08,1046.08L183.34,1046.16L183.03,1045.73L182.52,1044.62L181.96,1042.92L181.38,1040.71L180.78,1038.03L180.19,1034.93L179.59,1031.46L178.99,1027.66L178.39,1023.59L177.79,1019.31L177.19,1014.88L176.59,1010.35L175.99,1005.78L175.38,1001.24L174.78,996.80L174.18,992.50L173.58,988.41L172.97,984.58L172.37,981.06L171.76,977.90L171.14,975.12L170.52,972.77L169.88,970.85L169.19,969.35L168.29,968.20L166.83,967.58L165.36,968.01L164.40,968.94L163.67,970.15L163.00,971.67L162.37,973.51L161.74,975.67L161.13,978.14L160.52,980.91L159.91,983.96L159.30,987.24L158.69,990.73L158.09,994.39L157.48,998.19L156.87,1002.09L156.27,1006.05L155.66,1010.02L155.06,1013.98L154.46,1017.87L153.85,1021.65L153.25,1025.30L152.65,1028.76L152.04,1032.01L151.44,1035.00L150.85,1037.71L150.25,1040.10L149.66,1042.14L149.09,1043.81L148.54,1045.05L148.07,1045.84L147.82,1046.11L148.08,1046.08L148.34,1046.16L148.03,1045.73L147.52,1044.62L146.96,1042.92L146.38,1040.71L145.78,1038.03L145.19,1034.93L144.59,1031.46L143.99,1027.66L143.39,1023.59L142.79,1019.31L142.19,1014.88L141.59,1010.35L140.99,1005.78L140.38,1001.24L139.78,996.80L139.18,992.50L138.58,988.41L137.97,984.58L137.37,981.06L136.76,977.90L136.14,975.12L135.52,972.77L134.88,970.85L134.19,969.35L133.29,968.20L131.83,967.58L130.36,968.01L129.40,968.94L128.67,970.15L128.00,971.67L127.37,973.51L126.74,975.67L126.13,978.14L125.52,980.91L124.91,983.96L124.30,987.24L123.69,990.73L123.09,994.39L122.48,998.19L121.88,1002.09L121.27,1006.05L120.67,1010.02L120.08,1013.98L119.48,1017.87L118.88,1021.66L118.29,1025.30L117.70,1028.77L117.11,1032.02L116.52,1035.01L115.93,1037.73L115.34,1040.12L114.76,1042.17L114.19,1043.84L113.65,1045.11L113.17,1045.91L112.88,1046.21L113.07,1046.20L113.22,1046.25L112.87,1045.78L112.33,1044.66L111.74,1042.95L111.13,1040.74L110.50,1038.06L109.87,1034.96L109.24,1031.48L108.60,1027.69L107.96,1023.62L107.32,1019.34L106.67,1014.91L106.02,1010.38L105.37,1005.82L104.72,1001.29L104.08,996.85L103.43,992.56L102.78,988.48L102.13,984.66L101.48,981.15L100.83,978.00L100.19,975.25L99.54,972.93L98.88,971.06L98.20,969.64L97.40,968.65L96.28,968.19L95.18,968.56L94.38,969.39L93.71,970.58L93.08,972.13L92.48,974.04L91.87,976.31L91.28,978.92L90.69,981.85L90.10,985.06L89.52,988.51L88.93,992.18L88.35,996.03L87.77,1000.00L87.19,1004.07L86.61,1008.17L86.03,1012.28L85.45,1016.34L84.87,1020.31L84.29,1024.15L83.70,1027.81L83.12,1031.25L82.53,1034.45L81.94,1037.35L81.35,1039.93L80.76,1042.16L80.17,1044.01L79.58,1045.46L79.00,1046.49L78.46,1047.07L78.01,1047.24L77.55,1047.04L76.97,1046.32L76.36,1045.04L75.74,1043.26L75.11,1040.99L74.48,1038.28L73.84,1035.15L73.20,1031.66L72.57,1027.85L71.93,1023.78L71.29,1019.49L70.65,1015.05L70.03,1010.52L69.41,1005.95L68.79,1001.42L68.17,996.98L67.55,992.69L66.93,988.61L66.31,984.79L65.69,981.30L65.07,978.16L64.45,975.43L63.83,973.15L63.20,971.33L62.58,970.01L61.94,969.19L61.29,968.91Z" fill="#000"/>
</g>
<g id="panel-carrier">
<rect x="793.25" y="900.30" width="711.10" height="198.00" fill="#fdfefe"/>
<path d="M793.25,900.30V1105.30M811.03,900.30V1105.30M828.80,900.30V1105.30M846.58,900.30V1105.30M864.36,900.30V1105.30M882.14,900.30V1105.30M899.91,900.30V1105.30M917.69,900.30V1105.30M935.47,900.30V1105.30M953.25,900.30V1105.30M971.02,900.30V1105.30M988.80,900.30V1105.30M1006.58,900.30V1105.30M1024.36,900.30V1105.30M1042.13,900.30V1105.30M1059.91,900.30V1105.30M1077.69,900.30V1105.30M1095.47,900.30V1105.30M1113.24,900.30V1105.30M1131.02,900.30V1105.30M1148.80,900.30V1105.30M1166.58,900.30V1105.30M1184.36,900.30V1105.30M1202.13,900.30V1105.30M1219.91,900.30V1105.30M1237.69,900.30V1105.30M1255.46,900.30V1105.30M1273.24,900.30V1105.30M1291.02,900.30V1105.30M1308.80,900.30V1105.30M1326.58,900.30V1105.30M1344.35,900.30V1105.30M1362.13,900.30V1105.30M1379.91,900.30V1105.30M1397.68,900.30V1105.30M1415.46,900.30V1105.30M1433.24,900.30V1105.30M1451.02,900.30V1105.30M1468.80,900.30V1105.30M1486.57,900.30V1105.30M1504.35,900.30V1105.30M792.65,900.30H1510.55M792.65,918.30H1510.55M792.65,936.30H1510.55M792.65,954.30H1510.55M792.65,972.30H1510.55M792.65,990.30H1510.55M792.65,1008.30H1510.55M792.65,1026.30H1510.55M792.65,1044.30H1510.55M792.65,1062.30H1510.55M792.65,1080.30H1510.55M792.65,1098.30H1510.55M793.25,1105.30v3.6M811.03,1105.30v3.6M828.80,1105.30v3.6M846.58,1105.30v3.6M864.36,1105.30v3.6M882.14,1105.30v3.6M899.91,1105.30v3.6M917.69,1105.30v3.6M935.47,1105.30v3.6M953.25,1105.30v3.6M971.02,1105.30v3.6M988.80,1105.30v3.6M1006.58,1105.30v3.6M1024.36,1105.30v3.6M1042.13,1105.30v3.6M1059.91,1105.30v3.6M1077.69,1105.30v3.6M1095.47,1105.30v3.6M1113.24,1105.30v3.6M1131.02,1105.30v3.6M1148.80,1105.30v3.6M1166.58,1105.30v3.6M1184.36,1105.30v3.6M1202.13,1105.30v3.6M1219.91,1105.30v3.6M1237.69,1105.30v3.6M1255.46,1105.30v3.6M1273.24,1105.30v3.6M1291.02,1105.30v3.6M1308.80,1105.30v3.6M1326.58,1105.30v3.6M1344.35,1105.30v3.6M1362.13,1105.30v3.6M1379.91,1105.30v3.6M1397.68,1105.30v3.6M1415.46,1105.30v3.6M1433.24,1105.30v3.6M1451.02,1105.30v3.6M1468.80,1105.30v3.6M1486.57,1105.30v3.6M1504.35,1105.30v3.6M1510.55,900.30h2M1510.55,918.30h2M1510.55,936.30h2M1510.55,954.30h2M1510.55,972.30h2M1510.55,990.30h2M1510.55,1008.30h2M1510.55,1026.30h2M1510.55,1044.30h2M1510.55,1062.30h2M1510.55,1080.30h2M1510.55,1098.30h2" fill="none" stroke="#eefafc" stroke-width="3"/>
<path d="M793.25,900.30V1105.30M811.03,900.30V1105.30M828.80,900.30V1105.30M846.58,900.30V1105.30M864.36,900.30V1105.30M882.14,900.30V1105.30M899.91,900.30V1105.30M917.69,900.30V1105.30M935.47,900.30V1105.30M953.25,900.30V1105.30M971.02,900.30V1105.30M988.80,900.30V1105.30M1006.58,900.30V1105.30M1024.36,900.30V1105.30M1042.13,900.30V1105.30M1059.91,900.30V1105.30M1077.69,900.30V1105.30M1095.47,900.30V1105.30M1113.24,900.30V1105.30M1131.02,900.30V1105.30M1148.80,900.30V1105.30M1166.58,900.30V1105.30M1184.36,900.30V1105.30M1202.13,900.30V1105.30M1219.91,900.30V1105.30M1237.69,900.30V1105.30M1255.46,900.30V1105.30M1273.24,900.30V1105.30M1291.02,900.30V1105.30M1308.80,900.30V1105.30M1326.58,900.30V1105.30M1344.35,900.30V1105.30M1362.13,900.30V1105.30M1379.91,900.30V1105.30M1397.68,900.30V1105.30M1415.46,900.30V1105.30M1433.24,900.30V1105.30M1451.02,900.30V1105.30M1468.80,900.30V1105.30M1486.57,900.30V1105.30M1504.35,900.30V1105.30M792.65,900.30H1510.55M792.65,918.30H1510.55M792.65,936.30H1510.55M792.65,954.30H1510.55M792.65,972.30H1510.55M792.65,990.30H1510.55M792.65,1008.30H1510.55M792.65,1026.30H1510.55M792.65,1044.30H1510.55M792.65,1062.30H1510.55M792.65,1080.30H1510.55M792.65,1098.30H1510.55" fill="none" stroke="#c0dbe4" stroke-width="1.1"/>
<path d="M793.25,1105.30v3.6M811.03,1105.30v3.6M828.80,1105.30v3.6M846.58,1105.30v3.6M864.36,1105.30v3.6M882.14,1105.30v3.6M899.91,1105.30v3.6M917.69,1105.30v3.6M935.47,1105.30v3.6M953.25,1105.30v3.6M971.02,1105.30v3.6M988.80,1105.30v3.6M1006.58,1105.30v3.6M1024.36,1105.30v3.6M1042.13,1105.30v3.6M1059.91,1105.30v3.6M1077.69,1105.30v3.6M1095.47,1105.30v3.6M1113.24,1105.30v3.6M1131.02,1105.30v3.6M1148.80,1105.30v3.6M1166.58,1105.30v3.6M1184.36,1105.30v3.6M1202.13,1105.30v3.6M1219.91,1105.30v3.6M1237.69,1105.30v3.6M1255.46,1105.30v3.6M1273.24,1105.30v3.6M1291.02,1105.30v3.6M1308.80,1105.30v3.6M1326.58,1105.30v3.6M1344.35,1105.30v3.6M1362.13,1105.30v3.6M1379.91,1105.30v3.6M1397.68,1105.30v3.6M1415.46,1105.30v3.6M1433.24,1105.30v3.6M1451.02,1105.30v3.6M1468.80,1105.30v3.6M1486.57,1105.30v3.6M1504.35,1105.30v3.6M1510.55,900.30h2M1510.55,918.30h2M1510.55,936.30h2M1510.55,954.30h2M1510.55,972.30h2M1510.55,990.30h2M1510.55,1008.30h2M1510.55,1026.30h2M1510.55,1044.30h2M1510.55,1062.30h2M1510.55,1080.30h2M1510.55,1098.30h2" fill="none" stroke="#c0dbe4" stroke-width="1.1" opacity="0.5"/>
<path d="M825.5,1008.3H1482" stroke="#c5557f" stroke-width="1.6" fill="none"/>
<text y="900.4" font-family="'Liberation Sans', sans-serif" font-size="39" fill="#000" stroke="#000" stroke-width="0.6"><tspan x="809.19" textLength="125.89" lengthAdjust="spacingAndGlyphs">Carrier</tspan> <tspan x="946.51" textLength="110.76" lengthAdjust="spacingAndGlyphs">signal</tspan></text>
<path d="M833.72,968.90L834.30,969.08L834.87,969.65L835.46,970.61L836.06,971.95L836.65,973.65L837.25,975.71L837.85,978.09L838.45,980.77L839.05,983.73L839.65,986.93L840.25,990.34L840.85,993.93L841.45,997.66L842.05,1001.50L842.65,1005.40L843.25,1009.33L843.85,1013.25L844.45,1017.11L845.05,1020.88L845.65,1024.52L846.25,1028.00L846.85,1031.28L847.45,1034.32L848.05,1037.10L848.65,1039.59L849.25,1041.76L849.84,1043.60L850.44,1045.08L851.05,1046.20L851.67,1046.95L852.32,1047.30L853.00,1047.23L853.65,1046.74L854.27,1045.87L854.88,1044.63L855.48,1043.03L856.09,1041.08L856.70,1038.79L857.31,1036.20L857.92,1033.33L858.53,1030.21L859.14,1026.86L859.76,1023.33L860.37,1019.64L860.98,1015.83L861.60,1011.95L862.21,1008.03L862.83,1004.10L863.44,1000.22L864.06,996.42L864.67,992.74L865.29,989.21L865.90,985.87L866.51,982.75L867.12,979.89L867.73,977.32L868.34,975.06L868.94,973.14L869.54,971.58L870.12,970.40L870.67,969.64L871.12,969.28L871.46,969.25L871.86,969.48L872.38,970.12L872.94,971.17L873.52,972.61L874.10,974.42L874.69,976.57L875.27,979.05L875.86,981.82L876.44,984.86L877.03,988.14L877.61,991.61L878.19,995.25L878.77,999.03L879.36,1002.89L879.94,1006.81L880.52,1010.74L881.10,1014.65L881.68,1018.49L882.26,1022.22L882.85,1025.82L883.43,1029.24L884.02,1032.46L884.61,1035.43L885.20,1038.13L885.79,1040.54L886.39,1042.63L887.00,1044.39L887.63,1045.82L888.30,1046.92L889.10,1047.69L890.15,1048.02L891.20,1047.69L892.01,1046.91L892.69,1045.81L893.33,1044.38L893.96,1042.62L894.58,1040.52L895.20,1038.12L895.82,1035.41L896.43,1032.44L897.05,1029.23L897.67,1025.81L898.28,1022.21L898.90,1018.48L899.52,1014.64L900.14,1010.74L900.75,1006.81L901.37,1002.90L901.99,999.04L902.60,995.28L903.22,991.65L903.83,988.18L904.44,984.93L905.05,981.91L905.66,979.16L906.26,976.71L906.85,974.59L907.44,972.82L908.01,971.45L908.53,970.51L908.92,970.03L908.99,969.97L908.87,969.97L909.08,970.15L909.52,970.80L910.05,971.90L910.62,973.42L911.19,975.31L911.77,977.55L912.36,980.11L912.94,982.96L913.53,986.08L914.11,989.41L914.70,992.94L915.29,996.63L915.88,1000.43L916.46,1004.32L917.05,1008.24L917.64,1012.17L918.23,1016.06L918.82,1019.87L919.42,1023.57L920.01,1027.11L920.61,1030.47L921.20,1033.61L921.80,1036.51L922.41,1039.12L923.02,1041.45L923.63,1043.46L924.27,1045.14L924.94,1046.52L925.73,1047.61L926.80,1048.40L928.26,1048.54L929.47,1047.89L930.32,1046.89L931.02,1045.61L931.67,1044.02L932.30,1042.11L932.92,1039.88L933.53,1037.35L934.14,1034.54L934.74,1031.48L935.35,1028.18L935.95,1024.69L936.56,1021.04L937.16,1017.26L937.76,1013.39L938.36,1009.47L938.96,1005.54L939.56,1001.65L940.16,997.81L940.76,994.09L941.35,990.51L941.95,987.12L942.55,983.94L943.14,981.01L943.74,978.36L944.33,976.02L944.91,974.03L945.48,972.41L946.02,971.20L946.48,970.45L946.72,970.19L946.54,970.22L946.36,970.19L946.62,970.46L947.08,971.23L947.62,972.45L948.19,974.08L948.77,976.09L949.36,978.43L949.96,981.09L950.55,984.03L951.15,987.21L951.75,990.62L952.34,994.20L952.94,997.93L953.54,1001.76L954.14,1005.66L954.74,1009.59L955.34,1013.50L955.94,1017.37L956.54,1021.15L957.14,1024.80L957.75,1028.28L958.35,1031.57L958.95,1034.63L959.56,1037.43L960.17,1039.95L960.79,1042.17L961.41,1044.07L962.06,1045.66L962.76,1046.94L963.62,1047.94L964.86,1048.58L966.33,1048.41L967.40,1047.60L968.19,1046.50L968.86,1045.11L969.50,1043.41L970.12,1041.39L970.73,1039.06L971.34,1036.43L971.95,1033.53L972.55,1030.39L973.15,1027.02L973.76,1023.47L974.36,1019.77L974.96,1015.96L975.56,1012.07L976.16,1008.14L976.76,1004.22L977.36,1000.34L977.96,996.54L978.56,992.86L979.15,989.34L979.75,986.01L980.35,982.91L980.94,980.08L981.53,977.53L982.12,975.31L982.70,973.44L983.26,971.95L983.78,970.89L984.19,970.30L984.31,970.19L984.03,970.21L984.01,970.23L984.36,970.67L984.86,971.59L985.41,972.96L985.98,974.72L986.57,976.84L987.16,979.30L987.75,982.05L988.35,985.08L988.95,988.34L989.54,991.81L990.14,995.45L990.74,999.21L991.34,1003.07L991.94,1006.99L992.54,1010.92L993.14,1014.82L993.74,1018.66L994.34,1022.40L994.95,1025.99L995.55,1029.42L996.15,1032.63L996.76,1035.61L997.36,1038.32L997.97,1040.74L998.59,1042.85L999.22,1044.64L999.89,1046.12L1000.62,1047.31L1001.58,1048.21L1002.97,1048.62L1004.34,1048.18L1005.28,1047.26L1006.02,1046.06L1006.68,1044.57L1007.31,1042.76L1007.93,1040.64L1008.54,1038.21L1009.14,1035.48L1009.75,1032.50L1010.35,1029.27L1010.95,1025.84L1011.56,1022.23L1012.16,1018.49L1012.76,1014.65L1013.36,1010.74L1013.96,1006.81L1014.56,1002.90L1015.16,999.04L1015.76,995.28L1016.36,991.65L1016.95,988.19L1017.55,984.94L1018.15,981.92L1018.74,979.18L1019.33,976.74L1019.91,974.64L1020.49,972.89L1021.04,971.54L1021.54,970.64L1021.88,970.22L1021.83,970.22L1021.56,970.19L1021.69,970.32L1022.11,970.93L1022.64,972.01L1023.20,973.51L1023.78,975.40L1024.37,977.64L1024.96,980.20L1025.55,983.05L1026.15,986.16L1026.75,989.49L1027.34,993.02L1027.94,996.71L1028.54,1000.51L1029.14,1004.39L1029.74,1008.32L1030.34,1012.24L1030.94,1016.13L1031.54,1019.94L1032.14,1023.63L1032.75,1027.17L1033.35,1030.53L1033.95,1033.67L1034.56,1036.56L1035.17,1039.17L1035.78,1041.49L1036.40,1043.49L1037.04,1045.18L1037.72,1046.55L1038.51,1047.64L1039.60,1048.43L1041.08,1048.56L1042.30,1047.90L1043.14,1046.89L1043.84,1045.59L1044.49,1044.00L1045.12,1042.08L1045.73,1039.85L1046.34,1037.32L1046.95,1034.50L1047.55,1031.43L1048.15,1028.13L1048.76,1024.64L1049.36,1020.98L1049.96,1017.20L1050.56,1013.33L1051.16,1009.41L1051.76,1005.49L1052.36,1001.59L1052.96,997.76L1053.56,994.04L1054.15,990.46L1054.75,987.07L1055.35,983.89L1055.94,980.96L1056.54,978.32L1057.13,975.99L1057.71,974.00L1058.28,972.39L1058.81,971.18L1059.27,970.44L1059.51,970.19L1059.32,970.22L1059.15,970.19L1059.41,970.47L1059.88,971.24L1060.42,972.47L1060.99,974.11L1061.57,976.12L1062.16,978.47L1062.76,981.13L1063.35,984.07L1063.95,987.26L1064.55,990.67L1065.14,994.25L1065.74,997.98L1066.34,1001.82L1066.94,1005.72L1067.54,1009.65L1068.14,1013.56L1068.74,1017.43L1069.34,1021.20L1069.94,1024.85L1070.55,1028.33L1071.15,1031.62L1071.75,1034.67L1072.36,1037.47L1072.97,1039.99L1073.59,1042.20L1074.21,1044.10L1074.86,1045.68L1075.57,1046.95L1076.43,1047.95L1077.67,1048.58L1079.14,1048.40L1080.21,1047.59L1080.99,1046.48L1081.66,1045.09L1082.30,1043.38L1082.92,1041.36L1083.53,1039.03L1084.14,1036.39L1084.75,1033.49L1085.35,1030.34L1085.95,1026.97L1086.56,1023.42L1087.16,1019.72L1087.76,1015.90L1088.36,1012.01L1088.96,1008.09L1089.56,1004.16L1090.16,1000.28L1090.76,996.49L1091.36,992.81L1091.95,989.29L1092.55,985.97L1093.15,982.87L1093.74,980.04L1094.33,977.50L1094.92,975.28L1095.50,973.41L1096.06,971.93L1096.58,970.88L1096.99,970.30L1097.10,970.20L1096.82,970.21L1096.80,970.23L1097.16,970.68L1097.66,971.61L1098.21,972.98L1098.78,974.75L1099.37,976.88L1099.96,979.33L1100.55,982.09L1101.15,985.12L1101.75,988.39L1102.34,991.86L1102.94,995.50L1103.54,999.27L1104.14,1003.13L1104.74,1007.05L1105.34,1010.97L1105.94,1014.88L1106.54,1018.72L1107.14,1022.45L1107.75,1026.05L1108.35,1029.47L1108.95,1032.68L1109.56,1035.65L1110.16,1038.36L1110.77,1040.77L1111.39,1042.88L1112.02,1044.67L1112.69,1046.14L1113.43,1047.32L1114.39,1048.22L1115.78,1048.62L1117.15,1048.17L1118.09,1047.24L1118.82,1046.04L1119.48,1044.55L1120.11,1042.74L1120.73,1040.60L1121.34,1038.17L1121.94,1035.44L1122.55,1032.45L1123.15,1029.22L1123.75,1025.79L1124.36,1022.18L1124.96,1018.44L1125.56,1014.59L1126.16,1010.69L1126.76,1006.76L1127.36,1002.84L1127.96,998.99L1128.56,995.23L1129.16,991.60L1129.75,988.14L1130.35,984.89L1130.95,981.88L1131.54,979.14L1132.13,976.71L1132.71,974.61L1133.29,972.87L1133.84,971.53L1134.33,970.63L1134.67,970.22L1134.62,970.22L1134.35,970.19L1134.49,970.32L1134.91,970.94L1135.44,972.03L1136.00,973.54L1136.58,975.43L1137.17,977.67L1137.76,980.24L1138.35,983.09L1138.95,986.20L1139.55,989.54L1140.14,993.08L1140.74,996.76L1141.34,1000.57L1141.94,1004.45L1142.54,1008.37L1143.14,1012.30L1143.74,1016.18L1144.34,1019.99L1144.94,1023.68L1145.55,1027.22L1146.15,1030.58L1146.75,1033.71L1147.36,1036.60L1147.97,1039.21L1148.58,1041.52L1149.20,1043.52L1149.84,1045.20L1150.52,1046.57L1151.31,1047.66L1152.41,1048.44L1153.89,1048.56L1155.10,1047.89L1155.95,1046.87L1156.64,1045.57L1157.29,1043.97L1157.92,1042.05L1158.53,1039.81L1159.14,1037.28L1159.75,1034.46L1160.35,1031.38L1160.95,1028.08L1161.56,1024.59L1162.16,1020.93L1162.76,1017.15L1163.36,1013.28L1163.96,1009.36L1164.56,1005.43L1165.16,1001.53L1165.76,997.70L1166.36,993.98L1166.95,990.41L1167.55,987.02L1168.15,983.85L1168.74,980.92L1169.34,978.28L1169.93,975.96L1170.51,973.98L1171.08,972.37L1171.61,971.17L1172.07,970.43L1172.31,970.19L1172.11,970.22L1171.95,970.19L1172.21,970.48L1172.68,971.26L1173.22,972.49L1173.79,974.14L1174.37,976.15L1174.96,978.51L1175.56,981.17L1176.15,984.12L1176.75,987.31L1177.35,990.72L1177.94,994.31L1178.54,998.04L1179.14,1001.87L1179.74,1005.78L1180.34,1009.70L1180.94,1013.62L1181.54,1017.48L1182.14,1021.26L1182.74,1024.90L1183.35,1028.38L1183.95,1031.66L1184.55,1034.72L1185.16,1037.51L1185.77,1040.02L1186.39,1042.23L1187.01,1044.12L1187.66,1045.70L1188.37,1046.97L1189.23,1047.96L1190.49,1048.58L1191.95,1048.39L1193.01,1047.57L1193.79,1046.46L1194.46,1045.07L1195.10,1043.36L1195.72,1041.33L1196.33,1038.99L1196.94,1036.35L1197.55,1033.45L1198.15,1030.29L1198.75,1026.92L1199.36,1023.36L1199.96,1019.66L1200.56,1015.84L1201.16,1011.95L1201.76,1008.03L1202.36,1004.11L1202.96,1000.23L1203.56,996.43L1204.16,992.76L1204.75,989.24L1205.35,985.92L1205.95,982.83L1206.54,980.00L1207.13,977.46L1207.72,975.25L1208.30,973.39L1208.86,971.91L1209.38,970.87L1209.78,970.29L1209.88,970.20L1209.60,970.21L1209.59,970.23L1209.95,970.69L1210.46,971.63L1211.01,973.01L1211.58,974.78L1212.17,976.91L1212.76,979.37L1213.35,982.14L1213.95,985.17L1214.55,988.44L1215.14,991.91L1215.74,995.55L1216.34,999.33L1216.94,1003.19L1217.54,1007.10L1218.14,1011.03L1218.74,1014.93L1219.34,1018.77L1219.94,1022.50L1220.55,1026.10L1221.15,1029.52L1221.75,1032.72L1222.36,1035.69L1222.96,1038.39L1223.58,1040.81L1224.19,1042.91L1224.83,1044.69L1225.49,1046.16L1226.23,1047.34L1227.20,1048.23L1228.60,1048.62L1229.96,1048.16L1230.89,1047.23L1231.62,1046.02L1232.28,1044.52L1232.91,1042.71L1233.53,1040.57L1234.14,1038.13L1234.74,1035.40L1235.35,1032.40L1235.95,1029.17L1236.55,1025.74L1237.16,1022.13L1237.76,1018.38L1238.36,1014.53L1238.96,1010.63L1239.56,1006.70L1240.16,1002.79L1240.76,998.93L1241.36,995.17L1241.96,991.55L1242.55,988.09L1243.15,984.85L1243.75,981.84L1244.34,979.11L1244.93,976.68L1245.51,974.58L1246.09,972.85L1246.64,971.51L1247.13,970.62L1247.46,970.22L1247.41,970.22L1247.14,970.19L1247.29,970.33L1247.71,970.95L1248.24,972.05L1248.80,973.56L1249.38,975.46L1249.97,977.71L1250.56,980.28L1251.15,983.13L1251.75,986.25L1252.35,989.59L1252.94,993.13L1253.54,996.82L1254.14,1000.62L1254.74,1004.51L1255.34,1008.43L1255.94,1012.36L1256.54,1016.24L1257.14,1020.05L1257.74,1023.74L1258.35,1027.28L1258.95,1030.63L1259.55,1033.76L1260.16,1036.64L1260.77,1039.24L1261.38,1041.55L1262.00,1043.55L1262.64,1045.22L1263.32,1046.59L1264.12,1047.67L1265.22,1048.45L1266.70,1048.55L1267.91,1047.87L1268.75,1046.85L1269.45,1045.55L1270.09,1043.94L1270.72,1042.02L1271.33,1039.78L1271.94,1037.24L1272.55,1034.41L1273.15,1031.34L1273.75,1028.03L1274.36,1024.53L1274.96,1020.87L1275.56,1017.09L1276.16,1013.22L1276.76,1009.30L1277.36,1005.37L1277.96,1001.47L1278.56,997.65L1279.16,993.93L1279.75,990.36L1280.35,986.97L1280.95,983.80L1281.54,980.88L1282.14,978.25L1282.72,975.93L1283.31,973.95L1283.87,972.35L1284.41,971.16L1284.87,970.42L1285.10,970.19L1284.90,970.22L1284.74,970.19L1285.01,970.48L1285.48,971.27L1286.02,972.52L1286.59,974.16L1287.17,976.18L1287.76,978.54L1288.36,981.21L1288.95,984.16L1289.55,987.36L1290.15,990.77L1290.74,994.36L1291.34,998.09L1291.94,1001.93L1292.54,1005.83L1293.14,1009.76L1293.74,1013.68L1294.34,1017.54L1294.94,1021.31L1295.54,1024.95L1296.15,1028.43L1296.75,1031.71L1297.35,1034.76L1297.96,1037.55L1298.57,1040.06L1299.19,1042.26L1299.81,1044.15L1300.46,1045.72L1301.17,1046.99L1302.04,1047.98L1303.30,1048.59L1304.76,1048.38L1305.82,1047.56L1306.59,1046.44L1307.26,1045.04L1307.90,1043.33L1308.52,1041.30L1309.13,1038.95L1309.74,1036.31L1310.35,1033.40L1310.95,1030.24L1311.55,1026.87L1312.16,1023.31L1312.76,1019.60L1313.36,1015.79L1313.96,1011.90L1314.56,1007.97L1315.16,1004.05L1315.76,1000.17L1316.36,996.38L1316.96,992.70L1317.55,989.19L1318.15,985.87L1318.75,982.78L1319.34,979.96L1319.93,977.43L1320.52,975.22L1321.10,973.36L1321.66,971.90L1322.18,970.85L1322.58,970.29L1322.67,970.20L1322.39,970.21L1322.39,970.24L1322.75,970.70L1323.25,971.65L1323.81,973.03L1324.38,974.81L1324.97,976.94L1325.56,979.41L1326.15,982.18L1326.75,985.22L1327.35,988.49L1327.94,991.97L1328.54,995.61L1329.14,999.38L1329.74,1003.24L1330.34,1007.16L1330.94,1011.09L1331.54,1014.99L1332.14,1018.83L1332.74,1022.56L1333.35,1026.15L1333.95,1029.56L1334.55,1032.77L1335.16,1035.73L1335.76,1038.43L1336.38,1040.84L1336.99,1042.94L1337.63,1044.72L1338.29,1046.18L1339.03,1047.35L1340.01,1048.24L1341.41,1048.62L1342.77,1048.14L1343.69,1047.21L1344.42,1046.00L1345.08,1044.50L1345.71,1042.68L1346.33,1040.54L1346.94,1038.09L1347.54,1035.36L1348.15,1032.36L1348.75,1029.12L1349.35,1025.68L1349.96,1022.07L1350.56,1018.32L1351.16,1014.48L1351.76,1010.57L1352.36,1006.64L1352.96,1002.73L1353.56,998.88L1354.16,995.12L1354.76,991.50L1355.35,988.04L1355.95,984.80L1356.55,981.80L1357.14,979.07L1357.73,976.64L1358.31,974.55L1358.89,972.82L1359.44,971.49L1359.93,970.61L1360.26,970.21L1360.19,970.22L1359.93,970.19L1360.08,970.34L1360.51,970.97L1361.04,972.07L1361.60,973.59L1362.18,975.49L1362.77,977.74L1363.36,980.32L1363.95,983.18L1364.55,986.30L1365.15,989.64L1365.74,993.18L1366.34,996.87L1366.94,1000.68L1367.54,1004.57L1368.14,1008.49L1368.74,1012.41L1369.34,1016.30L1369.94,1020.10L1370.55,1023.79L1371.15,1027.33L1371.76,1030.67L1372.36,1033.80L1372.97,1036.68L1373.58,1039.28L1374.20,1041.58L1374.82,1043.57L1375.46,1045.24L1376.15,1046.60L1376.94,1047.67L1378.04,1048.43L1379.51,1048.52L1380.69,1047.84L1381.53,1046.82L1382.22,1045.52L1382.86,1043.91L1383.48,1041.98L1384.09,1039.73L1384.70,1037.19L1385.30,1034.36L1385.89,1031.28L1386.49,1027.97L1387.08,1024.47L1387.68,1020.81L1388.27,1017.02L1388.86,1013.15L1389.45,1009.22L1390.04,1005.30L1390.63,1001.40L1391.21,997.57L1391.80,993.85L1392.39,990.28L1392.98,986.89L1393.56,983.72L1394.15,980.80L1394.73,978.16L1395.31,975.84L1395.89,973.85L1396.46,972.24L1397.00,971.03L1397.48,970.27L1397.76,969.98L1397.69,969.98L1397.67,969.99L1398.01,970.34L1398.51,971.17L1399.07,972.44L1399.65,974.11L1400.24,976.14L1400.84,978.51L1401.45,981.19L1402.06,984.15L1402.67,987.35L1403.28,990.76L1403.89,994.36L1404.51,998.09L1405.12,1001.93L1405.74,1005.83L1406.36,1009.76L1406.98,1013.67L1407.59,1017.52L1408.21,1021.29L1408.83,1024.92L1409.45,1028.39L1410.06,1031.66L1410.68,1034.69L1411.30,1037.47L1411.92,1039.95L1412.53,1042.13L1413.16,1043.97L1413.80,1045.49L1414.46,1046.67L1415.23,1047.53L1416.21,1048.00L1417.31,1047.83L1418.16,1047.14L1418.86,1046.12L1419.49,1044.78L1420.10,1043.10L1420.71,1041.09L1421.30,1038.76L1421.89,1036.13L1422.48,1033.22L1423.07,1030.07L1423.66,1026.70L1424.24,1023.14L1424.82,1019.43L1425.40,1015.61L1425.99,1011.72L1426.57,1007.79L1427.15,1003.87L1427.73,999.98L1428.31,996.19L1428.89,992.51L1429.48,988.99L1430.06,985.66L1430.64,982.56L1431.23,979.72L1431.81,977.16L1432.40,974.92L1432.98,973.03L1433.56,971.49L1434.13,970.34L1434.67,969.60L1435.11,969.28L1435.44,969.25L1435.86,969.51L1436.39,970.17L1436.97,971.25L1437.56,972.71L1438.16,974.55L1438.77,976.72L1439.37,979.22L1439.99,982.01L1440.60,985.07L1441.21,988.35L1441.82,991.84L1442.44,995.49L1443.05,999.26L1443.67,1003.13L1444.28,1007.04L1444.90,1010.97L1445.51,1014.87L1446.13,1018.69L1446.74,1022.42L1447.35,1025.99L1447.97,1029.39L1448.58,1032.57L1449.19,1035.51L1449.80,1038.17L1450.41,1040.54L1451.01,1042.57L1451.62,1044.26L1452.23,1045.60L1452.85,1046.56L1453.48,1047.14L1454.16,1047.32L1454.82,1047.07L1455.45,1046.42L1456.06,1045.40L1456.66,1044.00L1457.25,1042.25L1457.85,1040.16L1458.45,1037.75L1459.05,1035.04L1459.65,1032.06L1460.25,1028.84L1460.85,1025.41L1461.45,1021.80L1462.05,1018.06L1462.65,1014.22L1463.25,1010.31L1463.85,1006.38L1464.45,1002.47L1465.05,998.61L1465.65,994.85L1466.25,991.22L1466.85,987.76L1467.45,984.51L1468.05,981.49L1468.65,978.73L1469.25,976.27L1469.85,974.14L1470.44,972.34L1471.04,970.91L1471.63,969.85L1472.21,969.18L1472.79,968.90L1472.71,968.72L1472.09,969.03L1471.47,969.74L1470.86,970.82L1470.26,972.27L1469.65,974.08L1469.05,976.22L1468.45,978.69L1467.85,981.44L1467.25,984.47L1466.65,987.73L1466.05,991.19L1465.45,994.82L1464.85,998.58L1464.25,1002.44L1463.65,1006.35L1463.05,1010.28L1462.45,1014.19L1461.85,1018.03L1461.25,1021.77L1460.65,1025.38L1460.05,1028.80L1459.45,1032.02L1458.85,1035.00L1458.25,1037.70L1457.65,1040.11L1457.05,1042.19L1456.44,1043.92L1455.84,1045.29L1455.25,1046.28L1454.68,1046.87L1454.14,1047.07L1453.62,1046.92L1453.05,1046.40L1452.47,1045.47L1451.88,1044.16L1451.29,1042.48L1450.69,1040.46L1450.10,1038.10L1449.51,1035.44L1448.92,1032.51L1448.33,1029.32L1447.75,1025.93L1447.16,1022.35L1446.57,1018.62L1445.99,1014.79L1445.40,1010.89L1444.82,1006.96L1444.23,1003.04L1443.65,999.17L1443.06,995.39L1442.48,991.73L1441.89,988.23L1441.30,984.93L1440.71,981.86L1440.13,979.05L1439.53,976.53L1438.94,974.32L1438.34,972.43L1437.73,970.90L1437.11,969.71L1436.44,968.88L1435.66,968.41L1434.79,968.46L1434.03,968.99L1433.37,969.88L1432.74,971.13L1432.12,972.73L1431.50,974.67L1430.89,976.93L1430.27,979.50L1429.66,982.36L1429.04,985.47L1428.42,988.80L1427.81,992.33L1427.19,996.01L1426.57,999.80L1425.95,1003.68L1425.33,1007.60L1424.71,1011.52L1424.10,1015.41L1423.48,1019.22L1422.86,1022.91L1422.24,1026.45L1421.63,1029.80L1421.02,1032.93L1420.41,1035.81L1419.80,1038.39L1419.19,1040.67L1418.60,1042.60L1418.01,1044.16L1417.44,1045.33L1416.94,1046.06L1416.59,1046.35L1416.49,1046.38L1416.27,1046.25L1415.84,1045.73L1415.30,1044.77L1414.74,1043.39L1414.17,1041.63L1413.58,1039.52L1413.00,1037.07L1412.42,1034.33L1411.84,1031.32L1411.25,1028.07L1410.67,1024.61L1410.09,1020.98L1409.51,1017.22L1408.92,1013.37L1408.34,1009.45L1407.76,1005.52L1407.18,1001.61L1406.59,997.76L1406.01,994.01L1405.42,990.40L1404.83,986.96L1404.24,983.72L1403.65,980.73L1403.06,977.99L1402.46,975.55L1401.85,973.42L1401.23,971.61L1400.59,970.12L1399.89,968.95L1399.03,968.07L1397.81,967.62L1396.54,967.96L1395.62,968.79L1394.90,969.92L1394.24,971.36L1393.61,973.12L1392.99,975.20L1392.37,977.60L1391.75,980.29L1391.14,983.24L1390.52,986.44L1389.91,989.85L1389.30,993.44L1388.69,997.17L1388.07,1001.00L1387.46,1004.90L1386.85,1008.83L1386.24,1012.74L1385.63,1016.60L1385.02,1020.38L1384.42,1024.02L1383.81,1027.50L1383.21,1030.77L1382.60,1033.81L1382.00,1036.58L1381.41,1039.05L1380.82,1041.19L1380.24,1042.97L1379.68,1044.36L1379.17,1045.31L1378.81,1045.78L1378.79,1045.82L1379.06,1045.83L1378.96,1045.73L1378.55,1045.16L1378.04,1044.12L1377.48,1042.65L1376.90,1040.80L1376.32,1038.59L1375.73,1036.06L1375.14,1033.24L1374.54,1030.15L1373.95,1026.84L1373.35,1023.32L1372.76,1019.65L1372.16,1015.86L1371.56,1011.98L1370.96,1008.06L1370.36,1004.13L1369.76,1000.24L1369.16,996.42L1368.56,992.72L1367.95,989.16L1367.35,985.78L1366.75,982.62L1366.14,979.71L1365.53,977.07L1364.92,974.72L1364.30,972.68L1363.66,970.97L1362.99,969.56L1362.22,968.45L1361.17,967.62L1359.71,967.41L1358.44,968.02L1357.57,969.01L1356.86,970.27L1356.21,971.84L1355.59,973.72L1354.97,975.92L1354.36,978.43L1353.75,981.22L1353.15,984.27L1352.55,987.54L1351.94,991.02L1351.34,994.66L1350.74,998.43L1350.14,1002.29L1349.54,1006.21L1348.94,1010.14L1348.34,1014.04L1347.74,1017.88L1347.14,1021.61L1346.55,1025.20L1345.95,1028.62L1345.35,1031.82L1344.76,1034.77L1344.16,1037.44L1343.57,1039.80L1342.99,1041.82L1342.42,1043.47L1341.88,1044.72L1341.41,1045.51L1341.13,1045.81L1341.29,1045.78L1341.49,1045.81L1341.27,1045.58L1340.81,1044.85L1340.27,1043.66L1339.71,1042.06L1339.12,1040.09L1338.54,1037.77L1337.94,1035.14L1337.35,1032.22L1336.75,1029.05L1336.15,1025.67L1335.56,1022.10L1334.96,1018.38L1334.36,1014.55L1333.76,1010.66L1333.16,1006.73L1332.56,1002.81L1331.96,998.94L1331.36,995.15L1330.76,991.49L1330.15,987.99L1329.55,984.69L1328.95,981.61L1328.34,978.78L1327.73,976.24L1327.12,974.00L1326.49,972.07L1325.85,970.46L1325.15,969.16L1324.31,968.13L1323.11,967.45L1321.63,967.55L1320.52,968.32L1319.72,969.40L1319.04,970.76L1318.40,972.44L1317.78,974.43L1317.17,976.74L1316.56,979.34L1315.95,982.22L1315.35,985.35L1314.75,988.70L1314.14,992.24L1313.54,995.93L1312.94,999.73L1312.34,1003.62L1311.74,1007.54L1311.14,1011.46L1310.54,1015.35L1309.94,1019.16L1309.34,1022.85L1308.75,1026.38L1308.15,1029.72L1307.55,1032.84L1306.96,1035.70L1306.37,1038.27L1305.78,1040.52L1305.20,1042.42L1304.64,1043.94L1304.11,1045.04L1303.68,1045.67L1303.54,1045.81L1303.80,1045.78L1303.86,1045.79L1303.53,1045.39L1303.04,1044.50L1302.49,1043.17L1301.91,1041.44L1301.33,1039.34L1300.74,1036.91L1300.15,1034.18L1299.55,1031.18L1298.95,1027.93L1298.36,1024.48L1297.76,1020.85L1297.16,1017.10L1296.56,1013.24L1295.96,1009.33L1295.36,1005.40L1294.76,1001.49L1294.16,997.65L1293.56,993.90L1292.95,990.29L1292.35,986.85L1291.75,983.62L1291.14,980.62L1290.54,977.89L1289.93,975.45L1289.31,973.31L1288.68,971.49L1288.02,969.99L1287.29,968.78L1286.36,967.85L1285.00,967.38L1283.60,967.76L1282.63,968.66L1281.89,969.83L1281.23,971.30L1280.59,973.08L1279.98,975.18L1279.36,977.59L1278.76,980.29L1278.15,983.25L1277.55,986.46L1276.95,989.88L1276.34,993.47L1275.74,997.20L1275.14,1001.04L1274.54,1004.94L1273.94,1008.87L1273.34,1012.78L1272.74,1016.65L1272.14,1020.42L1271.54,1024.06L1270.95,1027.53L1270.35,1030.81L1269.75,1033.84L1269.16,1036.61L1268.57,1039.07L1267.98,1041.21L1267.41,1042.98L1266.85,1044.36L1266.35,1045.31L1265.99,1045.77L1266.00,1045.79L1266.28,1045.80L1266.18,1045.71L1265.78,1045.14L1265.26,1044.09L1264.70,1042.62L1264.12,1040.77L1263.53,1038.56L1262.94,1036.02L1262.35,1033.19L1261.75,1030.10L1261.15,1026.78L1260.56,1023.27L1259.96,1019.60L1259.36,1015.80L1258.76,1011.92L1258.16,1008.00L1257.56,1004.08L1256.96,1000.18L1256.36,996.37L1255.76,992.66L1255.15,989.11L1254.55,985.73L1253.95,982.58L1253.34,979.67L1252.73,977.03L1252.12,974.69L1251.50,972.66L1250.86,970.95L1250.19,969.55L1249.41,968.43L1248.36,967.61L1246.89,967.41L1245.64,968.03L1244.77,969.02L1244.06,970.29L1243.41,971.86L1242.79,973.75L1242.17,975.96L1241.56,978.47L1240.95,981.26L1240.35,984.31L1239.75,987.59L1239.14,991.07L1238.54,994.72L1237.94,998.49L1237.34,1002.35L1236.74,1006.27L1236.14,1010.20L1235.54,1014.10L1234.94,1017.93L1234.34,1021.67L1233.75,1025.26L1233.15,1028.67L1232.55,1031.86L1231.96,1034.81L1231.36,1037.48L1230.77,1039.83L1230.19,1041.85L1229.62,1043.50L1229.08,1044.73L1228.61,1045.52L1228.34,1045.81L1228.50,1045.78L1228.70,1045.81L1228.47,1045.57L1228.01,1044.84L1227.47,1043.64L1226.91,1042.04L1226.32,1040.06L1225.74,1037.73L1225.14,1035.10L1224.55,1032.18L1223.95,1029.01L1223.35,1025.62L1222.76,1022.04L1222.16,1018.32L1221.56,1014.50L1220.96,1010.60L1220.36,1006.67L1219.76,1002.75L1219.16,998.88L1218.56,995.10L1217.96,991.44L1217.35,987.94L1216.75,984.64L1216.15,981.56L1215.54,978.74L1214.93,976.20L1214.32,973.97L1213.69,972.04L1213.04,970.44L1212.35,969.14L1211.51,968.12L1210.30,967.45L1208.82,967.55L1207.72,968.33L1206.92,969.42L1206.24,970.79L1205.60,972.47L1204.98,974.46L1204.37,976.77L1203.76,979.38L1203.15,982.27L1202.55,985.40L1201.95,988.75L1201.34,992.29L1200.74,995.98L1200.14,999.79L1199.54,1003.67L1198.94,1007.60L1198.34,1011.52L1197.74,1015.41L1197.14,1019.21L1196.54,1022.90L1195.95,1026.43L1195.35,1029.77L1194.75,1032.89L1194.16,1035.74L1193.57,1038.31L1192.98,1040.55L1192.40,1042.45L1191.84,1043.96L1191.31,1045.05L1190.89,1045.67L1190.75,1045.81L1191.01,1045.78L1191.07,1045.78L1190.73,1045.38L1190.24,1044.48L1189.69,1043.14L1189.11,1041.41L1188.53,1039.31L1187.94,1036.88L1187.35,1034.14L1186.75,1031.13L1186.15,1027.88L1185.56,1024.43L1184.96,1020.80L1184.36,1017.04L1183.76,1013.18L1183.16,1009.27L1182.56,1005.34L1181.96,1001.44L1181.36,997.59L1180.76,993.85L1180.15,990.24L1179.55,986.80L1178.95,983.57L1178.34,980.58L1177.74,977.85L1177.13,975.41L1176.51,973.28L1175.88,971.46L1175.22,969.97L1174.49,968.76L1173.55,967.84L1172.19,967.38L1170.79,967.77L1169.83,968.67L1169.09,969.85L1168.42,971.32L1167.79,973.11L1167.17,975.21L1166.56,977.62L1165.96,980.33L1165.35,983.30L1164.75,986.51L1164.15,989.93L1163.54,993.52L1162.94,997.26L1162.34,1001.09L1161.74,1005.00L1161.14,1008.93L1160.54,1012.84L1159.94,1016.70L1159.34,1020.47L1158.74,1024.11L1158.15,1027.58L1157.55,1030.85L1156.95,1033.88L1156.36,1036.65L1155.77,1039.11L1155.18,1041.24L1154.61,1043.01L1154.06,1044.38L1153.55,1045.32L1153.20,1045.77L1153.21,1045.79L1153.49,1045.80L1153.39,1045.70L1152.98,1045.13L1152.46,1044.08L1151.90,1042.60L1151.32,1040.74L1150.73,1038.52L1150.14,1035.98L1149.55,1033.15L1148.95,1030.06L1148.35,1026.73L1147.76,1023.22L1147.16,1019.54L1146.56,1015.74L1145.96,1011.87L1145.36,1007.94L1144.76,1004.02L1144.16,1000.13L1143.56,996.31L1142.96,992.61L1142.35,989.06L1141.75,985.69L1141.15,982.53L1140.54,979.63L1139.93,976.99L1139.32,974.66L1138.70,972.63L1138.06,970.92L1137.39,969.53L1136.61,968.42L1135.55,967.60L1134.08,967.42L1132.83,968.04L1131.97,969.04L1131.26,970.31L1130.61,971.89L1129.99,973.78L1129.37,975.99L1128.76,978.51L1128.15,981.30L1127.55,984.36L1126.95,987.64L1126.34,991.13L1125.74,994.77L1125.14,998.55L1124.54,1002.41L1123.94,1006.33L1123.34,1010.25L1122.74,1014.16L1122.14,1017.99L1121.54,1021.72L1120.95,1025.31L1120.35,1028.71L1119.75,1031.91L1119.16,1034.85L1118.56,1037.51L1117.97,1039.87L1117.39,1041.88L1116.82,1043.52L1116.28,1044.75L1115.81,1045.53L1115.55,1045.81L1115.72,1045.78L1115.91,1045.81L1115.67,1045.57L1115.21,1044.82L1114.68,1043.62L1114.11,1042.01L1113.53,1040.03L1112.94,1037.70L1112.34,1035.06L1111.75,1032.13L1111.15,1028.96L1110.55,1025.56L1109.96,1021.99L1109.36,1018.27L1108.76,1014.44L1108.16,1010.54L1107.56,1006.61L1106.96,1002.70L1106.36,998.83L1105.76,995.05L1105.16,991.39L1104.55,987.89L1103.95,984.59L1103.35,981.52L1102.74,978.70L1102.13,976.17L1101.52,973.93L1100.89,972.02L1100.24,970.42L1099.54,969.12L1098.70,968.11L1097.48,967.44L1096.00,967.56L1094.91,968.35L1094.12,969.44L1093.44,970.81L1092.80,972.49L1092.18,974.50L1091.57,976.81L1090.96,979.42L1090.35,982.31L1089.75,985.45L1089.15,988.80L1088.54,992.34L1087.94,996.04L1087.34,999.84L1086.74,1003.73L1086.14,1007.65L1085.54,1011.58L1084.94,1015.46L1084.34,1019.27L1083.74,1022.95L1083.15,1026.48L1082.55,1029.82L1081.95,1032.93L1081.36,1035.78L1080.77,1038.35L1080.18,1040.59L1079.60,1042.47L1079.04,1043.98L1078.51,1045.07L1078.09,1045.68L1077.96,1045.81L1078.23,1045.78L1078.27,1045.78L1077.93,1045.37L1077.44,1044.46L1076.89,1043.12L1076.31,1041.38L1075.73,1039.27L1075.14,1036.84L1074.55,1034.10L1073.95,1031.08L1073.35,1027.83L1072.76,1024.37L1072.16,1020.75L1071.56,1016.98L1070.96,1013.13L1070.36,1009.21L1069.76,1005.29L1069.16,1001.38L1068.56,997.54L1067.96,993.79L1067.35,990.19L1066.75,986.75L1066.15,983.53L1065.54,980.54L1064.94,977.81L1064.33,975.38L1063.71,973.25L1063.08,971.44L1062.42,969.95L1061.69,968.75L1060.75,967.83L1059.38,967.38L1057.99,967.78L1057.03,968.69L1056.29,969.87L1055.62,971.34L1054.99,973.13L1054.37,975.24L1053.76,977.66L1053.16,980.37L1052.55,983.34L1051.95,986.56L1051.35,989.98L1050.74,993.58L1050.14,997.31L1049.54,1001.15L1048.94,1005.06L1048.34,1008.98L1047.74,1012.90L1047.14,1016.76L1046.54,1020.53L1045.94,1024.16L1045.35,1027.63L1044.75,1030.90L1044.15,1033.93L1043.56,1036.68L1042.97,1039.14L1042.38,1041.26L1041.81,1043.03L1041.26,1044.40L1040.76,1045.33L1040.40,1045.77L1040.42,1045.79L1040.70,1045.81L1040.59,1045.70L1040.18,1045.12L1039.66,1044.06L1039.10,1042.57L1038.52,1040.71L1037.93,1038.49L1037.34,1035.94L1036.75,1033.11L1036.15,1030.01L1035.55,1026.68L1034.96,1023.16L1034.36,1019.49L1033.76,1015.69L1033.16,1011.81L1032.56,1007.89L1031.96,1003.96L1031.36,1000.07L1030.76,996.26L1030.16,992.56L1029.55,989.00L1028.95,985.64L1028.35,982.49L1027.74,979.59L1027.13,976.96L1026.52,974.62L1025.90,972.60L1025.26,970.90L1024.59,969.51L1023.81,968.41L1022.74,967.60L1021.27,967.42L1020.02,968.05L1019.16,969.06L1018.46,970.33L1017.81,971.91L1017.19,973.81L1016.57,976.03L1015.96,978.55L1015.35,981.35L1014.75,984.41L1014.15,987.69L1013.54,991.18L1012.94,994.83L1012.34,998.60L1011.74,1002.47L1011.14,1006.38L1010.54,1010.31L1009.94,1014.21L1009.34,1018.05L1008.74,1021.77L1008.15,1025.36L1007.55,1028.76L1006.95,1031.95L1006.36,1034.89L1005.76,1037.55L1005.17,1039.90L1004.59,1041.90L1004.02,1043.54L1003.48,1044.76L1003.02,1045.54L1002.76,1045.81L1002.93,1045.78L1003.12,1045.81L1002.88,1045.56L1002.41,1044.81L1001.88,1043.60L1001.31,1041.98L1000.73,1039.99L1000.14,1037.66L999.54,1035.01L998.95,1032.09L998.35,1028.91L997.75,1025.51L997.16,1021.94L996.56,1018.21L995.96,1014.38L995.36,1010.48L994.76,1006.56L994.16,1002.64L993.56,998.77L992.96,994.99L992.36,991.34L991.75,987.84L991.15,984.55L990.55,981.48L989.94,978.66L989.33,976.13L988.72,973.90L988.09,971.99L987.44,970.40L986.74,969.11L985.89,968.09L984.67,967.44L983.19,967.57L982.11,968.36L981.32,969.46L980.64,970.83L980.00,972.52L979.38,974.53L978.77,976.85L978.16,979.46L977.55,982.35L976.95,985.49L976.35,988.85L975.74,992.40L975.14,996.09L974.54,999.90L973.94,1003.79L973.34,1007.71L972.74,1011.64L972.14,1015.52L971.54,1019.32L970.94,1023.00L970.35,1026.53L969.75,1029.87L969.15,1032.98L968.56,1035.82L967.97,1038.38L967.38,1040.62L966.80,1042.50L966.24,1044.00L965.71,1045.08L965.30,1045.68L965.17,1045.81L965.44,1045.78L965.48,1045.78L965.14,1045.36L964.64,1044.45L964.09,1043.10L963.51,1041.35L962.93,1039.24L962.34,1036.80L961.75,1034.05L961.15,1031.04L960.55,1027.78L959.96,1024.32L959.36,1020.69L958.76,1016.93L958.16,1013.07L957.56,1009.16L956.96,1005.23L956.36,1001.32L955.76,997.48L955.16,993.74L954.55,990.13L953.95,986.70L953.35,983.48L952.74,980.50L952.14,977.78L951.53,975.34L950.91,973.22L950.28,971.42L949.62,969.93L948.88,968.73L947.94,967.82L946.56,967.38L945.18,967.79L944.22,968.70L943.48,969.89L942.82,971.37L942.19,973.16L941.57,975.28L940.96,977.70L940.36,980.41L939.75,983.39L939.15,986.61L938.55,990.03L937.94,993.63L937.34,997.37L936.74,1001.21L936.14,1005.11L935.54,1009.04L934.94,1012.96L934.34,1016.82L933.74,1020.58L933.15,1024.22L932.55,1027.68L931.96,1030.95L931.36,1033.97L930.77,1036.73L930.18,1039.18L929.60,1041.30L929.03,1043.06L928.48,1044.42L927.98,1045.35L927.63,1045.79L927.64,1045.81L927.90,1045.83L927.77,1045.71L927.36,1045.12L926.83,1044.05L926.27,1042.56L925.68,1040.69L925.09,1038.46L924.50,1035.91L923.90,1033.07L923.29,1029.97L922.69,1026.64L922.08,1023.12L921.48,1019.44L920.87,1015.65L920.26,1011.77L919.65,1007.85L919.04,1003.92L918.42,1000.04L917.81,996.22L917.20,992.53L916.59,988.98L915.97,985.62L915.36,982.48L914.74,979.59L914.13,976.97L913.51,974.65L912.88,972.65L912.25,970.97L911.58,969.61L910.82,968.55L909.83,967.81L908.51,967.67L907.38,968.26L906.57,969.21L905.89,970.46L905.26,972.03L904.65,973.92L904.04,976.13L903.44,978.65L902.85,981.45L902.26,984.51L901.67,987.80L901.08,991.29L900.50,994.94L899.91,998.72L899.33,1002.58L898.75,1006.50L898.16,1010.43L897.58,1014.34L897.00,1018.17L896.42,1021.91L895.83,1025.49L895.25,1028.90L894.67,1032.10L894.08,1035.05L893.50,1037.71L892.92,1040.08L892.34,1042.10L891.77,1043.77L891.21,1045.05L890.69,1045.90L890.30,1046.31L890.15,1046.38L890.00,1046.32L889.60,1045.92L889.07,1045.08L888.50,1043.81L887.91,1042.15L887.31,1040.13L886.70,1037.77L886.09,1035.11L885.48,1032.17L884.87,1028.98L884.25,1025.58L883.64,1022.00L883.02,1018.27L882.40,1014.44L881.78,1010.55L881.16,1006.62L880.54,1002.71L879.93,998.84L879.31,995.07L878.69,991.43L878.07,987.95L877.46,984.67L876.84,981.62L876.23,978.83L875.61,976.34L875.00,974.15L874.38,972.29L873.76,970.79L873.12,969.63L872.44,968.82L871.64,968.40L870.78,968.49L870.03,969.05L869.38,969.97L868.76,971.25L868.16,972.87L867.56,974.84L866.97,977.13L866.38,979.73L865.79,982.61L865.20,985.74L864.61,989.09L864.03,992.63L863.44,996.32L862.86,1000.13L862.27,1004.02L861.69,1007.95L861.10,1011.87L860.52,1015.76L859.93,1019.57L859.34,1023.26L858.76,1026.79L858.17,1030.14L857.58,1033.27L856.99,1036.13L856.40,1038.72L855.81,1040.99L855.22,1042.94L854.62,1044.52L854.03,1045.74L853.45,1046.56L852.90,1046.99L852.38,1047.06L851.83,1046.76L851.25,1046.07L850.66,1044.98L850.06,1043.52L849.45,1041.70L848.85,1039.54L848.25,1037.06L847.65,1034.28L847.05,1031.24L846.45,1027.97L845.85,1024.49L845.25,1020.85L844.65,1017.08L844.05,1013.21L843.45,1009.30L842.85,1005.37L842.25,1001.47L841.65,997.63L841.05,993.90L840.45,990.31L839.85,986.89L839.25,983.69L838.65,980.73L838.05,978.04L837.45,975.66L836.85,973.59L836.24,971.87L835.64,970.51L835.03,969.52L834.40,968.91L833.78,968.70Z" fill="#000"/>
</g>
</svg>
</body></html>
